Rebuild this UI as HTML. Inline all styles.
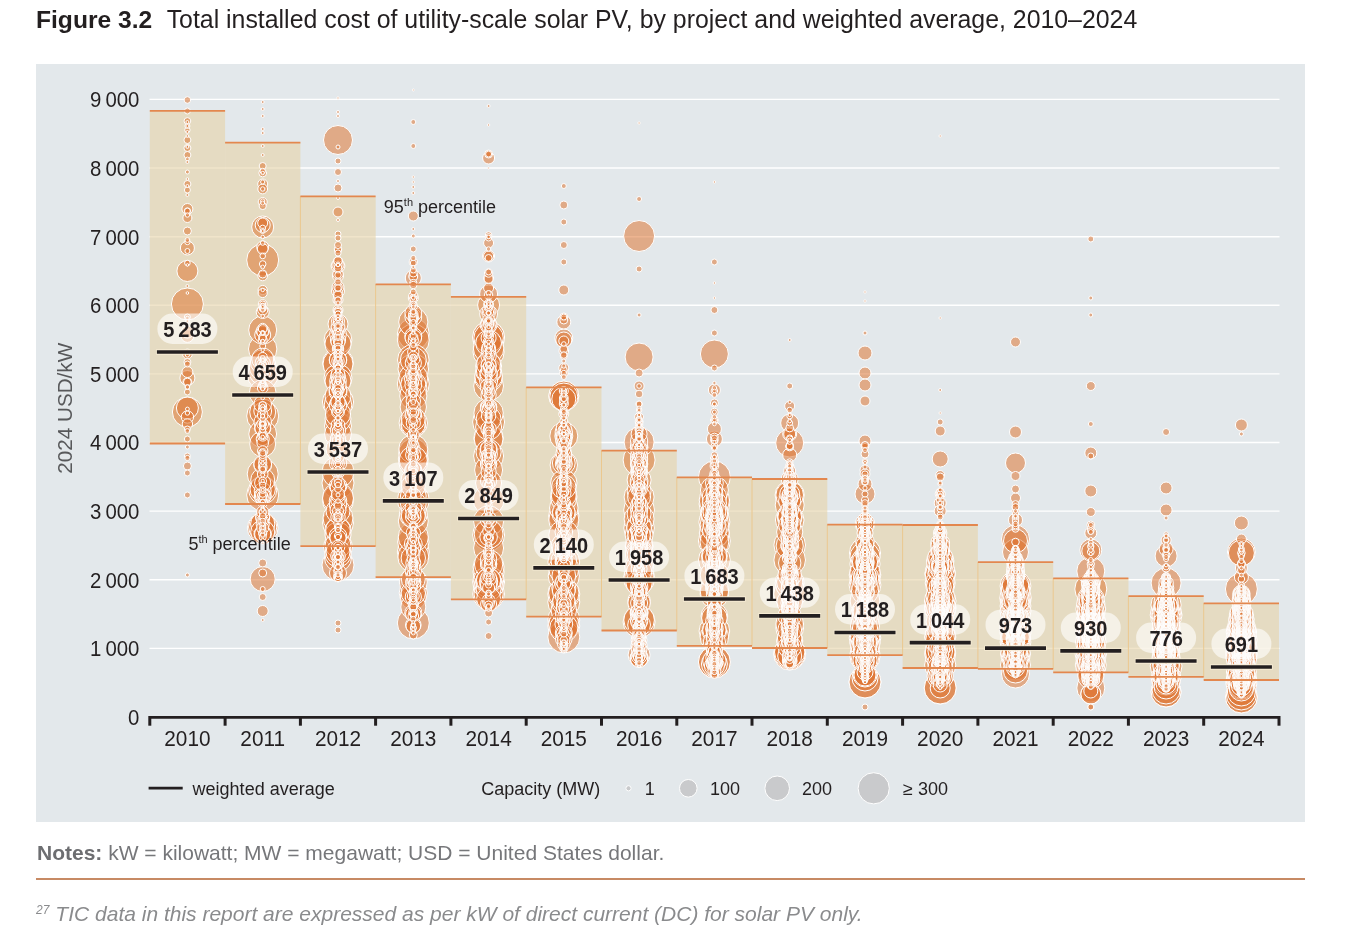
<!DOCTYPE html><html><head><meta charset="utf-8"><style>
html,body{margin:0;padding:0;background:#fff;width:1362px;height:938px;overflow:hidden}
body{position:relative;font-family:"Liberation Sans",Arial,sans-serif;color:#231f20}
.t{position:absolute;white-space:nowrap}
#title{left:36px;top:3px;font-size:24.87px;line-height:32px;color:#231f20}
#title b{font-size:24.6px;margin-right:14.5px}
#notes{left:37px;top:839.5px;font-size:21.0px;line-height:26px;color:#76777a}
#notes b{color:#6d6e71}
#sep{position:absolute;left:36px;top:878px;width:1269px;height:2px;background:#c78a64}
#foot{left:36px;top:901px;font-size:21.0px;line-height:26px;font-style:italic;color:#8a8b8d}
#foot sup{font-size:12px;vertical-align:0;position:relative;top:-7px;margin-right:6px}
svg{position:absolute;left:0;top:0}
</style></head><body>
<div class="t" id="title"><b>Figure 3.2</b>Total installed cost of utility-scale solar PV, by project and weighted average, 2010–2024</div>
<svg width="1362" height="938" viewBox="0 0 1362 938" font-family="Liberation Sans, Arial, sans-serif"><defs><filter id="blur" x="-20%" y="-30%" width="140%" height="160%"><feGaussianBlur stdDeviation="0.6"/></filter></defs><rect x="36" y="64" width="1269" height="758" fill="#e3e8eb"/><line x1="149.5" x2="1279.5" y1="648.4" y2="648.4" stroke="#fff" stroke-width="1.4"/><line x1="149.5" x2="1279.5" y1="579.8" y2="579.8" stroke="#fff" stroke-width="1.4"/><line x1="149.5" x2="1279.5" y1="511.1" y2="511.1" stroke="#fff" stroke-width="1.4"/><line x1="149.5" x2="1279.5" y1="442.5" y2="442.5" stroke="#fff" stroke-width="1.4"/><line x1="149.5" x2="1279.5" y1="373.9" y2="373.9" stroke="#fff" stroke-width="1.4"/><line x1="149.5" x2="1279.5" y1="305.3" y2="305.3" stroke="#fff" stroke-width="1.4"/><line x1="149.5" x2="1279.5" y1="236.7" y2="236.7" stroke="#fff" stroke-width="1.4"/><line x1="149.5" x2="1279.5" y1="168.0" y2="168.0" stroke="#fff" stroke-width="1.4"/><line x1="149.5" x2="1279.5" y1="99.4" y2="99.4" stroke="#fff" stroke-width="1.4"/><rect x="149.8" y="110.9" width="75.28" height="332.6" fill="#e6d3aa" fill-opacity="0.62"/><rect x="225.1" y="142.6" width="75.28" height="361.4" fill="#e6d3aa" fill-opacity="0.62"/><rect x="300.4" y="196.3" width="75.28" height="349.9" fill="#e6d3aa" fill-opacity="0.62"/><rect x="375.6" y="284.4" width="75.28" height="292.8" fill="#e6d3aa" fill-opacity="0.62"/><rect x="450.9" y="296.8" width="75.28" height="302.5" fill="#e6d3aa" fill-opacity="0.62"/><rect x="526.2" y="387.3" width="75.28" height="229.3" fill="#e6d3aa" fill-opacity="0.62"/><rect x="601.5" y="450.6" width="75.28" height="179.9" fill="#e6d3aa" fill-opacity="0.62"/><rect x="676.8" y="477.3" width="75.28" height="168.6" fill="#e6d3aa" fill-opacity="0.62"/><rect x="752.0" y="479" width="75.28" height="169.0" fill="#e6d3aa" fill-opacity="0.62"/><rect x="827.3" y="524.6" width="75.28" height="130.6" fill="#e6d3aa" fill-opacity="0.62"/><rect x="902.6" y="525" width="75.28" height="143.0" fill="#e6d3aa" fill-opacity="0.62"/><rect x="977.9" y="562.2" width="75.28" height="106.6" fill="#e6d3aa" fill-opacity="0.62"/><rect x="1053.2" y="578.3" width="75.28" height="94.1" fill="#e6d3aa" fill-opacity="0.62"/><rect x="1128.4" y="596.2" width="75.28" height="80.7" fill="#e6d3aa" fill-opacity="0.62"/><rect x="1203.7" y="603.3" width="75.28" height="76.7" fill="#e6d3aa" fill-opacity="0.62"/><line x1="300.4" x2="300.4" y1="196.3" y2="504" stroke="#ebc88f" stroke-width="1"/><line x1="375.6" x2="375.6" y1="284.4" y2="546.2" stroke="#ebc88f" stroke-width="1"/><line x1="526.2" x2="526.2" y1="387.3" y2="599.3" stroke="#ebc88f" stroke-width="1"/><line x1="601.5" x2="601.5" y1="450.6" y2="616.6" stroke="#ebc88f" stroke-width="1"/><line x1="676.8" x2="676.8" y1="477.3" y2="630.5" stroke="#ebc88f" stroke-width="1"/><line x1="752.0" x2="752.0" y1="479" y2="645.9" stroke="#ebc88f" stroke-width="1"/><line x1="827.3" x2="827.3" y1="524.6" y2="648" stroke="#ebc88f" stroke-width="1"/><line x1="902.6" x2="902.6" y1="525" y2="655.2" stroke="#ebc88f" stroke-width="1"/><line x1="977.9" x2="977.9" y1="562.2" y2="668" stroke="#ebc88f" stroke-width="1"/><line x1="1053.2" x2="1053.2" y1="578.3" y2="668.8" stroke="#ebc88f" stroke-width="1"/><line x1="1128.4" x2="1128.4" y1="596.2" y2="672.4" stroke="#ebc88f" stroke-width="1"/><line x1="1203.7" x2="1203.7" y1="603.3" y2="676.9" stroke="#ebc88f" stroke-width="1"/><g fill="#de7634" fill-opacity="0.55" stroke="#fff" stroke-width="1"><g transform="translate(187.4 0)"><circle cy="304" r="16.0"/><circle cy="412" r="15.0"/><circle cy="408" r="11.0"/><circle cy="271" r="10.5"/><circle cy="378" r="7.5"/><circle cy="248" r="7.0"/><circle cy="336" r="6.4"/><circle cy="417" r="6.2"/><circle cy="332" r="6.1"/><circle cy="209" r="5.5"/><circle cy="372" r="5.5"/><circle cy="424" r="5.2"/><circle cy="354" r="4.9"/><circle cy="218" r="4.5"/><circle cy="382" r="4.4"/><circle cy="231" r="4.0"/><circle cy="466" r="4.0"/><circle cy="382" r="3.9"/><circle cy="140" r="3.5"/><circle cy="155" r="3.5"/><circle cy="184" r="3.5"/><circle cy="362" r="3.5"/><circle cy="148" r="3.5"/><circle cy="121" r="3.4"/><circle cy="100" r="3.3"/><circle cy="211" r="3.2"/><circle cy="364" r="3.0"/><circle cy="111" r="3.0"/><circle cy="190" r="3.0"/><circle cy="392" r="3.0"/><circle cy="429" r="3.0"/><circle cy="439" r="3.0"/><circle cy="456" r="3.0"/><circle cy="473" r="3.0"/><circle cy="495" r="3.0"/><circle cy="317" r="3.0"/><circle cy="211" r="2.9"/><circle cy="263" r="2.8"/><circle cy="130" r="2.7"/><circle cy="242" r="2.7"/><circle cy="458" r="2.6"/><circle cy="251" r="2.5"/><circle cy="126" r="2.5"/><circle cy="240" r="2.4"/><circle cy="431" r="2.4"/><circle cy="387" r="2.3"/><circle cy="215" r="2.2"/><circle cy="413" r="2.2"/><circle cy="387" r="2.2"/><circle cy="355" r="2.1"/><circle cy="172" r="2.0"/><circle cy="447" r="2.0"/><circle cy="575" r="2.0"/><circle cy="159" r="1.9"/><circle cy="322" r="1.9"/><circle cy="409" r="1.9"/><circle cy="318" r="1.8"/><circle cy="321" r="1.6"/><circle cy="286" r="1.5"/><circle cy="146" r="1.5"/><circle cy="122" r="1.5"/><circle cy="126" r="1.5"/><circle cy="132" r="1.5"/><circle cy="147" r="1.5"/><circle cy="162" r="1.5"/><circle cy="195" r="1.5"/><circle cy="186" r="1.5"/><circle cy="136" r="1.4"/><circle cy="179" r="1.3"/><circle cy="293" r="1.3"/><circle cy="353" r="1.3"/><circle cy="265" r="1.3"/></g><g transform="translate(262.7 0)"><circle cy="260" r="16.0"/><circle cy="416" r="16.0"/><circle cy="495" r="16.0"/><circle cy="474" r="15.5"/><circle cy="528" r="15.4"/><circle cy="375" r="15.3"/><circle cy="349" r="14.2"/><circle cy="490" r="14.1"/><circle cy="371" r="14.1"/><circle cy="527" r="14.1"/><circle cy="330" r="14.0"/><circle cy="434" r="13.9"/><circle cy="367" r="13.5"/><circle cy="393" r="13.4"/><circle cy="412" r="13.0"/><circle cy="444" r="13.0"/><circle cy="489" r="12.7"/><circle cy="579" r="12.5"/><circle cy="362" r="12.3"/><circle cy="524" r="12.1"/><circle cy="480" r="12.0"/><circle cy="532" r="12.0"/><circle cy="227" r="11.0"/><circle cy="359" r="11.0"/><circle cy="465" r="8.9"/><circle cy="411" r="8.9"/><circle cy="464" r="8.9"/><circle cy="422" r="8.8"/><circle cy="404" r="8.8"/><circle cy="534" r="8.7"/><circle cy="491" r="8.5"/><circle cy="496" r="8.5"/><circle cy="496" r="8.3"/><circle cy="428" r="8.2"/><circle cy="372" r="8.1"/><circle cy="483" r="8.1"/><circle cy="534" r="8.1"/><circle cy="335" r="8.0"/><circle cy="428" r="7.8"/><circle cy="363" r="7.6"/><circle cy="225" r="7.5"/><circle cy="496" r="7.3"/><circle cy="517" r="7.1"/><circle cy="518" r="6.9"/><circle cy="524" r="6.6"/><circle cy="331" r="6.6"/><circle cy="439" r="6.5"/><circle cy="312" r="6.5"/><circle cy="365" r="6.2"/><circle cy="512" r="6.2"/><circle cy="521" r="6.1"/><circle cy="247" r="6.0"/><circle cy="528" r="6.0"/><circle cy="332" r="5.8"/><circle cy="424" r="5.8"/><circle cy="443" r="5.8"/><circle cy="497" r="5.7"/><circle cy="373" r="5.6"/><circle cy="611" r="5.5"/><circle cy="249" r="5.4"/><circle cy="415" r="5.3"/><circle cy="474" r="5.3"/><circle cy="388" r="5.3"/><circle cy="451" r="5.2"/><circle cy="436" r="5.1"/><circle cy="374" r="5.1"/><circle cy="310" r="5.1"/><circle cy="223" r="5.0"/><circle cy="184" r="5.0"/><circle cy="369" r="5.0"/><circle cy="495" r="4.9"/><circle cy="189" r="4.9"/><circle cy="276" r="4.8"/><circle cy="503" r="4.7"/><circle cy="521" r="4.7"/><circle cy="328" r="4.7"/><circle cy="290" r="4.6"/><circle cy="357" r="4.6"/><circle cy="293" r="4.6"/><circle cy="202" r="4.5"/><circle cy="501" r="4.5"/><circle cy="340" r="4.5"/><circle cy="467" r="4.4"/><circle cy="434" r="4.4"/><circle cy="304" r="4.4"/><circle cy="366" r="4.3"/><circle cy="329" r="4.3"/><circle cy="409" r="4.2"/><circle cy="453" r="4.2"/><circle cy="533" r="4.1"/><circle cy="385" r="4.1"/><circle cy="463" r="4.1"/><circle cy="337" r="4.0"/><circle cy="497" r="4.0"/><circle cy="274" r="4.0"/><circle cy="563" r="4.0"/><circle cy="573" r="4.0"/><circle cy="365" r="4.0"/><circle cy="406" r="4.0"/><circle cy="500" r="3.9"/><circle cy="481" r="3.9"/><circle cy="173" r="3.9"/><circle cy="534" r="3.9"/><circle cy="517" r="3.9"/><circle cy="424" r="3.8"/><circle cy="373" r="3.8"/><circle cy="460" r="3.8"/><circle cy="497" r="3.7"/><circle cy="435" r="3.7"/><circle cy="436" r="3.7"/><circle cy="457" r="3.7"/><circle cy="308" r="3.7"/><circle cy="513" r="3.6"/><circle cy="455" r="3.6"/><circle cy="512" r="3.6"/><circle cy="405" r="3.6"/><circle cy="537" r="3.6"/><circle cy="206" r="3.6"/><circle cy="468" r="3.5"/><circle cy="166" r="3.5"/><circle cy="597" r="3.5"/><circle cy="338" r="3.5"/><circle cy="308" r="3.4"/><circle cy="494" r="3.4"/><circle cy="466" r="3.4"/><circle cy="425" r="3.4"/><circle cy="424" r="3.3"/><circle cy="264" r="3.3"/><circle cy="429" r="3.3"/><circle cy="516" r="3.3"/><circle cy="470" r="3.2"/><circle cy="485" r="3.2"/><circle cy="528" r="3.2"/><circle cy="453" r="3.2"/><circle cy="490" r="3.2"/><circle cy="408" r="3.2"/><circle cy="524" r="3.2"/><circle cy="360" r="3.1"/><circle cy="384" r="3.0"/><circle cy="469" r="3.0"/><circle cy="503" r="3.0"/><circle cy="346" r="3.0"/><circle cy="502" r="3.0"/><circle cy="304" r="3.0"/><circle cy="528" r="2.9"/><circle cy="423" r="2.9"/><circle cy="228" r="2.9"/><circle cy="306" r="2.9"/><circle cy="384" r="2.9"/><circle cy="430" r="2.9"/><circle cy="256" r="2.8"/><circle cy="521" r="2.8"/><circle cy="308" r="2.8"/><circle cy="386" r="2.7"/><circle cy="419" r="2.7"/><circle cy="171" r="2.7"/><circle cy="424" r="2.7"/><circle cy="381" r="2.7"/><circle cy="307" r="2.5"/><circle cy="502" r="2.5"/><circle cy="589" r="2.5"/><circle cy="427" r="2.5"/><circle cy="231" r="2.5"/><circle cy="376" r="2.4"/><circle cy="388" r="2.4"/><circle cy="358" r="2.4"/><circle cy="413" r="2.4"/><circle cy="361" r="2.3"/><circle cy="243" r="2.3"/><circle cy="333" r="2.3"/><circle cy="333" r="2.3"/><circle cy="534" r="2.3"/><circle cy="342" r="2.3"/><circle cy="306" r="2.3"/><circle cy="369" r="2.2"/><circle cy="535" r="2.2"/><circle cy="189" r="2.2"/><circle cy="310" r="2.2"/><circle cy="531" r="2.2"/><circle cy="201" r="2.1"/><circle cy="424" r="2.1"/><circle cy="182" r="2.1"/><circle cy="379" r="2.1"/><circle cy="416" r="2.1"/><circle cy="416" r="2.0"/><circle cy="406" r="2.0"/><circle cy="409" r="2.0"/><circle cy="475" r="2.0"/><circle cy="203" r="2.0"/><circle cy="524" r="1.9"/><circle cy="428" r="1.9"/><circle cy="389" r="1.9"/><circle cy="409" r="1.9"/><circle cy="267" r="1.9"/><circle cy="341" r="1.8"/><circle cy="437" r="1.8"/><circle cy="504" r="1.8"/><circle cy="366" r="1.8"/><circle cy="237" r="1.8"/><circle cy="398" r="1.8"/><circle cy="316" r="1.8"/><circle cy="505" r="1.8"/><circle cy="509" r="1.8"/><circle cy="463" r="1.7"/><circle cy="173" r="1.7"/><circle cy="360" r="1.7"/><circle cy="528" r="1.7"/><circle cy="481" r="1.7"/><circle cy="290" r="1.7"/><circle cy="510" r="1.7"/><circle cy="540" r="1.7"/><circle cy="333" r="1.7"/><circle cy="350" r="1.7"/><circle cy="504" r="1.6"/><circle cy="307" r="1.6"/><circle cy="490" r="1.6"/><circle cy="382" r="1.6"/><circle cy="365" r="1.5"/><circle cy="231" r="1.5"/><circle cy="394" r="1.5"/><circle cy="102" r="1.5"/><circle cy="109" r="1.5"/><circle cy="116" r="1.5"/><circle cy="129" r="1.5"/><circle cy="133" r="1.5"/><circle cy="146" r="1.5"/><circle cy="155" r="1.5"/><circle cy="620" r="1.5"/></g><g transform="translate(338.0 0)"><circle cy="483" r="16.0"/><circle cy="565" r="16.0"/><circle cy="472" r="16.0"/><circle cy="500" r="15.7"/><circle cy="402" r="15.6"/><circle cy="498" r="15.5"/><circle cy="523" r="15.5"/><circle cy="363" r="15.4"/><circle cy="364" r="15.0"/><circle cy="518" r="15.0"/><circle cy="547" r="14.5"/><circle cy="140" r="14.5"/><circle cy="378" r="14.0"/><circle cy="340" r="13.9"/><circle cy="405" r="13.8"/><circle cy="558" r="13.5"/><circle cy="426" r="13.5"/><circle cy="434" r="13.4"/><circle cy="531" r="13.3"/><circle cy="554" r="13.1"/><circle cy="344" r="13.1"/><circle cy="381" r="13.0"/><circle cy="419" r="13.0"/><circle cy="535" r="13.0"/><circle cy="396" r="13.0"/><circle cy="545" r="12.9"/><circle cy="414" r="12.6"/><circle cy="530" r="12.4"/><circle cy="449" r="12.0"/><circle cy="511" r="12.0"/><circle cy="552" r="12.0"/><circle cy="324" r="10.0"/><circle cy="392" r="8.9"/><circle cy="390" r="8.9"/><circle cy="405" r="8.8"/><circle cy="360" r="8.8"/><circle cy="501" r="8.8"/><circle cy="486" r="8.8"/><circle cy="536" r="8.8"/><circle cy="505" r="8.7"/><circle cy="463" r="8.7"/><circle cy="360" r="8.6"/><circle cy="573" r="8.5"/><circle cy="444" r="8.5"/><circle cy="445" r="8.4"/><circle cy="334" r="8.4"/><circle cy="381" r="8.3"/><circle cy="538" r="8.1"/><circle cy="385" r="8.1"/><circle cy="510" r="8.0"/><circle cy="487" r="7.8"/><circle cy="430" r="7.7"/><circle cy="439" r="7.7"/><circle cy="340" r="7.6"/><circle cy="376" r="7.4"/><circle cy="556" r="7.3"/><circle cy="402" r="7.3"/><circle cy="517" r="7.2"/><circle cy="402" r="7.2"/><circle cy="500" r="7.2"/><circle cy="330" r="7.0"/><circle cy="342" r="7.0"/><circle cy="327" r="6.9"/><circle cy="266" r="6.9"/><circle cy="547" r="6.8"/><circle cy="425" r="6.8"/><circle cy="472" r="6.6"/><circle cy="496" r="6.6"/><circle cy="378" r="6.5"/><circle cy="483" r="6.5"/><circle cy="494" r="6.5"/><circle cy="381" r="6.5"/><circle cy="373" r="6.5"/><circle cy="291" r="6.5"/><circle cy="321" r="6.5"/><circle cy="412" r="6.4"/><circle cy="464" r="6.3"/><circle cy="361" r="6.2"/><circle cy="390" r="6.1"/><circle cy="457" r="6.1"/><circle cy="265" r="6.0"/><circle cy="287" r="6.0"/><circle cy="437" r="6.0"/><circle cy="558" r="6.0"/><circle cy="382" r="5.9"/><circle cy="411" r="5.9"/><circle cy="349" r="5.7"/><circle cy="431" r="5.7"/><circle cy="331" r="5.5"/><circle cy="441" r="5.5"/><circle cy="276" r="5.5"/><circle cy="511" r="5.5"/><circle cy="564" r="5.5"/><circle cy="338" r="5.4"/><circle cy="388" r="5.4"/><circle cy="274" r="5.3"/><circle cy="390" r="5.2"/><circle cy="387" r="5.2"/><circle cy="557" r="5.2"/><circle cy="334" r="5.1"/><circle cy="517" r="5.1"/><circle cy="553" r="5.0"/><circle cy="212" r="5.0"/><circle cy="300" r="5.0"/><circle cy="310" r="5.0"/><circle cy="348" r="5.0"/><circle cy="320" r="4.9"/><circle cy="366" r="4.8"/><circle cy="388" r="4.6"/><circle cy="296" r="4.6"/><circle cy="322" r="4.6"/><circle cy="261" r="4.6"/><circle cy="342" r="4.6"/><circle cy="364" r="4.5"/><circle cy="332" r="4.5"/><circle cy="292" r="4.4"/><circle cy="464" r="4.4"/><circle cy="361" r="4.4"/><circle cy="473" r="4.4"/><circle cy="565" r="4.4"/><circle cy="338" r="4.4"/><circle cy="342" r="4.4"/><circle cy="333" r="4.3"/><circle cy="311" r="4.3"/><circle cy="571" r="4.3"/><circle cy="395" r="4.3"/><circle cy="394" r="4.3"/><circle cy="406" r="4.3"/><circle cy="354" r="4.3"/><circle cy="410" r="4.3"/><circle cy="375" r="4.3"/><circle cy="478" r="4.2"/><circle cy="349" r="4.2"/><circle cy="474" r="4.2"/><circle cy="523" r="4.2"/><circle cy="546" r="4.2"/><circle cy="312" r="4.2"/><circle cy="379" r="4.2"/><circle cy="295" r="4.2"/><circle cy="504" r="4.2"/><circle cy="575" r="4.2"/><circle cy="269" r="4.1"/><circle cy="427" r="4.1"/><circle cy="577" r="4.1"/><circle cy="324" r="4.1"/><circle cy="265" r="4.1"/><circle cy="577" r="4.1"/><circle cy="261" r="4.1"/><circle cy="287" r="4.1"/><circle cy="385" r="4.0"/><circle cy="555" r="4.0"/><circle cy="336" r="4.0"/><circle cy="188" r="4.0"/><circle cy="578" r="4.0"/><circle cy="354" r="4.0"/><circle cy="348" r="4.0"/><circle cy="516" r="4.0"/><circle cy="422" r="4.0"/><circle cy="343" r="3.9"/><circle cy="483" r="3.9"/><circle cy="569" r="3.9"/><circle cy="506" r="3.9"/><circle cy="454" r="3.9"/><circle cy="559" r="3.9"/><circle cy="268" r="3.9"/><circle cy="365" r="3.9"/><circle cy="301" r="3.9"/><circle cy="326" r="3.8"/><circle cy="249" r="3.8"/><circle cy="315" r="3.8"/><circle cy="518" r="3.8"/><circle cy="314" r="3.8"/><circle cy="347" r="3.8"/><circle cy="250" r="3.7"/><circle cy="536" r="3.7"/><circle cy="550" r="3.7"/><circle cy="312" r="3.7"/><circle cy="358" r="3.7"/><circle cy="517" r="3.7"/><circle cy="578" r="3.7"/><circle cy="527" r="3.7"/><circle cy="360" r="3.7"/><circle cy="550" r="3.7"/><circle cy="426" r="3.6"/><circle cy="550" r="3.5"/><circle cy="354" r="3.5"/><circle cy="172" r="3.5"/><circle cy="564" r="3.5"/><circle cy="408" r="3.5"/><circle cy="337" r="3.5"/><circle cy="245" r="3.5"/><circle cy="359" r="3.5"/><circle cy="554" r="3.4"/><circle cy="328" r="3.4"/><circle cy="326" r="3.4"/><circle cy="388" r="3.4"/><circle cy="489" r="3.4"/><circle cy="394" r="3.3"/><circle cy="282" r="3.3"/><circle cy="455" r="3.3"/><circle cy="474" r="3.3"/><circle cy="288" r="3.3"/><circle cy="393" r="3.2"/><circle cy="275" r="3.2"/><circle cy="406" r="3.2"/><circle cy="300" r="3.2"/><circle cy="253" r="3.1"/><circle cy="558" r="3.1"/><circle cy="409" r="3.1"/><circle cy="318" r="3.0"/><circle cy="314" r="3.0"/><circle cy="367" r="3.0"/><circle cy="391" r="3.0"/><circle cy="407" r="3.0"/><circle cy="557" r="3.0"/><circle cy="161" r="3.0"/><circle cy="234" r="3.0"/><circle cy="238" r="3.0"/><circle cy="623" r="3.0"/><circle cy="630" r="3.0"/><circle cy="567" r="3.0"/><circle cy="368" r="3.0"/><circle cy="318" r="2.9"/><circle cy="529" r="2.9"/><circle cy="332" r="2.9"/><circle cy="348" r="2.9"/><circle cy="352" r="2.9"/><circle cy="424" r="2.8"/><circle cy="439" r="2.8"/><circle cy="485" r="2.8"/><circle cy="530" r="2.8"/><circle cy="464" r="2.8"/><circle cy="527" r="2.7"/><circle cy="381" r="2.7"/><circle cy="547" r="2.7"/><circle cy="537" r="2.7"/><circle cy="577" r="2.7"/><circle cy="455" r="2.7"/><circle cy="372" r="2.7"/><circle cy="394" r="2.6"/><circle cy="557" r="2.6"/><circle cy="442" r="2.6"/><circle cy="357" r="2.6"/><circle cy="418" r="2.6"/><circle cy="530" r="2.6"/><circle cy="378" r="2.5"/><circle cy="574" r="2.5"/><circle cy="403" r="2.5"/><circle cy="379" r="2.4"/><circle cy="459" r="2.4"/><circle cy="359" r="2.4"/><circle cy="567" r="2.4"/><circle cy="400" r="2.3"/><circle cy="326" r="2.3"/><circle cy="501" r="2.3"/><circle cy="518" r="2.3"/><circle cy="469" r="2.3"/><circle cy="370" r="2.2"/><circle cy="320" r="2.2"/><circle cy="418" r="2.2"/><circle cy="434" r="2.2"/><circle cy="418" r="2.2"/><circle cy="413" r="2.2"/><circle cy="405" r="2.2"/><circle cy="573" r="2.1"/><circle cy="375" r="2.1"/><circle cy="337" r="2.1"/><circle cy="511" r="2.1"/><circle cy="575" r="2.1"/><circle cy="403" r="2.1"/><circle cy="562" r="2.1"/><circle cy="264" r="2.0"/><circle cy="303" r="2.0"/><circle cy="520" r="2.0"/><circle cy="147" r="2.0"/><circle cy="495" r="2.0"/><circle cy="562" r="2.0"/><circle cy="548" r="2.0"/><circle cy="411" r="1.9"/><circle cy="381" r="1.9"/><circle cy="316" r="1.9"/><circle cy="359" r="1.9"/><circle cy="422" r="1.9"/><circle cy="371" r="1.9"/><circle cy="355" r="1.9"/><circle cy="450" r="1.8"/><circle cy="438" r="1.8"/><circle cy="441" r="1.8"/><circle cy="425" r="1.8"/><circle cy="475" r="1.8"/><circle cy="265" r="1.8"/><circle cy="265" r="1.7"/><circle cy="399" r="1.7"/><circle cy="330" r="1.7"/><circle cy="411" r="1.7"/><circle cy="434" r="1.6"/><circle cy="458" r="1.6"/><circle cy="383" r="1.6"/><circle cy="352" r="1.6"/><circle cy="319" r="1.6"/><circle cy="456" r="1.6"/><circle cy="474" r="1.6"/><circle cy="455" r="1.5"/><circle cy="393" r="1.5"/><circle cy="553" r="1.5"/><circle cy="512" r="1.5"/><circle cy="112" r="1.5"/><circle cy="116" r="1.5"/><circle cy="181" r="1.5"/><circle cy="198" r="1.5"/><circle cy="220" r="1.5"/><circle cy="98" r="1.2"/></g><g transform="translate(413.3 0)"><circle cy="334" r="16.0"/><circle cy="340" r="16.0"/><circle cy="384" r="16.0"/><circle cy="500" r="16.0"/><circle cy="552" r="16.0"/><circle cy="623" r="16.0"/><circle cy="360" r="15.8"/><circle cy="542" r="15.7"/><circle cy="557" r="15.5"/><circle cy="369" r="15.3"/><circle cy="537" r="15.1"/><circle cy="521" r="15.0"/><circle cy="459" r="15.0"/><circle cy="322" r="14.6"/><circle cy="453" r="14.6"/><circle cy="462" r="14.5"/><circle cy="449" r="14.5"/><circle cy="378" r="14.4"/><circle cy="423" r="14.2"/><circle cy="593" r="14.1"/><circle cy="514" r="14.0"/><circle cy="460" r="14.0"/><circle cy="582" r="14.0"/><circle cy="388" r="13.6"/><circle cy="396" r="13.6"/><circle cy="407" r="13.2"/><circle cy="597" r="13.0"/><circle cy="360" r="13.0"/><circle cy="496" r="12.9"/><circle cy="504" r="12.8"/><circle cy="607" r="12.5"/><circle cy="384" r="12.5"/><circle cy="425" r="12.4"/><circle cy="514" r="12.4"/><circle cy="558" r="12.2"/><circle cy="593" r="12.2"/><circle cy="480" r="12.2"/><circle cy="486" r="12.0"/><circle cy="516" r="12.0"/><circle cy="579" r="12.0"/><circle cy="424" r="12.0"/><circle cy="419" r="12.0"/><circle cy="544" r="8.9"/><circle cy="379" r="8.8"/><circle cy="471" r="8.8"/><circle cy="613" r="8.6"/><circle cy="470" r="8.5"/><circle cy="336" r="8.5"/><circle cy="317" r="8.4"/><circle cy="385" r="8.4"/><circle cy="415" r="8.4"/><circle cy="313" r="8.4"/><circle cy="338" r="8.3"/><circle cy="508" r="8.3"/><circle cy="571" r="8.2"/><circle cy="363" r="8.1"/><circle cy="597" r="8.1"/><circle cy="278" r="8.0"/><circle cy="478" r="7.9"/><circle cy="496" r="7.9"/><circle cy="625" r="7.8"/><circle cy="374" r="7.8"/><circle cy="517" r="7.8"/><circle cy="414" r="7.7"/><circle cy="614" r="7.7"/><circle cy="455" r="7.7"/><circle cy="394" r="7.6"/><circle cy="582" r="7.5"/><circle cy="469" r="7.5"/><circle cy="586" r="7.5"/><circle cy="563" r="7.5"/><circle cy="547" r="7.5"/><circle cy="582" r="7.5"/><circle cy="514" r="7.5"/><circle cy="626" r="7.3"/><circle cy="549" r="7.3"/><circle cy="576" r="7.2"/><circle cy="401" r="7.2"/><circle cy="533" r="7.2"/><circle cy="423" r="7.1"/><circle cy="407" r="6.9"/><circle cy="449" r="6.8"/><circle cy="377" r="6.7"/><circle cy="553" r="6.7"/><circle cy="359" r="6.6"/><circle cy="567" r="6.5"/><circle cy="581" r="6.3"/><circle cy="544" r="6.2"/><circle cy="559" r="6.2"/><circle cy="435" r="6.0"/><circle cy="596" r="5.9"/><circle cy="411" r="5.8"/><circle cy="574" r="5.8"/><circle cy="413" r="5.7"/><circle cy="579" r="5.7"/><circle cy="537" r="5.7"/><circle cy="352" r="5.7"/><circle cy="552" r="5.7"/><circle cy="368" r="5.6"/><circle cy="445" r="5.6"/><circle cy="376" r="5.4"/><circle cy="541" r="5.4"/><circle cy="517" r="5.3"/><circle cy="616" r="5.3"/><circle cy="383" r="5.3"/><circle cy="413" r="5.2"/><circle cy="604" r="5.2"/><circle cy="457" r="5.2"/><circle cy="318" r="5.2"/><circle cy="340" r="5.1"/><circle cy="510" r="5.1"/><circle cy="392" r="5.0"/><circle cy="216" r="5.0"/><circle cy="298" r="5.0"/><circle cy="404" r="5.0"/><circle cy="468" r="4.9"/><circle cy="450" r="4.8"/><circle cy="583" r="4.8"/><circle cy="356" r="4.8"/><circle cy="314" r="4.7"/><circle cy="457" r="4.6"/><circle cy="316" r="4.6"/><circle cy="296" r="4.6"/><circle cy="515" r="4.5"/><circle cy="373" r="4.5"/><circle cy="612" r="4.5"/><circle cy="337" r="4.5"/><circle cy="422" r="4.5"/><circle cy="566" r="4.5"/><circle cy="457" r="4.4"/><circle cy="578" r="4.4"/><circle cy="565" r="4.4"/><circle cy="606" r="4.4"/><circle cy="320" r="4.4"/><circle cy="276" r="4.4"/><circle cy="562" r="4.3"/><circle cy="592" r="4.3"/><circle cy="500" r="4.3"/><circle cy="472" r="4.3"/><circle cy="474" r="4.3"/><circle cy="374" r="4.3"/><circle cy="277" r="4.3"/><circle cy="586" r="4.3"/><circle cy="502" r="4.3"/><circle cy="447" r="4.3"/><circle cy="503" r="4.2"/><circle cy="441" r="4.2"/><circle cy="562" r="4.2"/><circle cy="565" r="4.2"/><circle cy="306" r="4.2"/><circle cy="481" r="4.2"/><circle cy="472" r="4.2"/><circle cy="441" r="4.2"/><circle cy="318" r="4.1"/><circle cy="389" r="4.1"/><circle cy="262" r="4.1"/><circle cy="526" r="4.1"/><circle cy="570" r="4.1"/><circle cy="385" r="4.1"/><circle cy="467" r="4.0"/><circle cy="371" r="4.0"/><circle cy="415" r="4.0"/><circle cy="273" r="4.0"/><circle cy="603" r="4.0"/><circle cy="635" r="4.0"/><circle cy="472" r="4.0"/><circle cy="432" r="4.0"/><circle cy="394" r="4.0"/><circle cy="563" r="4.0"/><circle cy="573" r="4.0"/><circle cy="321" r="4.0"/><circle cy="598" r="3.9"/><circle cy="591" r="3.9"/><circle cy="491" r="3.9"/><circle cy="511" r="3.9"/><circle cy="391" r="3.9"/><circle cy="451" r="3.9"/><circle cy="581" r="3.9"/><circle cy="347" r="3.9"/><circle cy="538" r="3.8"/><circle cy="427" r="3.8"/><circle cy="607" r="3.8"/><circle cy="533" r="3.8"/><circle cy="374" r="3.8"/><circle cy="328" r="3.8"/><circle cy="325" r="3.7"/><circle cy="283" r="3.7"/><circle cy="285" r="3.7"/><circle cy="358" r="3.7"/><circle cy="443" r="3.7"/><circle cy="323" r="3.7"/><circle cy="595" r="3.7"/><circle cy="377" r="3.7"/><circle cy="508" r="3.7"/><circle cy="298" r="3.7"/><circle cy="587" r="3.6"/><circle cy="577" r="3.6"/><circle cy="498" r="3.6"/><circle cy="465" r="3.6"/><circle cy="607" r="3.6"/><circle cy="304" r="3.6"/><circle cy="613" r="3.5"/><circle cy="366" r="3.5"/><circle cy="318" r="3.5"/><circle cy="613" r="3.5"/><circle cy="600" r="3.5"/><circle cy="451" r="3.5"/><circle cy="582" r="3.5"/><circle cy="418" r="3.5"/><circle cy="564" r="3.5"/><circle cy="379" r="3.5"/><circle cy="420" r="3.5"/><circle cy="565" r="3.5"/><circle cy="366" r="3.4"/><circle cy="614" r="3.4"/><circle cy="449" r="3.4"/><circle cy="512" r="3.4"/><circle cy="563" r="3.4"/><circle cy="299" r="3.4"/><circle cy="452" r="3.4"/><circle cy="437" r="3.4"/><circle cy="379" r="3.4"/><circle cy="537" r="3.4"/><circle cy="434" r="3.4"/><circle cy="509" r="3.4"/><circle cy="562" r="3.3"/><circle cy="526" r="3.3"/><circle cy="601" r="3.3"/><circle cy="399" r="3.3"/><circle cy="412" r="3.3"/><circle cy="615" r="3.3"/><circle cy="601" r="3.2"/><circle cy="551" r="3.2"/><circle cy="387" r="3.2"/><circle cy="394" r="3.2"/><circle cy="382" r="3.2"/><circle cy="384" r="3.2"/><circle cy="567" r="3.2"/><circle cy="336" r="3.1"/><circle cy="540" r="3.1"/><circle cy="590" r="3.1"/><circle cy="548" r="3.1"/><circle cy="558" r="3.1"/><circle cy="270" r="3.0"/><circle cy="513" r="3.0"/><circle cy="460" r="3.0"/><circle cy="628" r="3.0"/><circle cy="386" r="3.0"/><circle cy="249" r="3.0"/><circle cy="263" r="3.0"/><circle cy="292" r="3.0"/><circle cy="313" r="3.0"/><circle cy="464" r="3.0"/><circle cy="628" r="3.0"/><circle cy="314" r="3.0"/><circle cy="496" r="2.9"/><circle cy="486" r="2.9"/><circle cy="394" r="2.9"/><circle cy="487" r="2.9"/><circle cy="343" r="2.9"/><circle cy="364" r="2.9"/><circle cy="614" r="2.9"/><circle cy="526" r="2.8"/><circle cy="597" r="2.8"/><circle cy="599" r="2.8"/><circle cy="512" r="2.8"/><circle cy="357" r="2.8"/><circle cy="450" r="2.8"/><circle cy="495" r="2.8"/><circle cy="484" r="2.8"/><circle cy="371" r="2.8"/><circle cy="533" r="2.8"/><circle cy="311" r="2.8"/><circle cy="328" r="2.7"/><circle cy="619" r="2.7"/><circle cy="548" r="2.7"/><circle cy="471" r="2.7"/><circle cy="565" r="2.7"/><circle cy="556" r="2.7"/><circle cy="366" r="2.7"/><circle cy="304" r="2.7"/><circle cy="564" r="2.7"/><circle cy="529" r="2.6"/><circle cy="380" r="2.6"/><circle cy="437" r="2.6"/><circle cy="491" r="2.6"/><circle cy="456" r="2.6"/><circle cy="258" r="2.6"/><circle cy="515" r="2.6"/><circle cy="487" r="2.6"/><circle cy="312" r="2.6"/><circle cy="513" r="2.6"/><circle cy="384" r="2.6"/><circle cy="322" r="2.5"/><circle cy="345" r="2.5"/><circle cy="590" r="2.5"/><circle cy="122" r="2.5"/><circle cy="146" r="2.5"/><circle cy="502" r="2.5"/><circle cy="402" r="2.5"/><circle cy="631" r="2.5"/><circle cy="441" r="2.5"/><circle cy="509" r="2.4"/><circle cy="544" r="2.4"/><circle cy="438" r="2.4"/><circle cy="458" r="2.4"/><circle cy="495" r="2.4"/><circle cy="377" r="2.3"/><circle cy="430" r="2.3"/><circle cy="552" r="2.3"/><circle cy="625" r="2.3"/><circle cy="340" r="2.2"/><circle cy="560" r="2.2"/><circle cy="625" r="2.2"/><circle cy="548" r="2.2"/><circle cy="569" r="2.2"/><circle cy="443" r="2.1"/><circle cy="529" r="2.1"/><circle cy="552" r="2.1"/><circle cy="532" r="2.1"/><circle cy="513" r="2.1"/><circle cy="359" r="2.1"/><circle cy="518" r="2.0"/><circle cy="305" r="2.0"/><circle cy="535" r="2.0"/><circle cy="600" r="2.0"/><circle cy="236" r="2.0"/><circle cy="590" r="2.0"/><circle cy="563" r="2.0"/><circle cy="297" r="2.0"/><circle cy="307" r="1.9"/><circle cy="568" r="1.9"/><circle cy="501" r="1.9"/><circle cy="580" r="1.9"/><circle cy="561" r="1.9"/><circle cy="298" r="1.9"/><circle cy="633" r="1.9"/><circle cy="328" r="1.9"/><circle cy="626" r="1.9"/><circle cy="363" r="1.8"/><circle cy="511" r="1.8"/><circle cy="625" r="1.8"/><circle cy="425" r="1.8"/><circle cy="341" r="1.8"/><circle cy="491" r="1.8"/><circle cy="437" r="1.8"/><circle cy="593" r="1.8"/><circle cy="571" r="1.8"/><circle cy="629" r="1.7"/><circle cy="579" r="1.7"/><circle cy="488" r="1.7"/><circle cy="560" r="1.7"/><circle cy="396" r="1.6"/><circle cy="581" r="1.6"/><circle cy="542" r="1.6"/><circle cy="267" r="1.6"/><circle cy="333" r="1.6"/><circle cy="480" r="1.6"/><circle cy="503" r="1.6"/><circle cy="517" r="1.5"/><circle cy="426" r="1.5"/><circle cy="437" r="1.5"/><circle cy="622" r="1.5"/><circle cy="583" r="1.5"/><circle cy="357" r="1.5"/><circle cy="529" r="1.5"/><circle cy="542" r="1.5"/><circle cy="383" r="1.5"/><circle cy="187" r="1.5"/><circle cy="193" r="1.5"/><circle cy="229" r="1.5"/><circle cy="177" r="1.2"/><circle cy="182" r="1.2"/><circle cy="90" r="1.0"/></g><g transform="translate(488.6 0)"><circle cy="338" r="16.0"/><circle cy="337" r="16.0"/><circle cy="422" r="16.0"/><circle cy="535" r="16.0"/><circle cy="582" r="16.0"/><circle cy="594" r="15.9"/><circle cy="352" r="15.6"/><circle cy="572" r="15.6"/><circle cy="567" r="15.5"/><circle cy="500" r="15.4"/><circle cy="348" r="15.3"/><circle cy="521" r="15.1"/><circle cy="581" r="15.0"/><circle cy="456" r="15.0"/><circle cy="548" r="15.0"/><circle cy="386" r="14.9"/><circle cy="338" r="14.7"/><circle cy="413" r="14.7"/><circle cy="438" r="14.7"/><circle cy="594" r="14.6"/><circle cy="586" r="14.6"/><circle cy="439" r="14.4"/><circle cy="534" r="14.4"/><circle cy="564" r="14.2"/><circle cy="470" r="14.0"/><circle cy="378" r="13.9"/><circle cy="584" r="13.8"/><circle cy="376" r="13.8"/><circle cy="483" r="13.0"/><circle cy="366" r="13.0"/><circle cy="427" r="13.0"/><circle cy="371" r="13.0"/><circle cy="343" r="12.9"/><circle cy="582" r="12.9"/><circle cy="452" r="12.6"/><circle cy="589" r="12.5"/><circle cy="419" r="12.4"/><circle cy="581" r="12.4"/><circle cy="371" r="12.2"/><circle cy="580" r="12.1"/><circle cy="364" r="12.0"/><circle cy="599" r="12.0"/><circle cy="305" r="11.0"/><circle cy="294" r="9.0"/><circle cy="381" r="9.0"/><circle cy="581" r="9.0"/><circle cy="314" r="8.9"/><circle cy="537" r="8.8"/><circle cy="375" r="8.8"/><circle cy="584" r="8.8"/><circle cy="454" r="8.8"/><circle cy="495" r="8.7"/><circle cy="373" r="8.6"/><circle cy="449" r="8.6"/><circle cy="325" r="8.5"/><circle cy="387" r="8.4"/><circle cy="520" r="8.3"/><circle cy="564" r="8.2"/><circle cy="464" r="8.2"/><circle cy="407" r="8.2"/><circle cy="464" r="8.2"/><circle cy="585" r="8.1"/><circle cy="449" r="8.1"/><circle cy="564" r="8.1"/><circle cy="559" r="8.1"/><circle cy="481" r="8.1"/><circle cy="407" r="8.1"/><circle cy="409" r="8.0"/><circle cy="578" r="8.0"/><circle cy="604" r="8.0"/><circle cy="408" r="7.9"/><circle cy="356" r="7.7"/><circle cy="429" r="7.7"/><circle cy="395" r="7.6"/><circle cy="324" r="7.6"/><circle cy="472" r="7.6"/><circle cy="366" r="7.6"/><circle cy="338" r="7.5"/><circle cy="365" r="7.5"/><circle cy="370" r="7.3"/><circle cy="416" r="7.2"/><circle cy="350" r="7.1"/><circle cy="518" r="7.1"/><circle cy="455" r="7.0"/><circle cy="564" r="7.0"/><circle cy="463" r="6.9"/><circle cy="348" r="6.9"/><circle cy="313" r="6.7"/><circle cy="327" r="6.7"/><circle cy="465" r="6.6"/><circle cy="456" r="6.5"/><circle cy="311" r="6.5"/><circle cy="392" r="6.4"/><circle cy="408" r="6.3"/><circle cy="461" r="6.2"/><circle cy="600" r="6.2"/><circle cy="457" r="6.2"/><circle cy="347" r="6.0"/><circle cy="158" r="6.0"/><circle cy="256" r="6.0"/><circle cy="320" r="6.0"/><circle cy="588" r="6.0"/><circle cy="432" r="5.9"/><circle cy="531" r="5.9"/><circle cy="484" r="5.9"/><circle cy="355" r="5.8"/><circle cy="603" r="5.8"/><circle cy="520" r="5.6"/><circle cy="577" r="5.6"/><circle cy="342" r="5.4"/><circle cy="367" r="5.4"/><circle cy="429" r="5.3"/><circle cy="366" r="5.3"/><circle cy="552" r="5.3"/><circle cy="433" r="5.2"/><circle cy="406" r="5.2"/><circle cy="322" r="5.1"/><circle cy="325" r="5.0"/><circle cy="243" r="5.0"/><circle cy="278" r="5.0"/><circle cy="288" r="5.0"/><circle cy="312" r="5.0"/><circle cy="256" r="5.0"/><circle cy="556" r="4.9"/><circle cy="436" r="4.9"/><circle cy="336" r="4.9"/><circle cy="538" r="4.9"/><circle cy="453" r="4.8"/><circle cy="304" r="4.8"/><circle cy="387" r="4.8"/><circle cy="478" r="4.7"/><circle cy="568" r="4.7"/><circle cy="305" r="4.7"/><circle cy="521" r="4.6"/><circle cy="601" r="4.6"/><circle cy="279" r="4.5"/><circle cy="402" r="4.5"/><circle cy="392" r="4.5"/><circle cy="553" r="4.4"/><circle cy="385" r="4.4"/><circle cy="494" r="4.4"/><circle cy="331" r="4.4"/><circle cy="447" r="4.4"/><circle cy="526" r="4.4"/><circle cy="358" r="4.4"/><circle cy="455" r="4.4"/><circle cy="322" r="4.4"/><circle cy="384" r="4.4"/><circle cy="427" r="4.3"/><circle cy="569" r="4.3"/><circle cy="562" r="4.3"/><circle cy="511" r="4.3"/><circle cy="334" r="4.3"/><circle cy="576" r="4.3"/><circle cy="461" r="4.3"/><circle cy="537" r="4.3"/><circle cy="396" r="4.3"/><circle cy="334" r="4.2"/><circle cy="273" r="4.2"/><circle cy="537" r="4.2"/><circle cy="342" r="4.2"/><circle cy="478" r="4.2"/><circle cy="511" r="4.2"/><circle cy="426" r="4.2"/><circle cy="305" r="4.2"/><circle cy="333" r="4.2"/><circle cy="564" r="4.1"/><circle cy="333" r="4.1"/><circle cy="432" r="4.1"/><circle cy="295" r="4.1"/><circle cy="346" r="4.1"/><circle cy="486" r="4.1"/><circle cy="369" r="4.1"/><circle cy="485" r="4.1"/><circle cy="405" r="4.0"/><circle cy="557" r="4.0"/><circle cy="478" r="4.0"/><circle cy="462" r="4.0"/><circle cy="486" r="4.0"/><circle cy="473" r="4.0"/><circle cy="334" r="4.0"/><circle cy="538" r="4.0"/><circle cy="154" r="4.0"/><circle cy="613" r="4.0"/><circle cy="457" r="4.0"/><circle cy="605" r="4.0"/><circle cy="389" r="3.9"/><circle cy="572" r="3.9"/><circle cy="344" r="3.9"/><circle cy="561" r="3.9"/><circle cy="517" r="3.9"/><circle cy="568" r="3.9"/><circle cy="395" r="3.8"/><circle cy="478" r="3.8"/><circle cy="308" r="3.8"/><circle cy="443" r="3.8"/><circle cy="327" r="3.8"/><circle cy="321" r="3.7"/><circle cy="554" r="3.7"/><circle cy="528" r="3.7"/><circle cy="555" r="3.7"/><circle cy="518" r="3.7"/><circle cy="386" r="3.7"/><circle cy="363" r="3.7"/><circle cy="374" r="3.6"/><circle cy="405" r="3.6"/><circle cy="505" r="3.6"/><circle cy="376" r="3.6"/><circle cy="547" r="3.6"/><circle cy="372" r="3.6"/><circle cy="418" r="3.6"/><circle cy="416" r="3.6"/><circle cy="380" r="3.5"/><circle cy="459" r="3.5"/><circle cy="355" r="3.5"/><circle cy="636" r="3.5"/><circle cy="401" r="3.5"/><circle cy="404" r="3.5"/><circle cy="258" r="3.5"/><circle cy="377" r="3.4"/><circle cy="350" r="3.4"/><circle cy="307" r="3.4"/><circle cy="484" r="3.4"/><circle cy="351" r="3.4"/><circle cy="436" r="3.4"/><circle cy="372" r="3.4"/><circle cy="561" r="3.3"/><circle cy="548" r="3.3"/><circle cy="441" r="3.3"/><circle cy="360" r="3.3"/><circle cy="413" r="3.3"/><circle cy="235" r="3.3"/><circle cy="596" r="3.3"/><circle cy="596" r="3.2"/><circle cy="403" r="3.2"/><circle cy="321" r="3.2"/><circle cy="423" r="3.2"/><circle cy="571" r="3.2"/><circle cy="425" r="3.2"/><circle cy="498" r="3.2"/><circle cy="391" r="3.2"/><circle cy="450" r="3.2"/><circle cy="329" r="3.2"/><circle cy="448" r="3.2"/><circle cy="372" r="3.1"/><circle cy="585" r="3.1"/><circle cy="608" r="3.1"/><circle cy="340" r="3.1"/><circle cy="415" r="3.1"/><circle cy="608" r="3.1"/><circle cy="551" r="3.1"/><circle cy="553" r="3.1"/><circle cy="430" r="3.1"/><circle cy="456" r="3.1"/><circle cy="464" r="3.0"/><circle cy="328" r="3.0"/><circle cy="453" r="3.0"/><circle cy="365" r="3.0"/><circle cy="238" r="3.0"/><circle cy="272" r="3.0"/><circle cy="622" r="3.0"/><circle cy="154" r="3.0"/><circle cy="433" r="3.0"/><circle cy="597" r="3.0"/><circle cy="468" r="3.0"/><circle cy="593" r="3.0"/><circle cy="544" r="3.0"/><circle cy="466" r="2.9"/><circle cy="334" r="2.9"/><circle cy="438" r="2.9"/><circle cy="415" r="2.8"/><circle cy="557" r="2.8"/><circle cy="490" r="2.8"/><circle cy="525" r="2.8"/><circle cy="489" r="2.8"/><circle cy="509" r="2.8"/><circle cy="455" r="2.8"/><circle cy="581" r="2.8"/><circle cy="501" r="2.7"/><circle cy="356" r="2.7"/><circle cy="542" r="2.7"/><circle cy="313" r="2.7"/><circle cy="470" r="2.7"/><circle cy="469" r="2.7"/><circle cy="320" r="2.7"/><circle cy="501" r="2.7"/><circle cy="395" r="2.7"/><circle cy="478" r="2.6"/><circle cy="596" r="2.6"/><circle cy="371" r="2.6"/><circle cy="451" r="2.6"/><circle cy="352" r="2.6"/><circle cy="481" r="2.6"/><circle cy="607" r="2.6"/><circle cy="521" r="2.6"/><circle cy="507" r="2.6"/><circle cy="370" r="2.6"/><circle cy="593" r="2.6"/><circle cy="293" r="2.5"/><circle cy="503" r="2.5"/><circle cy="577" r="2.4"/><circle cy="364" r="2.4"/><circle cy="336" r="2.4"/><circle cy="369" r="2.4"/><circle cy="570" r="2.4"/><circle cy="511" r="2.4"/><circle cy="498" r="2.4"/><circle cy="413" r="2.4"/><circle cy="313" r="2.4"/><circle cy="236" r="2.4"/><circle cy="537" r="2.4"/><circle cy="421" r="2.4"/><circle cy="370" r="2.4"/><circle cy="306" r="2.4"/><circle cy="606" r="2.4"/><circle cy="420" r="2.3"/><circle cy="321" r="2.3"/><circle cy="537" r="2.3"/><circle cy="440" r="2.3"/><circle cy="498" r="2.3"/><circle cy="466" r="2.3"/><circle cy="306" r="2.2"/><circle cy="347" r="2.2"/><circle cy="416" r="2.2"/><circle cy="303" r="2.2"/><circle cy="249" r="2.2"/><circle cy="455" r="2.2"/><circle cy="583" r="2.1"/><circle cy="594" r="2.1"/><circle cy="518" r="2.1"/><circle cy="382" r="2.1"/><circle cy="350" r="2.1"/><circle cy="389" r="2.1"/><circle cy="563" r="2.0"/><circle cy="393" r="2.0"/><circle cy="377" r="2.0"/><circle cy="355" r="2.0"/><circle cy="313" r="2.0"/><circle cy="384" r="2.0"/><circle cy="516" r="2.0"/><circle cy="399" r="2.0"/><circle cy="475" r="1.9"/><circle cy="380" r="1.9"/><circle cy="520" r="1.9"/><circle cy="334" r="1.9"/><circle cy="555" r="1.9"/><circle cy="342" r="1.9"/><circle cy="481" r="1.9"/><circle cy="582" r="1.8"/><circle cy="544" r="1.8"/><circle cy="364" r="1.8"/><circle cy="471" r="1.8"/><circle cy="346" r="1.8"/><circle cy="580" r="1.8"/><circle cy="411" r="1.8"/><circle cy="237" r="1.8"/><circle cy="378" r="1.8"/><circle cy="466" r="1.8"/><circle cy="296" r="1.7"/><circle cy="415" r="1.7"/><circle cy="406" r="1.7"/><circle cy="575" r="1.7"/><circle cy="514" r="1.7"/><circle cy="370" r="1.6"/><circle cy="304" r="1.6"/><circle cy="391" r="1.6"/><circle cy="327" r="1.6"/><circle cy="508" r="1.6"/><circle cy="404" r="1.5"/><circle cy="307" r="1.5"/><circle cy="389" r="1.5"/><circle cy="106" r="1.5"/><circle cy="125" r="1.2"/><circle cy="168" r="1.0"/></g><g transform="translate(563.8 0)"><circle cy="602" r="16.0"/><circle cy="620" r="16.0"/><circle cy="626" r="16.0"/><circle cy="637" r="16.0"/><circle cy="594" r="16.0"/><circle cy="562" r="15.9"/><circle cy="576" r="15.6"/><circle cy="625" r="15.2"/><circle cy="516" r="15.2"/><circle cy="593" r="15.2"/><circle cy="520" r="15.1"/><circle cy="396" r="15.0"/><circle cy="535" r="15.0"/><circle cy="569" r="15.0"/><circle cy="396" r="15.0"/><circle cy="508" r="14.3"/><circle cy="628" r="14.1"/><circle cy="436" r="14.0"/><circle cy="397" r="14.0"/><circle cy="465" r="13.7"/><circle cy="483" r="13.2"/><circle cy="497" r="13.2"/><circle cy="610" r="12.8"/><circle cy="561" r="12.8"/><circle cy="493" r="12.8"/><circle cy="499" r="12.8"/><circle cy="495" r="12.6"/><circle cy="546" r="12.6"/><circle cy="487" r="12.2"/><circle cy="399" r="12.0"/><circle cy="588" r="12.0"/><circle cy="576" r="11.9"/><circle cy="603" r="11.8"/><circle cy="514" r="11.6"/><circle cy="549" r="11.5"/><circle cy="591" r="11.4"/><circle cy="463" r="11.4"/><circle cy="512" r="11.3"/><circle cy="601" r="11.1"/><circle cy="338" r="9.0"/><circle cy="436" r="9.0"/><circle cy="584" r="9.0"/><circle cy="624" r="8.9"/><circle cy="562" r="8.8"/><circle cy="550" r="8.8"/><circle cy="532" r="8.8"/><circle cy="432" r="8.7"/><circle cy="617" r="8.6"/><circle cy="633" r="8.5"/><circle cy="464" r="8.5"/><circle cy="547" r="8.4"/><circle cy="563" r="8.4"/><circle cy="545" r="8.4"/><circle cy="560" r="8.4"/><circle cy="596" r="8.4"/><circle cy="550" r="8.4"/><circle cy="639" r="8.3"/><circle cy="513" r="8.2"/><circle cy="613" r="8.2"/><circle cy="554" r="8.2"/><circle cy="581" r="8.1"/><circle cy="441" r="8.1"/><circle cy="436" r="8.0"/><circle cy="340" r="8.0"/><circle cy="520" r="7.9"/><circle cy="440" r="7.9"/><circle cy="458" r="7.9"/><circle cy="453" r="7.8"/><circle cy="634" r="7.7"/><circle cy="428" r="7.6"/><circle cy="437" r="7.6"/><circle cy="520" r="7.5"/><circle cy="604" r="7.4"/><circle cy="463" r="7.4"/><circle cy="608" r="7.4"/><circle cy="513" r="7.4"/><circle cy="525" r="7.4"/><circle cy="560" r="7.4"/><circle cy="483" r="7.4"/><circle cy="487" r="7.4"/><circle cy="608" r="7.3"/><circle cy="493" r="7.2"/><circle cy="566" r="7.2"/><circle cy="449" r="7.0"/><circle cy="322" r="7.0"/><circle cy="437" r="6.9"/><circle cy="445" r="6.9"/><circle cy="444" r="6.9"/><circle cy="565" r="6.8"/><circle cy="514" r="6.8"/><circle cy="503" r="6.8"/><circle cy="596" r="6.8"/><circle cy="584" r="6.8"/><circle cy="603" r="6.7"/><circle cy="482" r="6.7"/><circle cy="637" r="6.6"/><circle cy="519" r="6.6"/><circle cy="619" r="6.5"/><circle cy="536" r="6.5"/><circle cy="548" r="6.4"/><circle cy="461" r="6.4"/><circle cy="553" r="6.3"/><circle cy="644" r="6.3"/><circle cy="640" r="6.2"/><circle cy="617" r="6.2"/><circle cy="468" r="6.2"/><circle cy="543" r="6.1"/><circle cy="442" r="6.0"/><circle cy="464" r="6.0"/><circle cy="504" r="5.9"/><circle cy="458" r="5.9"/><circle cy="554" r="5.9"/><circle cy="622" r="5.7"/><circle cy="459" r="5.7"/><circle cy="595" r="5.7"/><circle cy="523" r="5.7"/><circle cy="430" r="5.7"/><circle cy="528" r="5.6"/><circle cy="552" r="5.5"/><circle cy="524" r="5.5"/><circle cy="578" r="5.5"/><circle cy="572" r="5.4"/><circle cy="537" r="5.4"/><circle cy="552" r="5.3"/><circle cy="446" r="5.3"/><circle cy="434" r="5.2"/><circle cy="508" r="5.2"/><circle cy="553" r="5.1"/><circle cy="624" r="5.1"/><circle cy="492" r="5.1"/><circle cy="290" r="5.0"/><circle cy="368" r="5.0"/><circle cy="414" r="5.0"/><circle cy="341" r="5.0"/><circle cy="444" r="5.0"/><circle cy="525" r="5.0"/><circle cy="549" r="4.9"/><circle cy="608" r="4.9"/><circle cy="505" r="4.8"/><circle cy="591" r="4.8"/><circle cy="492" r="4.8"/><circle cy="351" r="4.8"/><circle cy="508" r="4.6"/><circle cy="465" r="4.6"/><circle cy="429" r="4.6"/><circle cy="539" r="4.6"/><circle cy="632" r="4.6"/><circle cy="618" r="4.6"/><circle cy="604" r="4.6"/><circle cy="610" r="4.5"/><circle cy="391" r="4.5"/><circle cy="449" r="4.5"/><circle cy="404" r="4.5"/><circle cy="433" r="4.4"/><circle cy="519" r="4.4"/><circle cy="398" r="4.4"/><circle cy="572" r="4.4"/><circle cy="498" r="4.4"/><circle cy="552" r="4.3"/><circle cy="484" r="4.3"/><circle cy="566" r="4.3"/><circle cy="478" r="4.3"/><circle cy="526" r="4.3"/><circle cy="536" r="4.3"/><circle cy="444" r="4.3"/><circle cy="541" r="4.3"/><circle cy="480" r="4.3"/><circle cy="457" r="4.2"/><circle cy="402" r="4.2"/><circle cy="461" r="4.2"/><circle cy="373" r="4.2"/><circle cy="579" r="4.1"/><circle cy="467" r="4.1"/><circle cy="555" r="4.1"/><circle cy="576" r="4.1"/><circle cy="459" r="4.1"/><circle cy="400" r="4.1"/><circle cy="648" r="4.1"/><circle cy="436" r="4.1"/><circle cy="558" r="4.1"/><circle cy="522" r="4.1"/><circle cy="554" r="4.0"/><circle cy="593" r="4.0"/><circle cy="413" r="4.0"/><circle cy="205" r="4.0"/><circle cy="317" r="4.0"/><circle cy="349" r="4.0"/><circle cy="320" r="4.0"/><circle cy="621" r="4.0"/><circle cy="421" r="4.0"/><circle cy="499" r="3.9"/><circle cy="451" r="3.9"/><circle cy="481" r="3.9"/><circle cy="617" r="3.9"/><circle cy="525" r="3.9"/><circle cy="509" r="3.9"/><circle cy="616" r="3.9"/><circle cy="550" r="3.9"/><circle cy="452" r="3.8"/><circle cy="469" r="3.8"/><circle cy="483" r="3.8"/><circle cy="643" r="3.8"/><circle cy="412" r="3.8"/><circle cy="556" r="3.8"/><circle cy="428" r="3.8"/><circle cy="412" r="3.8"/><circle cy="603" r="3.8"/><circle cy="487" r="3.7"/><circle cy="456" r="3.7"/><circle cy="521" r="3.7"/><circle cy="629" r="3.7"/><circle cy="640" r="3.7"/><circle cy="532" r="3.7"/><circle cy="460" r="3.7"/><circle cy="619" r="3.6"/><circle cy="466" r="3.6"/><circle cy="491" r="3.6"/><circle cy="588" r="3.6"/><circle cy="446" r="3.6"/><circle cy="356" r="3.6"/><circle cy="506" r="3.6"/><circle cy="473" r="3.6"/><circle cy="645" r="3.6"/><circle cy="398" r="3.6"/><circle cy="559" r="3.6"/><circle cy="412" r="3.5"/><circle cy="484" r="3.5"/><circle cy="477" r="3.5"/><circle cy="473" r="3.5"/><circle cy="245" r="3.5"/><circle cy="494" r="3.4"/><circle cy="440" r="3.4"/><circle cy="532" r="3.4"/><circle cy="370" r="3.4"/><circle cy="613" r="3.4"/><circle cy="478" r="3.4"/><circle cy="480" r="3.4"/><circle cy="530" r="3.4"/><circle cy="578" r="3.3"/><circle cy="630" r="3.3"/><circle cy="614" r="3.3"/><circle cy="475" r="3.3"/><circle cy="355" r="3.3"/><circle cy="409" r="3.3"/><circle cy="455" r="3.3"/><circle cy="507" r="3.3"/><circle cy="648" r="3.3"/><circle cy="646" r="3.2"/><circle cy="619" r="3.2"/><circle cy="467" r="3.2"/><circle cy="436" r="3.2"/><circle cy="560" r="3.2"/><circle cy="494" r="3.2"/><circle cy="532" r="3.1"/><circle cy="542" r="3.1"/><circle cy="549" r="3.1"/><circle cy="526" r="3.1"/><circle cy="634" r="3.1"/><circle cy="513" r="3.1"/><circle cy="450" r="3.1"/><circle cy="449" r="3.0"/><circle cy="417" r="3.0"/><circle cy="222" r="3.0"/><circle cy="262" r="3.0"/><circle cy="317" r="3.0"/><circle cy="621" r="3.0"/><circle cy="484" r="2.9"/><circle cy="597" r="2.9"/><circle cy="560" r="2.9"/><circle cy="577" r="2.9"/><circle cy="391" r="2.9"/><circle cy="556" r="2.9"/><circle cy="461" r="2.9"/><circle cy="505" r="2.9"/><circle cy="411" r="2.9"/><circle cy="484" r="2.8"/><circle cy="415" r="2.8"/><circle cy="616" r="2.8"/><circle cy="643" r="2.8"/><circle cy="425" r="2.7"/><circle cy="629" r="2.7"/><circle cy="534" r="2.7"/><circle cy="558" r="2.7"/><circle cy="615" r="2.7"/><circle cy="440" r="2.7"/><circle cy="471" r="2.7"/><circle cy="650" r="2.7"/><circle cy="373" r="2.7"/><circle cy="489" r="2.7"/><circle cy="540" r="2.7"/><circle cy="606" r="2.6"/><circle cy="392" r="2.6"/><circle cy="451" r="2.6"/><circle cy="399" r="2.6"/><circle cy="477" r="2.6"/><circle cy="462" r="2.6"/><circle cy="390" r="2.6"/><circle cy="593" r="2.6"/><circle cy="591" r="2.6"/><circle cy="518" r="2.6"/><circle cy="377" r="2.5"/><circle cy="423" r="2.5"/><circle cy="423" r="2.5"/><circle cy="629" r="2.5"/><circle cy="518" r="2.5"/><circle cy="186" r="2.5"/><circle cy="412" r="2.5"/><circle cy="585" r="2.5"/><circle cy="451" r="2.5"/><circle cy="625" r="2.5"/><circle cy="647" r="2.5"/><circle cy="619" r="2.4"/><circle cy="643" r="2.4"/><circle cy="588" r="2.4"/><circle cy="469" r="2.4"/><circle cy="649" r="2.4"/><circle cy="394" r="2.4"/><circle cy="475" r="2.3"/><circle cy="344" r="2.3"/><circle cy="434" r="2.3"/><circle cy="627" r="2.3"/><circle cy="405" r="2.3"/><circle cy="502" r="2.3"/><circle cy="393" r="2.3"/><circle cy="548" r="2.3"/><circle cy="449" r="2.2"/><circle cy="596" r="2.2"/><circle cy="553" r="2.2"/><circle cy="441" r="2.2"/><circle cy="454" r="2.2"/><circle cy="549" r="2.2"/><circle cy="425" r="2.2"/><circle cy="537" r="2.1"/><circle cy="642" r="2.1"/><circle cy="620" r="2.1"/><circle cy="499" r="2.1"/><circle cy="538" r="2.1"/><circle cy="418" r="2.1"/><circle cy="366" r="2.1"/><circle cy="529" r="2.1"/><circle cy="568" r="2.0"/><circle cy="604" r="2.0"/><circle cy="405" r="2.0"/><circle cy="361" r="2.0"/><circle cy="458" r="2.0"/><circle cy="395" r="2.0"/><circle cy="567" r="2.0"/><circle cy="615" r="2.0"/><circle cy="425" r="2.0"/><circle cy="453" r="2.0"/><circle cy="581" r="2.0"/><circle cy="434" r="1.9"/><circle cy="582" r="1.9"/><circle cy="500" r="1.9"/><circle cy="389" r="1.9"/><circle cy="516" r="1.9"/><circle cy="644" r="1.8"/><circle cy="581" r="1.8"/><circle cy="481" r="1.8"/><circle cy="431" r="1.8"/><circle cy="434" r="1.7"/><circle cy="515" r="1.7"/><circle cy="557" r="1.7"/><circle cy="476" r="1.7"/><circle cy="519" r="1.7"/><circle cy="536" r="1.7"/><circle cy="434" r="1.7"/><circle cy="496" r="1.7"/><circle cy="552" r="1.6"/><circle cy="521" r="1.6"/><circle cy="422" r="1.6"/><circle cy="649" r="1.6"/><circle cy="628" r="1.5"/><circle cy="617" r="1.5"/><circle cy="584" r="1.5"/></g><g transform="translate(639.1 0)"><circle cy="460" r="16.0"/><circle cy="622" r="16.0"/><circle cy="578" r="15.6"/><circle cy="236" r="15.5"/><circle cy="510" r="15.4"/><circle cy="620" r="15.3"/><circle cy="578" r="15.3"/><circle cy="528" r="15.3"/><circle cy="519" r="15.0"/><circle cy="442" r="15.0"/><circle cy="497" r="15.0"/><circle cy="580" r="14.8"/><circle cy="566" r="14.6"/><circle cy="357" r="14.0"/><circle cy="535" r="14.0"/><circle cy="546" r="13.9"/><circle cy="547" r="13.7"/><circle cy="553" r="13.7"/><circle cy="555" r="13.6"/><circle cy="567" r="13.3"/><circle cy="583" r="13.1"/><circle cy="572" r="12.7"/><circle cy="527" r="12.6"/><circle cy="528" r="12.4"/><circle cy="491" r="12.0"/><circle cy="480" r="12.0"/><circle cy="514" r="12.0"/><circle cy="555" r="12.0"/><circle cy="497" r="11.5"/><circle cy="625" r="11.4"/><circle cy="601" r="11.3"/><circle cy="603" r="11.3"/><circle cy="536" r="11.3"/><circle cy="535" r="11.3"/><circle cy="655" r="11.0"/><circle cy="658" r="9.0"/><circle cy="658" r="9.0"/><circle cy="613" r="9.0"/><circle cy="481" r="8.9"/><circle cy="448" r="8.9"/><circle cy="612" r="8.8"/><circle cy="587" r="8.8"/><circle cy="556" r="8.8"/><circle cy="519" r="8.8"/><circle cy="550" r="8.8"/><circle cy="464" r="8.7"/><circle cy="621" r="8.7"/><circle cy="530" r="8.7"/><circle cy="555" r="8.7"/><circle cy="459" r="8.6"/><circle cy="446" r="8.6"/><circle cy="659" r="8.6"/><circle cy="562" r="8.6"/><circle cy="441" r="8.6"/><circle cy="484" r="8.6"/><circle cy="510" r="8.6"/><circle cy="603" r="8.5"/><circle cy="457" r="8.5"/><circle cy="464" r="8.4"/><circle cy="545" r="8.4"/><circle cy="505" r="8.4"/><circle cy="454" r="8.3"/><circle cy="612" r="8.2"/><circle cy="489" r="8.2"/><circle cy="472" r="8.2"/><circle cy="470" r="8.2"/><circle cy="614" r="8.2"/><circle cy="616" r="8.2"/><circle cy="474" r="8.2"/><circle cy="465" r="8.1"/><circle cy="646" r="8.1"/><circle cy="612" r="8.1"/><circle cy="514" r="8.1"/><circle cy="531" r="8.1"/><circle cy="541" r="8.1"/><circle cy="569" r="8.0"/><circle cy="549" r="8.0"/><circle cy="434" r="8.0"/><circle cy="656" r="8.0"/><circle cy="590" r="8.0"/><circle cy="649" r="7.9"/><circle cy="640" r="7.9"/><circle cy="579" r="7.8"/><circle cy="548" r="7.8"/><circle cy="468" r="7.7"/><circle cy="533" r="7.6"/><circle cy="451" r="7.6"/><circle cy="536" r="7.5"/><circle cy="472" r="7.4"/><circle cy="596" r="7.4"/><circle cy="463" r="7.4"/><circle cy="471" r="7.4"/><circle cy="588" r="7.4"/><circle cy="474" r="7.3"/><circle cy="618" r="7.3"/><circle cy="448" r="7.3"/><circle cy="624" r="7.3"/><circle cy="448" r="7.2"/><circle cy="502" r="7.1"/><circle cy="592" r="7.1"/><circle cy="637" r="7.1"/><circle cy="539" r="7.0"/><circle cy="654" r="7.0"/><circle cy="558" r="7.0"/><circle cy="477" r="7.0"/><circle cy="540" r="7.0"/><circle cy="613" r="7.0"/><circle cy="535" r="7.0"/><circle cy="508" r="6.9"/><circle cy="489" r="6.9"/><circle cy="591" r="6.9"/><circle cy="509" r="6.8"/><circle cy="471" r="6.8"/><circle cy="458" r="6.8"/><circle cy="614" r="6.8"/><circle cy="502" r="6.6"/><circle cy="519" r="6.5"/><circle cy="637" r="6.5"/><circle cy="557" r="6.5"/><circle cy="641" r="6.5"/><circle cy="615" r="6.4"/><circle cy="631" r="6.4"/><circle cy="548" r="6.4"/><circle cy="490" r="6.3"/><circle cy="647" r="6.3"/><circle cy="634" r="6.2"/><circle cy="585" r="6.1"/><circle cy="456" r="6.0"/><circle cy="456" r="6.0"/><circle cy="656" r="6.0"/><circle cy="549" r="6.0"/><circle cy="613" r="6.0"/><circle cy="443" r="6.0"/><circle cy="581" r="5.9"/><circle cy="627" r="5.8"/><circle cy="521" r="5.8"/><circle cy="472" r="5.7"/><circle cy="468" r="5.7"/><circle cy="650" r="5.7"/><circle cy="570" r="5.7"/><circle cy="484" r="5.7"/><circle cy="538" r="5.7"/><circle cy="627" r="5.7"/><circle cy="657" r="5.7"/><circle cy="451" r="5.5"/><circle cy="483" r="5.5"/><circle cy="488" r="5.5"/><circle cy="597" r="5.5"/><circle cy="514" r="5.5"/><circle cy="616" r="5.4"/><circle cy="638" r="5.4"/><circle cy="641" r="5.3"/><circle cy="626" r="5.3"/><circle cy="604" r="5.2"/><circle cy="572" r="5.2"/><circle cy="602" r="5.2"/><circle cy="634" r="5.2"/><circle cy="480" r="5.2"/><circle cy="606" r="5.1"/><circle cy="638" r="5.1"/><circle cy="559" r="5.1"/><circle cy="464" r="5.0"/><circle cy="386" r="5.0"/><circle cy="578" r="5.0"/><circle cy="485" r="5.0"/><circle cy="527" r="5.0"/><circle cy="497" r="4.9"/><circle cy="615" r="4.9"/><circle cy="650" r="4.8"/><circle cy="557" r="4.8"/><circle cy="495" r="4.8"/><circle cy="456" r="4.7"/><circle cy="567" r="4.7"/><circle cy="591" r="4.6"/><circle cy="542" r="4.6"/><circle cy="456" r="4.5"/><circle cy="617" r="4.5"/><circle cy="583" r="4.5"/><circle cy="498" r="4.5"/><circle cy="541" r="4.5"/><circle cy="599" r="4.5"/><circle cy="442" r="4.5"/><circle cy="581" r="4.4"/><circle cy="466" r="4.4"/><circle cy="529" r="4.4"/><circle cy="497" r="4.4"/><circle cy="417" r="4.4"/><circle cy="580" r="4.4"/><circle cy="555" r="4.4"/><circle cy="616" r="4.4"/><circle cy="594" r="4.4"/><circle cy="603" r="4.4"/><circle cy="655" r="4.4"/><circle cy="463" r="4.4"/><circle cy="488" r="4.4"/><circle cy="503" r="4.4"/><circle cy="638" r="4.4"/><circle cy="644" r="4.3"/><circle cy="472" r="4.3"/><circle cy="602" r="4.3"/><circle cy="607" r="4.3"/><circle cy="577" r="4.3"/><circle cy="534" r="4.3"/><circle cy="594" r="4.3"/><circle cy="487" r="4.3"/><circle cy="625" r="4.2"/><circle cy="615" r="4.2"/><circle cy="544" r="4.2"/><circle cy="516" r="4.2"/><circle cy="626" r="4.2"/><circle cy="623" r="4.2"/><circle cy="640" r="4.2"/><circle cy="429" r="4.2"/><circle cy="584" r="4.2"/><circle cy="599" r="4.2"/><circle cy="644" r="4.2"/><circle cy="552" r="4.2"/><circle cy="552" r="4.2"/><circle cy="645" r="4.2"/><circle cy="524" r="4.2"/><circle cy="463" r="4.1"/><circle cy="547" r="4.1"/><circle cy="460" r="4.1"/><circle cy="651" r="4.1"/><circle cy="448" r="4.0"/><circle cy="546" r="4.0"/><circle cy="502" r="4.0"/><circle cy="663" r="4.0"/><circle cy="373" r="4.0"/><circle cy="644" r="4.0"/><circle cy="613" r="4.0"/><circle cy="619" r="4.0"/><circle cy="560" r="4.0"/><circle cy="626" r="3.9"/><circle cy="421" r="3.9"/><circle cy="553" r="3.9"/><circle cy="508" r="3.9"/><circle cy="586" r="3.9"/><circle cy="533" r="3.9"/><circle cy="510" r="3.9"/><circle cy="552" r="3.9"/><circle cy="507" r="3.9"/><circle cy="422" r="3.9"/><circle cy="625" r="3.9"/><circle cy="622" r="3.9"/><circle cy="428" r="3.8"/><circle cy="638" r="3.8"/><circle cy="519" r="3.8"/><circle cy="434" r="3.8"/><circle cy="394" r="3.8"/><circle cy="425" r="3.8"/><circle cy="494" r="3.8"/><circle cy="459" r="3.8"/><circle cy="449" r="3.8"/><circle cy="537" r="3.8"/><circle cy="544" r="3.8"/><circle cy="587" r="3.8"/><circle cy="490" r="3.8"/><circle cy="490" r="3.8"/><circle cy="423" r="3.8"/><circle cy="432" r="3.7"/><circle cy="430" r="3.7"/><circle cy="621" r="3.7"/><circle cy="465" r="3.7"/><circle cy="615" r="3.7"/><circle cy="516" r="3.7"/><circle cy="628" r="3.7"/><circle cy="437" r="3.7"/><circle cy="597" r="3.7"/><circle cy="575" r="3.7"/><circle cy="431" r="3.7"/><circle cy="662" r="3.6"/><circle cy="651" r="3.6"/><circle cy="590" r="3.6"/><circle cy="533" r="3.6"/><circle cy="571" r="3.6"/><circle cy="441" r="3.6"/><circle cy="568" r="3.6"/><circle cy="537" r="3.6"/><circle cy="657" r="3.6"/><circle cy="558" r="3.6"/><circle cy="628" r="3.5"/><circle cy="658" r="3.5"/><circle cy="596" r="3.5"/><circle cy="641" r="3.5"/><circle cy="563" r="3.5"/><circle cy="473" r="3.5"/><circle cy="635" r="3.4"/><circle cy="644" r="3.4"/><circle cy="657" r="3.4"/><circle cy="491" r="3.4"/><circle cy="611" r="3.4"/><circle cy="594" r="3.4"/><circle cy="590" r="3.4"/><circle cy="602" r="3.4"/><circle cy="514" r="3.4"/><circle cy="486" r="3.4"/><circle cy="404" r="3.4"/><circle cy="598" r="3.4"/><circle cy="505" r="3.4"/><circle cy="637" r="3.4"/><circle cy="660" r="3.3"/><circle cy="622" r="3.3"/><circle cy="438" r="3.3"/><circle cy="431" r="3.3"/><circle cy="616" r="3.3"/><circle cy="520" r="3.3"/><circle cy="435" r="3.2"/><circle cy="623" r="3.2"/><circle cy="546" r="3.2"/><circle cy="593" r="3.2"/><circle cy="585" r="3.2"/><circle cy="622" r="3.2"/><circle cy="618" r="3.2"/><circle cy="433" r="3.2"/><circle cy="493" r="3.1"/><circle cy="525" r="3.1"/><circle cy="419" r="3.1"/><circle cy="650" r="3.1"/><circle cy="549" r="3.1"/><circle cy="580" r="3.1"/><circle cy="493" r="3.1"/><circle cy="423" r="3.1"/><circle cy="587" r="3.1"/><circle cy="533" r="3.1"/><circle cy="529" r="3.0"/><circle cy="420" r="3.0"/><circle cy="565" r="3.0"/><circle cy="573" r="3.0"/><circle cy="629" r="3.0"/><circle cy="269" r="3.0"/><circle cy="650" r="3.0"/><circle cy="654" r="3.0"/><circle cy="578" r="3.0"/><circle cy="455" r="2.9"/><circle cy="622" r="2.9"/><circle cy="663" r="2.9"/><circle cy="520" r="2.9"/><circle cy="404" r="2.9"/><circle cy="433" r="2.9"/><circle cy="452" r="2.9"/><circle cy="565" r="2.9"/><circle cy="619" r="2.9"/><circle cy="588" r="2.9"/><circle cy="626" r="2.9"/><circle cy="605" r="2.8"/><circle cy="655" r="2.8"/><circle cy="594" r="2.8"/><circle cy="439" r="2.8"/><circle cy="410" r="2.8"/><circle cy="636" r="2.8"/><circle cy="450" r="2.8"/><circle cy="438" r="2.8"/><circle cy="619" r="2.7"/><circle cy="644" r="2.7"/><circle cy="571" r="2.7"/><circle cy="562" r="2.7"/><circle cy="491" r="2.7"/><circle cy="425" r="2.7"/><circle cy="516" r="2.7"/><circle cy="604" r="2.7"/><circle cy="656" r="2.6"/><circle cy="425" r="2.6"/><circle cy="648" r="2.6"/><circle cy="496" r="2.6"/><circle cy="553" r="2.6"/><circle cy="660" r="2.6"/><circle cy="645" r="2.6"/><circle cy="583" r="2.6"/><circle cy="641" r="2.6"/><circle cy="651" r="2.6"/><circle cy="445" r="2.6"/><circle cy="501" r="2.5"/><circle cy="518" r="2.5"/><circle cy="469" r="2.5"/><circle cy="199" r="2.5"/><circle cy="561" r="2.5"/><circle cy="610" r="2.5"/><circle cy="456" r="2.5"/><circle cy="529" r="2.5"/><circle cy="459" r="2.4"/><circle cy="575" r="2.4"/><circle cy="435" r="2.4"/><circle cy="419" r="2.4"/><circle cy="516" r="2.4"/><circle cy="643" r="2.4"/><circle cy="462" r="2.3"/><circle cy="439" r="2.3"/><circle cy="386" r="2.3"/><circle cy="628" r="2.3"/><circle cy="474" r="2.3"/><circle cy="482" r="2.3"/><circle cy="509" r="2.3"/><circle cy="495" r="2.3"/><circle cy="508" r="2.3"/><circle cy="523" r="2.2"/><circle cy="649" r="2.2"/><circle cy="580" r="2.2"/><circle cy="663" r="2.2"/><circle cy="518" r="2.2"/><circle cy="634" r="2.2"/><circle cy="445" r="2.2"/><circle cy="586" r="2.2"/><circle cy="616" r="2.2"/><circle cy="565" r="2.1"/><circle cy="484" r="2.1"/><circle cy="627" r="2.1"/><circle cy="481" r="2.1"/><circle cy="644" r="2.1"/><circle cy="594" r="2.1"/><circle cy="487" r="2.1"/><circle cy="602" r="2.1"/><circle cy="498" r="2.1"/><circle cy="619" r="2.1"/><circle cy="635" r="2.1"/><circle cy="652" r="2.0"/><circle cy="653" r="2.0"/><circle cy="315" r="2.0"/><circle cy="408" r="2.0"/><circle cy="415" r="2.0"/><circle cy="420" r="2.0"/><circle cy="576" r="2.0"/><circle cy="547" r="2.0"/><circle cy="612" r="2.0"/><circle cy="426" r="2.0"/><circle cy="586" r="2.0"/><circle cy="565" r="1.9"/><circle cy="644" r="1.9"/><circle cy="548" r="1.9"/><circle cy="489" r="1.9"/><circle cy="410" r="1.9"/><circle cy="425" r="1.9"/><circle cy="505" r="1.9"/><circle cy="594" r="1.9"/><circle cy="448" r="1.9"/><circle cy="471" r="1.9"/><circle cy="497" r="1.8"/><circle cy="477" r="1.8"/><circle cy="485" r="1.8"/><circle cy="614" r="1.8"/><circle cy="624" r="1.8"/><circle cy="566" r="1.8"/><circle cy="448" r="1.8"/><circle cy="557" r="1.8"/><circle cy="530" r="1.8"/><circle cy="474" r="1.8"/><circle cy="435" r="1.7"/><circle cy="574" r="1.7"/><circle cy="450" r="1.7"/><circle cy="501" r="1.7"/><circle cy="556" r="1.7"/><circle cy="523" r="1.7"/><circle cy="472" r="1.7"/><circle cy="531" r="1.7"/><circle cy="626" r="1.7"/><circle cy="465" r="1.6"/><circle cy="624" r="1.6"/><circle cy="445" r="1.6"/><circle cy="434" r="1.6"/><circle cy="612" r="1.6"/><circle cy="545" r="1.6"/><circle cy="415" r="1.6"/><circle cy="644" r="1.6"/><circle cy="478" r="1.6"/><circle cy="485" r="1.5"/><circle cy="633" r="1.5"/><circle cy="576" r="1.5"/><circle cy="630" r="1.5"/><circle cy="123" r="1.2"/></g><g transform="translate(714.4 0)"><circle cy="477" r="16.0"/><circle cy="541" r="16.0"/><circle cy="662" r="16.0"/><circle cy="662" r="16.0"/><circle cy="560" r="15.9"/><circle cy="522" r="15.5"/><circle cy="504" r="15.3"/><circle cy="631" r="15.3"/><circle cy="500" r="15.2"/><circle cy="533" r="15.1"/><circle cy="533" r="14.8"/><circle cy="542" r="14.4"/><circle cy="637" r="14.3"/><circle cy="525" r="14.3"/><circle cy="594" r="14.3"/><circle cy="591" r="14.3"/><circle cy="575" r="14.2"/><circle cy="354" r="14.0"/><circle cy="490" r="14.0"/><circle cy="514" r="14.0"/><circle cy="513" r="13.6"/><circle cy="616" r="13.3"/><circle cy="513" r="13.2"/><circle cy="664" r="13.0"/><circle cy="556" r="12.9"/><circle cy="618" r="12.8"/><circle cy="559" r="12.4"/><circle cy="556" r="12.3"/><circle cy="631" r="12.2"/><circle cy="497" r="12.2"/><circle cy="503" r="12.1"/><circle cy="530" r="12.0"/><circle cy="509" r="11.7"/><circle cy="630" r="11.7"/><circle cy="661" r="11.7"/><circle cy="512" r="11.5"/><circle cy="642" r="11.1"/><circle cy="525" r="11.0"/><circle cy="666" r="10.0"/><circle cy="566" r="9.0"/><circle cy="483" r="8.9"/><circle cy="571" r="8.9"/><circle cy="507" r="8.8"/><circle cy="645" r="8.8"/><circle cy="516" r="8.8"/><circle cy="629" r="8.8"/><circle cy="518" r="8.8"/><circle cy="530" r="8.8"/><circle cy="621" r="8.7"/><circle cy="579" r="8.7"/><circle cy="589" r="8.7"/><circle cy="557" r="8.7"/><circle cy="585" r="8.7"/><circle cy="647" r="8.7"/><circle cy="586" r="8.6"/><circle cy="658" r="8.6"/><circle cy="567" r="8.6"/><circle cy="513" r="8.5"/><circle cy="494" r="8.5"/><circle cy="523" r="8.5"/><circle cy="489" r="8.4"/><circle cy="663" r="8.4"/><circle cy="519" r="8.3"/><circle cy="499" r="8.3"/><circle cy="549" r="8.3"/><circle cy="647" r="8.2"/><circle cy="634" r="8.2"/><circle cy="517" r="8.2"/><circle cy="594" r="8.1"/><circle cy="631" r="8.0"/><circle cy="651" r="8.0"/><circle cy="439" r="8.0"/><circle cy="633" r="8.0"/><circle cy="538" r="8.0"/><circle cy="498" r="7.9"/><circle cy="638" r="7.9"/><circle cy="639" r="7.8"/><circle cy="587" r="7.7"/><circle cy="582" r="7.7"/><circle cy="547" r="7.7"/><circle cy="492" r="7.7"/><circle cy="544" r="7.6"/><circle cy="530" r="7.6"/><circle cy="522" r="7.6"/><circle cy="580" r="7.6"/><circle cy="663" r="7.6"/><circle cy="627" r="7.6"/><circle cy="665" r="7.5"/><circle cy="552" r="7.5"/><circle cy="527" r="7.5"/><circle cy="615" r="7.4"/><circle cy="509" r="7.4"/><circle cy="633" r="7.4"/><circle cy="520" r="7.3"/><circle cy="587" r="7.3"/><circle cy="626" r="7.3"/><circle cy="528" r="7.3"/><circle cy="645" r="7.3"/><circle cy="591" r="7.3"/><circle cy="577" r="7.3"/><circle cy="577" r="7.3"/><circle cy="512" r="7.2"/><circle cy="601" r="7.2"/><circle cy="612" r="7.2"/><circle cy="524" r="7.2"/><circle cy="569" r="7.1"/><circle cy="613" r="7.1"/><circle cy="519" r="7.1"/><circle cy="653" r="7.1"/><circle cy="604" r="7.0"/><circle cy="429" r="7.0"/><circle cy="516" r="6.9"/><circle cy="565" r="6.9"/><circle cy="660" r="6.9"/><circle cy="498" r="6.9"/><circle cy="512" r="6.9"/><circle cy="616" r="6.8"/><circle cy="618" r="6.7"/><circle cy="609" r="6.6"/><circle cy="590" r="6.6"/><circle cy="548" r="6.6"/><circle cy="506" r="6.6"/><circle cy="662" r="6.6"/><circle cy="671" r="6.5"/><circle cy="513" r="6.5"/><circle cy="526" r="6.4"/><circle cy="480" r="6.4"/><circle cy="511" r="6.4"/><circle cy="527" r="6.4"/><circle cy="515" r="6.3"/><circle cy="539" r="6.3"/><circle cy="504" r="6.2"/><circle cy="511" r="6.2"/><circle cy="580" r="6.1"/><circle cy="665" r="6.0"/><circle cy="651" r="6.0"/><circle cy="559" r="6.0"/><circle cy="610" r="6.0"/><circle cy="390" r="6.0"/><circle cy="663" r="6.0"/><circle cy="564" r="5.9"/><circle cy="666" r="5.8"/><circle cy="499" r="5.8"/><circle cy="568" r="5.8"/><circle cy="615" r="5.8"/><circle cy="608" r="5.7"/><circle cy="579" r="5.7"/><circle cy="556" r="5.6"/><circle cy="558" r="5.6"/><circle cy="570" r="5.6"/><circle cy="618" r="5.6"/><circle cy="526" r="5.5"/><circle cy="533" r="5.4"/><circle cy="616" r="5.3"/><circle cy="632" r="5.3"/><circle cy="559" r="5.3"/><circle cy="565" r="5.3"/><circle cy="509" r="5.2"/><circle cy="548" r="5.2"/><circle cy="508" r="5.2"/><circle cy="574" r="5.2"/><circle cy="570" r="5.2"/><circle cy="561" r="5.2"/><circle cy="494" r="5.2"/><circle cy="563" r="5.2"/><circle cy="594" r="5.1"/><circle cy="666" r="5.1"/><circle cy="533" r="5.1"/><circle cy="482" r="5.1"/><circle cy="528" r="5.1"/><circle cy="607" r="5.0"/><circle cy="537" r="5.0"/><circle cy="627" r="5.0"/><circle cy="624" r="5.0"/><circle cy="616" r="5.0"/><circle cy="477" r="4.9"/><circle cy="614" r="4.9"/><circle cy="493" r="4.8"/><circle cy="640" r="4.8"/><circle cy="520" r="4.8"/><circle cy="502" r="4.7"/><circle cy="635" r="4.7"/><circle cy="513" r="4.7"/><circle cy="523" r="4.7"/><circle cy="519" r="4.6"/><circle cy="666" r="4.6"/><circle cy="576" r="4.6"/><circle cy="488" r="4.6"/><circle cy="523" r="4.6"/><circle cy="661" r="4.6"/><circle cy="478" r="4.5"/><circle cy="578" r="4.5"/><circle cy="606" r="4.5"/><circle cy="487" r="4.5"/><circle cy="592" r="4.5"/><circle cy="574" r="4.5"/><circle cy="484" r="4.4"/><circle cy="655" r="4.4"/><circle cy="673" r="4.4"/><circle cy="528" r="4.4"/><circle cy="480" r="4.4"/><circle cy="624" r="4.4"/><circle cy="591" r="4.4"/><circle cy="658" r="4.4"/><circle cy="654" r="4.4"/><circle cy="608" r="4.4"/><circle cy="623" r="4.4"/><circle cy="659" r="4.4"/><circle cy="519" r="4.4"/><circle cy="526" r="4.4"/><circle cy="552" r="4.4"/><circle cy="475" r="4.4"/><circle cy="552" r="4.3"/><circle cy="644" r="4.3"/><circle cy="674" r="4.3"/><circle cy="618" r="4.3"/><circle cy="474" r="4.3"/><circle cy="621" r="4.3"/><circle cy="559" r="4.3"/><circle cy="595" r="4.3"/><circle cy="596" r="4.3"/><circle cy="466" r="4.3"/><circle cy="491" r="4.3"/><circle cy="473" r="4.3"/><circle cy="543" r="4.3"/><circle cy="658" r="4.3"/><circle cy="505" r="4.3"/><circle cy="578" r="4.2"/><circle cy="503" r="4.2"/><circle cy="663" r="4.2"/><circle cy="576" r="4.2"/><circle cy="589" r="4.2"/><circle cy="629" r="4.2"/><circle cy="665" r="4.2"/><circle cy="616" r="4.2"/><circle cy="631" r="4.2"/><circle cy="558" r="4.2"/><circle cy="462" r="4.2"/><circle cy="501" r="4.2"/><circle cy="654" r="4.2"/><circle cy="621" r="4.2"/><circle cy="535" r="4.2"/><circle cy="620" r="4.2"/><circle cy="673" r="4.1"/><circle cy="587" r="4.1"/><circle cy="485" r="4.1"/><circle cy="569" r="4.1"/><circle cy="620" r="4.1"/><circle cy="549" r="4.1"/><circle cy="552" r="4.1"/><circle cy="581" r="4.1"/><circle cy="581" r="4.1"/><circle cy="552" r="4.1"/><circle cy="525" r="4.1"/><circle cy="665" r="4.1"/><circle cy="629" r="4.1"/><circle cy="615" r="4.0"/><circle cy="570" r="4.0"/><circle cy="635" r="4.0"/><circle cy="641" r="4.0"/><circle cy="520" r="4.0"/><circle cy="484" r="4.0"/><circle cy="596" r="4.0"/><circle cy="403" r="4.0"/><circle cy="420" r="4.0"/><circle cy="458" r="4.0"/><circle cy="491" r="4.0"/><circle cy="530" r="4.0"/><circle cy="480" r="3.9"/><circle cy="510" r="3.9"/><circle cy="622" r="3.9"/><circle cy="440" r="3.9"/><circle cy="605" r="3.9"/><circle cy="673" r="3.9"/><circle cy="437" r="3.9"/><circle cy="665" r="3.9"/><circle cy="502" r="3.9"/><circle cy="604" r="3.9"/><circle cy="504" r="3.9"/><circle cy="494" r="3.9"/><circle cy="533" r="3.9"/><circle cy="636" r="3.9"/><circle cy="568" r="3.9"/><circle cy="512" r="3.9"/><circle cy="509" r="3.9"/><circle cy="646" r="3.8"/><circle cy="477" r="3.8"/><circle cy="412" r="3.8"/><circle cy="551" r="3.8"/><circle cy="484" r="3.8"/><circle cy="646" r="3.8"/><circle cy="486" r="3.7"/><circle cy="644" r="3.7"/><circle cy="505" r="3.7"/><circle cy="498" r="3.7"/><circle cy="483" r="3.7"/><circle cy="664" r="3.7"/><circle cy="482" r="3.7"/><circle cy="613" r="3.7"/><circle cy="597" r="3.7"/><circle cy="621" r="3.7"/><circle cy="511" r="3.7"/><circle cy="501" r="3.7"/><circle cy="620" r="3.7"/><circle cy="615" r="3.7"/><circle cy="620" r="3.7"/><circle cy="611" r="3.6"/><circle cy="660" r="3.6"/><circle cy="593" r="3.6"/><circle cy="492" r="3.6"/><circle cy="668" r="3.6"/><circle cy="541" r="3.6"/><circle cy="461" r="3.5"/><circle cy="465" r="3.5"/><circle cy="598" r="3.5"/><circle cy="669" r="3.5"/><circle cy="310" r="3.5"/><circle cy="500" r="3.5"/><circle cy="538" r="3.5"/><circle cy="515" r="3.5"/><circle cy="675" r="3.4"/><circle cy="537" r="3.4"/><circle cy="632" r="3.4"/><circle cy="572" r="3.4"/><circle cy="446" r="3.4"/><circle cy="520" r="3.4"/><circle cy="477" r="3.4"/><circle cy="521" r="3.4"/><circle cy="524" r="3.3"/><circle cy="391" r="3.3"/><circle cy="653" r="3.3"/><circle cy="518" r="3.3"/><circle cy="654" r="3.3"/><circle cy="671" r="3.3"/><circle cy="485" r="3.3"/><circle cy="604" r="3.3"/><circle cy="489" r="3.3"/><circle cy="638" r="3.3"/><circle cy="548" r="3.3"/><circle cy="554" r="3.2"/><circle cy="420" r="3.2"/><circle cy="655" r="3.2"/><circle cy="477" r="3.2"/><circle cy="455" r="3.2"/><circle cy="441" r="3.2"/><circle cy="615" r="3.2"/><circle cy="485" r="3.2"/><circle cy="601" r="3.2"/><circle cy="543" r="3.2"/><circle cy="623" r="3.2"/><circle cy="658" r="3.2"/><circle cy="543" r="3.1"/><circle cy="555" r="3.1"/><circle cy="528" r="3.1"/><circle cy="515" r="3.1"/><circle cy="636" r="3.1"/><circle cy="561" r="3.1"/><circle cy="492" r="3.1"/><circle cy="661" r="3.0"/><circle cy="653" r="3.0"/><circle cy="602" r="3.0"/><circle cy="262" r="3.0"/><circle cy="333" r="3.0"/><circle cy="368" r="3.0"/><circle cy="448" r="3.0"/><circle cy="663" r="3.0"/><circle cy="441" r="3.0"/><circle cy="438" r="3.0"/><circle cy="514" r="3.0"/><circle cy="664" r="3.0"/><circle cy="564" r="2.9"/><circle cy="527" r="2.9"/><circle cy="479" r="2.9"/><circle cy="666" r="2.9"/><circle cy="497" r="2.9"/><circle cy="563" r="2.9"/><circle cy="474" r="2.9"/><circle cy="613" r="2.9"/><circle cy="558" r="2.9"/><circle cy="637" r="2.9"/><circle cy="543" r="2.9"/><circle cy="646" r="2.9"/><circle cy="595" r="2.9"/><circle cy="670" r="2.8"/><circle cy="629" r="2.8"/><circle cy="540" r="2.8"/><circle cy="496" r="2.8"/><circle cy="538" r="2.8"/><circle cy="519" r="2.8"/><circle cy="613" r="2.8"/><circle cy="473" r="2.8"/><circle cy="581" r="2.8"/><circle cy="528" r="2.8"/><circle cy="531" r="2.8"/><circle cy="587" r="2.8"/><circle cy="567" r="2.8"/><circle cy="636" r="2.8"/><circle cy="650" r="2.7"/><circle cy="602" r="2.7"/><circle cy="595" r="2.7"/><circle cy="667" r="2.7"/><circle cy="532" r="2.7"/><circle cy="665" r="2.7"/><circle cy="589" r="2.7"/><circle cy="473" r="2.7"/><circle cy="607" r="2.6"/><circle cy="477" r="2.6"/><circle cy="513" r="2.6"/><circle cy="532" r="2.6"/><circle cy="658" r="2.6"/><circle cy="539" r="2.6"/><circle cy="653" r="2.6"/><circle cy="657" r="2.6"/><circle cy="534" r="2.6"/><circle cy="659" r="2.6"/><circle cy="672" r="2.6"/><circle cy="594" r="2.6"/><circle cy="618" r="2.6"/><circle cy="572" r="2.5"/><circle cy="661" r="2.5"/><circle cy="495" r="2.5"/><circle cy="664" r="2.5"/><circle cy="628" r="2.5"/><circle cy="508" r="2.5"/><circle cy="541" r="2.5"/><circle cy="489" r="2.5"/><circle cy="624" r="2.5"/><circle cy="637" r="2.5"/><circle cy="617" r="2.5"/><circle cy="458" r="2.5"/><circle cy="622" r="2.5"/><circle cy="566" r="2.4"/><circle cy="648" r="2.4"/><circle cy="594" r="2.4"/><circle cy="395" r="2.4"/><circle cy="461" r="2.3"/><circle cy="478" r="2.3"/><circle cy="640" r="2.3"/><circle cy="535" r="2.3"/><circle cy="534" r="2.3"/><circle cy="589" r="2.3"/><circle cy="619" r="2.3"/><circle cy="514" r="2.3"/><circle cy="558" r="2.3"/><circle cy="504" r="2.3"/><circle cy="388" r="2.3"/><circle cy="417" r="2.3"/><circle cy="475" r="2.2"/><circle cy="635" r="2.2"/><circle cy="497" r="2.2"/><circle cy="659" r="2.2"/><circle cy="510" r="2.2"/><circle cy="448" r="2.2"/><circle cy="656" r="2.2"/><circle cy="620" r="2.2"/><circle cy="529" r="2.1"/><circle cy="457" r="2.1"/><circle cy="404" r="2.1"/><circle cy="584" r="2.1"/><circle cy="520" r="2.1"/><circle cy="668" r="2.1"/><circle cy="575" r="2.1"/><circle cy="565" r="2.1"/><circle cy="483" r="2.1"/><circle cy="560" r="2.1"/><circle cy="478" r="2.0"/><circle cy="589" r="2.0"/><circle cy="486" r="2.0"/><circle cy="404" r="2.0"/><circle cy="624" r="2.0"/><circle cy="620" r="2.0"/><circle cy="468" r="2.0"/><circle cy="483" r="2.0"/><circle cy="412" r="2.0"/><circle cy="572" r="2.0"/><circle cy="501" r="2.0"/><circle cy="544" r="2.0"/><circle cy="606" r="2.0"/><circle cy="607" r="2.0"/><circle cy="645" r="2.0"/><circle cy="647" r="2.0"/><circle cy="623" r="1.9"/><circle cy="391" r="1.9"/><circle cy="420" r="1.9"/><circle cy="503" r="1.9"/><circle cy="534" r="1.9"/><circle cy="667" r="1.9"/><circle cy="491" r="1.9"/><circle cy="555" r="1.9"/><circle cy="557" r="1.9"/><circle cy="658" r="1.9"/><circle cy="457" r="1.9"/><circle cy="507" r="1.9"/><circle cy="488" r="1.8"/><circle cy="635" r="1.8"/><circle cy="468" r="1.8"/><circle cy="658" r="1.8"/><circle cy="563" r="1.8"/><circle cy="424" r="1.8"/><circle cy="669" r="1.8"/><circle cy="660" r="1.8"/><circle cy="644" r="1.8"/><circle cy="467" r="1.8"/><circle cy="541" r="1.8"/><circle cy="495" r="1.8"/><circle cy="467" r="1.7"/><circle cy="621" r="1.7"/><circle cy="633" r="1.7"/><circle cy="571" r="1.7"/><circle cy="511" r="1.7"/><circle cy="383" r="1.7"/><circle cy="517" r="1.7"/><circle cy="648" r="1.6"/><circle cy="464" r="1.6"/><circle cy="585" r="1.6"/><circle cy="560" r="1.6"/><circle cy="525" r="1.6"/><circle cy="442" r="1.6"/><circle cy="495" r="1.6"/><circle cy="624" r="1.5"/><circle cy="528" r="1.5"/><circle cy="632" r="1.5"/><circle cy="633" r="1.5"/><circle cy="182" r="1.2"/><circle cy="283" r="1.2"/><circle cy="298" r="1.2"/></g><g transform="translate(789.7 0)"><circle cy="654" r="16.0"/><circle cy="654" r="16.0"/><circle cy="594" r="16.0"/><circle cy="545" r="15.8"/><circle cy="560" r="15.8"/><circle cy="653" r="15.8"/><circle cy="652" r="15.2"/><circle cy="583" r="14.6"/><circle cy="495" r="14.6"/><circle cy="505" r="14.5"/><circle cy="520" r="14.3"/><circle cy="443" r="14.0"/><circle cy="628" r="13.9"/><circle cy="624" r="13.9"/><circle cy="585" r="13.9"/><circle cy="495" r="13.8"/><circle cy="546" r="13.6"/><circle cy="532" r="13.1"/><circle cy="641" r="13.1"/><circle cy="582" r="13.1"/><circle cy="602" r="12.8"/><circle cy="641" r="12.8"/><circle cy="517" r="12.4"/><circle cy="638" r="12.3"/><circle cy="516" r="12.3"/><circle cy="656" r="12.0"/><circle cy="630" r="11.9"/><circle cy="575" r="11.8"/><circle cy="517" r="11.8"/><circle cy="616" r="11.6"/><circle cy="647" r="11.5"/><circle cy="563" r="11.2"/><circle cy="501" r="11.1"/><circle cy="525" r="11.1"/><circle cy="494" r="10.0"/><circle cy="423" r="9.0"/><circle cy="537" r="9.0"/><circle cy="646" r="9.0"/><circle cy="510" r="8.9"/><circle cy="596" r="8.8"/><circle cy="575" r="8.8"/><circle cy="603" r="8.8"/><circle cy="545" r="8.8"/><circle cy="546" r="8.8"/><circle cy="582" r="8.7"/><circle cy="627" r="8.7"/><circle cy="589" r="8.6"/><circle cy="608" r="8.5"/><circle cy="521" r="8.5"/><circle cy="622" r="8.5"/><circle cy="479" r="8.5"/><circle cy="586" r="8.3"/><circle cy="595" r="8.3"/><circle cy="539" r="8.3"/><circle cy="642" r="8.3"/><circle cy="637" r="8.2"/><circle cy="597" r="8.2"/><circle cy="522" r="8.1"/><circle cy="532" r="8.0"/><circle cy="520" r="8.0"/><circle cy="499" r="8.0"/><circle cy="497" r="8.0"/><circle cy="627" r="8.0"/><circle cy="614" r="8.0"/><circle cy="573" r="7.9"/><circle cy="633" r="7.9"/><circle cy="547" r="7.9"/><circle cy="608" r="7.9"/><circle cy="519" r="7.8"/><circle cy="522" r="7.8"/><circle cy="610" r="7.7"/><circle cy="516" r="7.7"/><circle cy="499" r="7.6"/><circle cy="643" r="7.6"/><circle cy="629" r="7.5"/><circle cy="573" r="7.5"/><circle cy="525" r="7.5"/><circle cy="661" r="7.4"/><circle cy="607" r="7.4"/><circle cy="569" r="7.4"/><circle cy="519" r="7.4"/><circle cy="656" r="7.4"/><circle cy="632" r="7.4"/><circle cy="569" r="7.3"/><circle cy="558" r="7.3"/><circle cy="512" r="7.3"/><circle cy="601" r="7.3"/><circle cy="494" r="7.3"/><circle cy="603" r="7.3"/><circle cy="606" r="7.2"/><circle cy="512" r="7.1"/><circle cy="582" r="7.1"/><circle cy="532" r="7.1"/><circle cy="572" r="7.0"/><circle cy="434" r="7.0"/><circle cy="455" r="7.0"/><circle cy="524" r="7.0"/><circle cy="518" r="6.9"/><circle cy="584" r="6.9"/><circle cy="612" r="6.9"/><circle cy="659" r="6.9"/><circle cy="549" r="6.7"/><circle cy="538" r="6.7"/><circle cy="528" r="6.7"/><circle cy="652" r="6.6"/><circle cy="547" r="6.6"/><circle cy="508" r="6.6"/><circle cy="569" r="6.6"/><circle cy="531" r="6.5"/><circle cy="555" r="6.5"/><circle cy="513" r="6.4"/><circle cy="546" r="6.4"/><circle cy="500" r="6.4"/><circle cy="540" r="6.4"/><circle cy="613" r="6.4"/><circle cy="661" r="6.4"/><circle cy="503" r="6.4"/><circle cy="513" r="6.4"/><circle cy="632" r="6.3"/><circle cy="571" r="6.3"/><circle cy="552" r="6.2"/><circle cy="662" r="6.2"/><circle cy="551" r="6.2"/><circle cy="555" r="6.2"/><circle cy="477" r="6.2"/><circle cy="505" r="6.2"/><circle cy="507" r="6.1"/><circle cy="512" r="6.1"/><circle cy="534" r="6.1"/><circle cy="506" r="6.0"/><circle cy="605" r="6.0"/><circle cy="471" r="6.0"/><circle cy="434" r="6.0"/><circle cy="539" r="5.9"/><circle cy="602" r="5.9"/><circle cy="478" r="5.9"/><circle cy="483" r="5.9"/><circle cy="614" r="5.9"/><circle cy="572" r="5.9"/><circle cy="638" r="5.9"/><circle cy="619" r="5.9"/><circle cy="557" r="5.8"/><circle cy="610" r="5.8"/><circle cy="646" r="5.8"/><circle cy="482" r="5.8"/><circle cy="618" r="5.8"/><circle cy="534" r="5.8"/><circle cy="539" r="5.8"/><circle cy="641" r="5.8"/><circle cy="607" r="5.7"/><circle cy="554" r="5.7"/><circle cy="496" r="5.7"/><circle cy="495" r="5.7"/><circle cy="526" r="5.7"/><circle cy="604" r="5.7"/><circle cy="635" r="5.6"/><circle cy="597" r="5.6"/><circle cy="486" r="5.6"/><circle cy="482" r="5.6"/><circle cy="660" r="5.6"/><circle cy="554" r="5.6"/><circle cy="537" r="5.5"/><circle cy="551" r="5.5"/><circle cy="491" r="5.4"/><circle cy="650" r="5.4"/><circle cy="571" r="5.4"/><circle cy="660" r="5.4"/><circle cy="487" r="5.4"/><circle cy="568" r="5.3"/><circle cy="622" r="5.3"/><circle cy="618" r="5.3"/><circle cy="651" r="5.2"/><circle cy="505" r="5.2"/><circle cy="587" r="5.2"/><circle cy="638" r="5.2"/><circle cy="624" r="5.2"/><circle cy="625" r="5.2"/><circle cy="594" r="5.1"/><circle cy="551" r="5.1"/><circle cy="561" r="5.1"/><circle cy="475" r="5.1"/><circle cy="642" r="5.0"/><circle cy="638" r="5.0"/><circle cy="406" r="5.0"/><circle cy="483" r="5.0"/><circle cy="492" r="5.0"/><circle cy="574" r="5.0"/><circle cy="505" r="4.9"/><circle cy="488" r="4.9"/><circle cy="598" r="4.9"/><circle cy="594" r="4.8"/><circle cy="641" r="4.8"/><circle cy="515" r="4.6"/><circle cy="647" r="4.6"/><circle cy="663" r="4.6"/><circle cy="600" r="4.6"/><circle cy="570" r="4.5"/><circle cy="595" r="4.5"/><circle cy="505" r="4.5"/><circle cy="507" r="4.5"/><circle cy="558" r="4.5"/><circle cy="654" r="4.5"/><circle cy="553" r="4.5"/><circle cy="643" r="4.5"/><circle cy="492" r="4.5"/><circle cy="566" r="4.5"/><circle cy="613" r="4.5"/><circle cy="563" r="4.5"/><circle cy="598" r="4.4"/><circle cy="644" r="4.4"/><circle cy="467" r="4.4"/><circle cy="500" r="4.4"/><circle cy="538" r="4.4"/><circle cy="539" r="4.4"/><circle cy="630" r="4.4"/><circle cy="529" r="4.4"/><circle cy="541" r="4.4"/><circle cy="621" r="4.4"/><circle cy="510" r="4.4"/><circle cy="543" r="4.4"/><circle cy="538" r="4.4"/><circle cy="502" r="4.4"/><circle cy="578" r="4.4"/><circle cy="665" r="4.3"/><circle cy="547" r="4.3"/><circle cy="632" r="4.3"/><circle cy="645" r="4.3"/><circle cy="621" r="4.3"/><circle cy="660" r="4.3"/><circle cy="571" r="4.3"/><circle cy="539" r="4.3"/><circle cy="628" r="4.3"/><circle cy="486" r="4.3"/><circle cy="547" r="4.3"/><circle cy="628" r="4.3"/><circle cy="559" r="4.3"/><circle cy="498" r="4.2"/><circle cy="611" r="4.2"/><circle cy="640" r="4.2"/><circle cy="533" r="4.2"/><circle cy="519" r="4.2"/><circle cy="546" r="4.2"/><circle cy="516" r="4.1"/><circle cy="518" r="4.1"/><circle cy="598" r="4.1"/><circle cy="505" r="4.1"/><circle cy="663" r="4.1"/><circle cy="474" r="4.1"/><circle cy="603" r="4.1"/><circle cy="549" r="4.1"/><circle cy="480" r="4.1"/><circle cy="623" r="4.1"/><circle cy="505" r="4.1"/><circle cy="493" r="4.1"/><circle cy="500" r="4.0"/><circle cy="599" r="4.0"/><circle cy="559" r="4.0"/><circle cy="473" r="4.0"/><circle cy="482" r="4.0"/><circle cy="513" r="4.0"/><circle cy="582" r="4.0"/><circle cy="664" r="4.0"/><circle cy="664" r="4.0"/><circle cy="514" r="4.0"/><circle cy="560" r="4.0"/><circle cy="569" r="4.0"/><circle cy="446" r="4.0"/><circle cy="548" r="4.0"/><circle cy="577" r="3.9"/><circle cy="605" r="3.9"/><circle cy="514" r="3.9"/><circle cy="428" r="3.9"/><circle cy="585" r="3.9"/><circle cy="465" r="3.9"/><circle cy="634" r="3.9"/><circle cy="521" r="3.9"/><circle cy="526" r="3.9"/><circle cy="447" r="3.9"/><circle cy="560" r="3.9"/><circle cy="556" r="3.9"/><circle cy="526" r="3.8"/><circle cy="582" r="3.8"/><circle cy="523" r="3.8"/><circle cy="579" r="3.8"/><circle cy="528" r="3.8"/><circle cy="473" r="3.8"/><circle cy="641" r="3.7"/><circle cy="609" r="3.7"/><circle cy="483" r="3.7"/><circle cy="510" r="3.7"/><circle cy="518" r="3.7"/><circle cy="510" r="3.7"/><circle cy="487" r="3.7"/><circle cy="520" r="3.7"/><circle cy="446" r="3.7"/><circle cy="611" r="3.6"/><circle cy="476" r="3.6"/><circle cy="652" r="3.6"/><circle cy="558" r="3.6"/><circle cy="660" r="3.6"/><circle cy="446" r="3.6"/><circle cy="622" r="3.6"/><circle cy="614" r="3.6"/><circle cy="544" r="3.6"/><circle cy="583" r="3.6"/><circle cy="495" r="3.6"/><circle cy="572" r="3.6"/><circle cy="645" r="3.6"/><circle cy="574" r="3.5"/><circle cy="629" r="3.5"/><circle cy="522" r="3.5"/><circle cy="577" r="3.5"/><circle cy="546" r="3.5"/><circle cy="597" r="3.5"/><circle cy="485" r="3.5"/><circle cy="545" r="3.5"/><circle cy="603" r="3.4"/><circle cy="633" r="3.4"/><circle cy="598" r="3.4"/><circle cy="566" r="3.4"/><circle cy="491" r="3.4"/><circle cy="561" r="3.4"/><circle cy="499" r="3.4"/><circle cy="585" r="3.4"/><circle cy="592" r="3.4"/><circle cy="489" r="3.4"/><circle cy="488" r="3.4"/><circle cy="477" r="3.4"/><circle cy="622" r="3.4"/><circle cy="503" r="3.3"/><circle cy="498" r="3.3"/><circle cy="505" r="3.3"/><circle cy="470" r="3.3"/><circle cy="639" r="3.3"/><circle cy="524" r="3.3"/><circle cy="566" r="3.2"/><circle cy="466" r="3.2"/><circle cy="622" r="3.2"/><circle cy="595" r="3.2"/><circle cy="508" r="3.2"/><circle cy="462" r="3.2"/><circle cy="568" r="3.2"/><circle cy="506" r="3.2"/><circle cy="530" r="3.2"/><circle cy="617" r="3.2"/><circle cy="588" r="3.2"/><circle cy="586" r="3.2"/><circle cy="612" r="3.2"/><circle cy="490" r="3.2"/><circle cy="629" r="3.1"/><circle cy="628" r="3.1"/><circle cy="540" r="3.1"/><circle cy="507" r="3.1"/><circle cy="553" r="3.1"/><circle cy="438" r="3.1"/><circle cy="494" r="3.1"/><circle cy="439" r="3.1"/><circle cy="524" r="3.1"/><circle cy="550" r="3.1"/><circle cy="491" r="3.1"/><circle cy="553" r="3.0"/><circle cy="565" r="3.0"/><circle cy="493" r="3.0"/><circle cy="527" r="3.0"/><circle cy="624" r="3.0"/><circle cy="610" r="3.0"/><circle cy="634" r="3.0"/><circle cy="386" r="3.0"/><circle cy="501" r="3.0"/><circle cy="510" r="3.0"/><circle cy="531" r="3.0"/><circle cy="545" r="3.0"/><circle cy="544" r="3.0"/><circle cy="514" r="3.0"/><circle cy="589" r="3.0"/><circle cy="609" r="2.9"/><circle cy="580" r="2.9"/><circle cy="416" r="2.9"/><circle cy="423" r="2.9"/><circle cy="625" r="2.8"/><circle cy="557" r="2.8"/><circle cy="650" r="2.8"/><circle cy="632" r="2.8"/><circle cy="619" r="2.8"/><circle cy="632" r="2.8"/><circle cy="520" r="2.8"/><circle cy="620" r="2.8"/><circle cy="600" r="2.8"/><circle cy="540" r="2.8"/><circle cy="509" r="2.8"/><circle cy="539" r="2.8"/><circle cy="410" r="2.8"/><circle cy="634" r="2.8"/><circle cy="470" r="2.7"/><circle cy="488" r="2.7"/><circle cy="637" r="2.7"/><circle cy="658" r="2.7"/><circle cy="653" r="2.7"/><circle cy="565" r="2.7"/><circle cy="465" r="2.7"/><circle cy="617" r="2.7"/><circle cy="527" r="2.7"/><circle cy="493" r="2.7"/><circle cy="516" r="2.7"/><circle cy="581" r="2.6"/><circle cy="463" r="2.6"/><circle cy="547" r="2.6"/><circle cy="561" r="2.6"/><circle cy="624" r="2.6"/><circle cy="643" r="2.6"/><circle cy="499" r="2.6"/><circle cy="554" r="2.6"/><circle cy="506" r="2.6"/><circle cy="629" r="2.6"/><circle cy="613" r="2.5"/><circle cy="489" r="2.5"/><circle cy="484" r="2.5"/><circle cy="465" r="2.5"/><circle cy="485" r="2.5"/><circle cy="637" r="2.5"/><circle cy="585" r="2.5"/><circle cy="587" r="2.5"/><circle cy="538" r="2.4"/><circle cy="583" r="2.4"/><circle cy="517" r="2.4"/><circle cy="464" r="2.4"/><circle cy="609" r="2.4"/><circle cy="442" r="2.4"/><circle cy="557" r="2.4"/><circle cy="615" r="2.3"/><circle cy="485" r="2.3"/><circle cy="651" r="2.3"/><circle cy="651" r="2.3"/><circle cy="494" r="2.3"/><circle cy="594" r="2.3"/><circle cy="544" r="2.3"/><circle cy="630" r="2.3"/><circle cy="633" r="2.3"/><circle cy="467" r="2.3"/><circle cy="480" r="2.3"/><circle cy="512" r="2.3"/><circle cy="466" r="2.3"/><circle cy="480" r="2.2"/><circle cy="521" r="2.2"/><circle cy="577" r="2.2"/><circle cy="578" r="2.2"/><circle cy="525" r="2.2"/><circle cy="507" r="2.2"/><circle cy="637" r="2.2"/><circle cy="464" r="2.2"/><circle cy="479" r="2.2"/><circle cy="640" r="2.2"/><circle cy="552" r="2.2"/><circle cy="594" r="2.1"/><circle cy="466" r="2.1"/><circle cy="470" r="2.1"/><circle cy="611" r="2.1"/><circle cy="659" r="2.1"/><circle cy="608" r="2.1"/><circle cy="560" r="2.1"/><circle cy="658" r="2.1"/><circle cy="581" r="2.0"/><circle cy="546" r="2.0"/><circle cy="515" r="2.0"/><circle cy="494" r="2.0"/><circle cy="522" r="2.0"/><circle cy="610" r="2.0"/><circle cy="573" r="2.0"/><circle cy="526" r="1.9"/><circle cy="524" r="1.9"/><circle cy="490" r="1.9"/><circle cy="560" r="1.9"/><circle cy="637" r="1.9"/><circle cy="440" r="1.9"/><circle cy="585" r="1.8"/><circle cy="613" r="1.8"/><circle cy="567" r="1.8"/><circle cy="590" r="1.8"/><circle cy="560" r="1.8"/><circle cy="421" r="1.8"/><circle cy="613" r="1.8"/><circle cy="531" r="1.8"/><circle cy="635" r="1.8"/><circle cy="547" r="1.8"/><circle cy="475" r="1.8"/><circle cy="608" r="1.8"/><circle cy="598" r="1.8"/><circle cy="519" r="1.8"/><circle cy="473" r="1.8"/><circle cy="653" r="1.8"/><circle cy="502" r="1.8"/><circle cy="627" r="1.8"/><circle cy="640" r="1.7"/><circle cy="555" r="1.7"/><circle cy="658" r="1.7"/><circle cy="655" r="1.7"/><circle cy="477" r="1.7"/><circle cy="595" r="1.7"/><circle cy="402" r="1.7"/><circle cy="501" r="1.6"/><circle cy="554" r="1.6"/><circle cy="618" r="1.6"/><circle cy="617" r="1.6"/><circle cy="531" r="1.6"/><circle cy="611" r="1.6"/><circle cy="415" r="1.6"/><circle cy="553" r="1.6"/><circle cy="609" r="1.6"/><circle cy="539" r="1.6"/><circle cy="561" r="1.6"/><circle cy="654" r="1.6"/><circle cy="493" r="1.5"/><circle cy="646" r="1.5"/><circle cy="640" r="1.5"/><circle cy="627" r="1.5"/><circle cy="340" r="1.5"/></g><g transform="translate(865.0 0)"><circle cy="682" r="16.0"/><circle cy="682" r="16.0"/><circle cy="585" r="15.9"/><circle cy="638" r="15.8"/><circle cy="575" r="15.8"/><circle cy="553" r="15.6"/><circle cy="574" r="15.4"/><circle cy="655" r="15.2"/><circle cy="557" r="15.1"/><circle cy="643" r="15.1"/><circle cy="564" r="15.1"/><circle cy="573" r="15.1"/><circle cy="657" r="14.9"/><circle cy="601" r="14.9"/><circle cy="638" r="14.8"/><circle cy="582" r="14.8"/><circle cy="615" r="14.5"/><circle cy="626" r="14.5"/><circle cy="647" r="14.4"/><circle cy="645" r="14.2"/><circle cy="578" r="13.8"/><circle cy="591" r="13.6"/><circle cy="561" r="13.5"/><circle cy="659" r="13.5"/><circle cy="678" r="13.0"/><circle cy="611" r="13.0"/><circle cy="643" r="12.7"/><circle cy="562" r="12.6"/><circle cy="616" r="12.6"/><circle cy="628" r="12.6"/><circle cy="610" r="12.3"/><circle cy="660" r="12.1"/><circle cy="675" r="12.0"/><circle cy="612" r="11.9"/><circle cy="648" r="11.8"/><circle cy="651" r="11.7"/><circle cy="580" r="11.7"/><circle cy="640" r="11.6"/><circle cy="643" r="11.6"/><circle cy="577" r="11.5"/><circle cy="576" r="11.1"/><circle cy="652" r="11.0"/><circle cy="675" r="11.0"/><circle cy="494" r="10.0"/><circle cy="525" r="9.4"/><circle cy="592" r="9.4"/><circle cy="523" r="9.4"/><circle cy="577" r="9.4"/><circle cy="582" r="9.4"/><circle cy="554" r="9.4"/><circle cy="620" r="9.4"/><circle cy="542" r="9.3"/><circle cy="662" r="9.2"/><circle cy="615" r="9.2"/><circle cy="563" r="9.2"/><circle cy="592" r="9.1"/><circle cy="660" r="9.1"/><circle cy="616" r="9.1"/><circle cy="655" r="9.0"/><circle cy="561" r="8.9"/><circle cy="577" r="8.9"/><circle cy="556" r="8.9"/><circle cy="545" r="8.8"/><circle cy="525" r="8.8"/><circle cy="582" r="8.8"/><circle cy="637" r="8.8"/><circle cy="616" r="8.8"/><circle cy="559" r="8.7"/><circle cy="642" r="8.7"/><circle cy="565" r="8.5"/><circle cy="588" r="8.5"/><circle cy="609" r="8.4"/><circle cy="586" r="8.3"/><circle cy="628" r="8.3"/><circle cy="553" r="8.2"/><circle cy="567" r="8.2"/><circle cy="615" r="8.2"/><circle cy="624" r="8.1"/><circle cy="658" r="8.1"/><circle cy="552" r="8.1"/><circle cy="533" r="8.0"/><circle cy="607" r="8.0"/><circle cy="550" r="8.0"/><circle cy="672" r="8.0"/><circle cy="565" r="8.0"/><circle cy="572" r="7.9"/><circle cy="638" r="7.9"/><circle cy="551" r="7.7"/><circle cy="623" r="7.7"/><circle cy="651" r="7.6"/><circle cy="566" r="7.6"/><circle cy="553" r="7.6"/><circle cy="579" r="7.6"/><circle cy="562" r="7.4"/><circle cy="601" r="7.3"/><circle cy="587" r="7.2"/><circle cy="587" r="7.2"/><circle cy="654" r="7.2"/><circle cy="643" r="7.2"/><circle cy="551" r="7.1"/><circle cy="548" r="7.1"/><circle cy="558" r="7.1"/><circle cy="634" r="7.0"/><circle cy="353" r="7.0"/><circle cy="484" r="7.0"/><circle cy="578" r="7.0"/><circle cy="600" r="7.0"/><circle cy="610" r="6.9"/><circle cy="616" r="6.9"/><circle cy="625" r="6.9"/><circle cy="563" r="6.8"/><circle cy="636" r="6.8"/><circle cy="524" r="6.7"/><circle cy="577" r="6.6"/><circle cy="519" r="6.6"/><circle cy="581" r="6.6"/><circle cy="605" r="6.5"/><circle cy="668" r="6.5"/><circle cy="590" r="6.5"/><circle cy="554" r="6.5"/><circle cy="631" r="6.4"/><circle cy="656" r="6.4"/><circle cy="557" r="6.3"/><circle cy="587" r="6.3"/><circle cy="647" r="6.1"/><circle cy="659" r="6.1"/><circle cy="582" r="6.1"/><circle cy="646" r="6.1"/><circle cy="536" r="6.0"/><circle cy="535" r="6.0"/><circle cy="373" r="6.0"/><circle cy="385" r="6.0"/><circle cy="441" r="6.0"/><circle cy="582" r="5.9"/><circle cy="635" r="5.9"/><circle cy="639" r="5.9"/><circle cy="561" r="5.8"/><circle cy="548" r="5.8"/><circle cy="594" r="5.7"/><circle cy="571" r="5.7"/><circle cy="520" r="5.7"/><circle cy="599" r="5.7"/><circle cy="630" r="5.6"/><circle cy="561" r="5.6"/><circle cy="655" r="5.5"/><circle cy="621" r="5.4"/><circle cy="533" r="5.4"/><circle cy="597" r="5.4"/><circle cy="640" r="5.3"/><circle cy="627" r="5.3"/><circle cy="648" r="5.3"/><circle cy="634" r="5.2"/><circle cy="535" r="5.2"/><circle cy="639" r="5.1"/><circle cy="642" r="5.1"/><circle cy="545" r="5.0"/><circle cy="401" r="5.0"/><circle cy="470" r="5.0"/><circle cy="474" r="5.0"/><circle cy="556" r="5.0"/><circle cy="631" r="5.0"/><circle cy="664" r="4.9"/><circle cy="584" r="4.9"/><circle cy="532" r="4.8"/><circle cy="577" r="4.7"/><circle cy="616" r="4.7"/><circle cy="634" r="4.6"/><circle cy="571" r="4.6"/><circle cy="569" r="4.6"/><circle cy="571" r="4.5"/><circle cy="621" r="4.5"/><circle cy="645" r="4.5"/><circle cy="635" r="4.5"/><circle cy="620" r="4.5"/><circle cy="546" r="4.5"/><circle cy="555" r="4.5"/><circle cy="565" r="4.5"/><circle cy="651" r="4.5"/><circle cy="631" r="4.5"/><circle cy="528" r="4.5"/><circle cy="553" r="4.4"/><circle cy="638" r="4.4"/><circle cy="530" r="4.4"/><circle cy="671" r="4.4"/><circle cy="525" r="4.4"/><circle cy="667" r="4.4"/><circle cy="635" r="4.4"/><circle cy="516" r="4.4"/><circle cy="598" r="4.4"/><circle cy="547" r="4.4"/><circle cy="527" r="4.4"/><circle cy="523" r="4.4"/><circle cy="633" r="4.4"/><circle cy="603" r="4.4"/><circle cy="565" r="4.4"/><circle cy="659" r="4.3"/><circle cy="554" r="4.3"/><circle cy="553" r="4.3"/><circle cy="527" r="4.3"/><circle cy="567" r="4.3"/><circle cy="541" r="4.3"/><circle cy="518" r="4.3"/><circle cy="660" r="4.3"/><circle cy="584" r="4.3"/><circle cy="555" r="4.3"/><circle cy="584" r="4.3"/><circle cy="620" r="4.3"/><circle cy="592" r="4.3"/><circle cy="521" r="4.3"/><circle cy="593" r="4.2"/><circle cy="527" r="4.2"/><circle cy="652" r="4.2"/><circle cy="637" r="4.2"/><circle cy="597" r="4.2"/><circle cy="623" r="4.2"/><circle cy="632" r="4.2"/><circle cy="589" r="4.2"/><circle cy="652" r="4.2"/><circle cy="668" r="4.2"/><circle cy="543" r="4.2"/><circle cy="570" r="4.2"/><circle cy="560" r="4.2"/><circle cy="569" r="4.1"/><circle cy="628" r="4.1"/><circle cy="648" r="4.1"/><circle cy="581" r="4.1"/><circle cy="528" r="4.1"/><circle cy="669" r="4.1"/><circle cy="666" r="4.1"/><circle cy="656" r="4.1"/><circle cy="660" r="4.1"/><circle cy="639" r="4.1"/><circle cy="659" r="4.1"/><circle cy="568" r="4.1"/><circle cy="586" r="4.1"/><circle cy="649" r="4.1"/><circle cy="534" r="4.0"/><circle cy="529" r="4.0"/><circle cy="579" r="4.0"/><circle cy="634" r="4.0"/><circle cy="569" r="4.0"/><circle cy="454" r="4.0"/><circle cy="676" r="4.0"/><circle cy="446" r="4.0"/><circle cy="522" r="4.0"/><circle cy="647" r="4.0"/><circle cy="573" r="4.0"/><circle cy="609" r="4.0"/><circle cy="599" r="3.9"/><circle cy="627" r="3.9"/><circle cy="676" r="3.9"/><circle cy="531" r="3.9"/><circle cy="561" r="3.9"/><circle cy="524" r="3.9"/><circle cy="540" r="3.9"/><circle cy="660" r="3.9"/><circle cy="525" r="3.9"/><circle cy="605" r="3.9"/><circle cy="644" r="3.9"/><circle cy="607" r="3.9"/><circle cy="633" r="3.9"/><circle cy="625" r="3.8"/><circle cy="531" r="3.8"/><circle cy="535" r="3.8"/><circle cy="664" r="3.8"/><circle cy="637" r="3.8"/><circle cy="479" r="3.8"/><circle cy="601" r="3.8"/><circle cy="589" r="3.8"/><circle cy="628" r="3.8"/><circle cy="479" r="3.8"/><circle cy="578" r="3.8"/><circle cy="611" r="3.8"/><circle cy="627" r="3.7"/><circle cy="678" r="3.7"/><circle cy="447" r="3.7"/><circle cy="530" r="3.7"/><circle cy="624" r="3.7"/><circle cy="639" r="3.7"/><circle cy="637" r="3.7"/><circle cy="590" r="3.6"/><circle cy="593" r="3.6"/><circle cy="531" r="3.6"/><circle cy="583" r="3.6"/><circle cy="645" r="3.6"/><circle cy="634" r="3.6"/><circle cy="564" r="3.6"/><circle cy="645" r="3.6"/><circle cy="661" r="3.6"/><circle cy="568" r="3.6"/><circle cy="527" r="3.6"/><circle cy="578" r="3.6"/><circle cy="527" r="3.6"/><circle cy="500" r="3.6"/><circle cy="645" r="3.6"/><circle cy="586" r="3.6"/><circle cy="582" r="3.5"/><circle cy="605" r="3.5"/><circle cy="619" r="3.5"/><circle cy="590" r="3.5"/><circle cy="563" r="3.5"/><circle cy="445" r="3.5"/><circle cy="610" r="3.5"/><circle cy="528" r="3.5"/><circle cy="570" r="3.5"/><circle cy="525" r="3.5"/><circle cy="643" r="3.4"/><circle cy="626" r="3.4"/><circle cy="567" r="3.4"/><circle cy="482" r="3.4"/><circle cy="622" r="3.4"/><circle cy="657" r="3.4"/><circle cy="526" r="3.3"/><circle cy="540" r="3.3"/><circle cy="525" r="3.3"/><circle cy="527" r="3.3"/><circle cy="511" r="3.3"/><circle cy="505" r="3.3"/><circle cy="526" r="3.3"/><circle cy="560" r="3.3"/><circle cy="642" r="3.3"/><circle cy="649" r="3.3"/><circle cy="572" r="3.3"/><circle cy="582" r="3.3"/><circle cy="651" r="3.3"/><circle cy="581" r="3.3"/><circle cy="677" r="3.3"/><circle cy="503" r="3.3"/><circle cy="531" r="3.2"/><circle cy="669" r="3.2"/><circle cy="533" r="3.2"/><circle cy="564" r="3.2"/><circle cy="530" r="3.2"/><circle cy="662" r="3.2"/><circle cy="647" r="3.2"/><circle cy="570" r="3.2"/><circle cy="538" r="3.2"/><circle cy="655" r="3.2"/><circle cy="585" r="3.2"/><circle cy="571" r="3.2"/><circle cy="601" r="3.2"/><circle cy="634" r="3.2"/><circle cy="578" r="3.2"/><circle cy="565" r="3.2"/><circle cy="671" r="3.1"/><circle cy="509" r="3.1"/><circle cy="494" r="3.1"/><circle cy="526" r="3.1"/><circle cy="673" r="3.1"/><circle cy="556" r="3.1"/><circle cy="641" r="3.1"/><circle cy="674" r="3.1"/><circle cy="477" r="3.1"/><circle cy="538" r="3.1"/><circle cy="560" r="3.1"/><circle cy="626" r="3.1"/><circle cy="474" r="3.1"/><circle cy="678" r="3.1"/><circle cy="605" r="3.0"/><circle cy="590" r="3.0"/><circle cy="637" r="3.0"/><circle cy="597" r="3.0"/><circle cy="539" r="3.0"/><circle cy="707" r="3.0"/><circle cy="623" r="3.0"/><circle cy="639" r="3.0"/><circle cy="593" r="3.0"/><circle cy="538" r="3.0"/><circle cy="646" r="3.0"/><circle cy="565" r="2.9"/><circle cy="577" r="2.9"/><circle cy="649" r="2.9"/><circle cy="575" r="2.9"/><circle cy="557" r="2.9"/><circle cy="599" r="2.9"/><circle cy="649" r="2.9"/><circle cy="620" r="2.9"/><circle cy="533" r="2.9"/><circle cy="646" r="2.9"/><circle cy="667" r="2.9"/><circle cy="521" r="2.8"/><circle cy="482" r="2.8"/><circle cy="649" r="2.8"/><circle cy="665" r="2.8"/><circle cy="669" r="2.8"/><circle cy="605" r="2.8"/><circle cy="549" r="2.8"/><circle cy="550" r="2.8"/><circle cy="572" r="2.8"/><circle cy="581" r="2.8"/><circle cy="668" r="2.8"/><circle cy="678" r="2.8"/><circle cy="514" r="2.8"/><circle cy="672" r="2.7"/><circle cy="638" r="2.7"/><circle cy="616" r="2.7"/><circle cy="604" r="2.7"/><circle cy="535" r="2.7"/><circle cy="530" r="2.7"/><circle cy="674" r="2.7"/><circle cy="591" r="2.7"/><circle cy="586" r="2.7"/><circle cy="603" r="2.7"/><circle cy="647" r="2.7"/><circle cy="478" r="2.6"/><circle cy="555" r="2.6"/><circle cy="681" r="2.6"/><circle cy="567" r="2.6"/><circle cy="609" r="2.6"/><circle cy="511" r="2.6"/><circle cy="661" r="2.6"/><circle cy="576" r="2.6"/><circle cy="629" r="2.6"/><circle cy="540" r="2.5"/><circle cy="611" r="2.5"/><circle cy="677" r="2.5"/><circle cy="676" r="2.5"/><circle cy="667" r="2.5"/><circle cy="516" r="2.5"/><circle cy="563" r="2.5"/><circle cy="666" r="2.5"/><circle cy="632" r="2.5"/><circle cy="626" r="2.5"/><circle cy="450" r="2.5"/><circle cy="461" r="2.5"/><circle cy="576" r="2.5"/><circle cy="672" r="2.5"/><circle cy="670" r="2.5"/><circle cy="561" r="2.5"/><circle cy="518" r="2.5"/><circle cy="578" r="2.5"/><circle cy="553" r="2.5"/><circle cy="627" r="2.5"/><circle cy="533" r="2.5"/><circle cy="590" r="2.4"/><circle cy="462" r="2.4"/><circle cy="529" r="2.4"/><circle cy="612" r="2.4"/><circle cy="615" r="2.4"/><circle cy="635" r="2.4"/><circle cy="634" r="2.4"/><circle cy="602" r="2.4"/><circle cy="656" r="2.4"/><circle cy="588" r="2.4"/><circle cy="555" r="2.3"/><circle cy="568" r="2.3"/><circle cy="675" r="2.3"/><circle cy="478" r="2.3"/><circle cy="644" r="2.3"/><circle cy="512" r="2.3"/><circle cy="662" r="2.3"/><circle cy="517" r="2.3"/><circle cy="636" r="2.3"/><circle cy="549" r="2.3"/><circle cy="599" r="2.3"/><circle cy="650" r="2.3"/><circle cy="648" r="2.3"/><circle cy="609" r="2.3"/><circle cy="512" r="2.3"/><circle cy="678" r="2.3"/><circle cy="669" r="2.2"/><circle cy="558" r="2.2"/><circle cy="536" r="2.2"/><circle cy="552" r="2.2"/><circle cy="510" r="2.2"/><circle cy="601" r="2.2"/><circle cy="631" r="2.2"/><circle cy="647" r="2.2"/><circle cy="567" r="2.2"/><circle cy="584" r="2.2"/><circle cy="511" r="2.2"/><circle cy="651" r="2.1"/><circle cy="526" r="2.1"/><circle cy="533" r="2.1"/><circle cy="520" r="2.1"/><circle cy="538" r="2.1"/><circle cy="480" r="2.1"/><circle cy="604" r="2.1"/><circle cy="657" r="2.1"/><circle cy="467" r="2.1"/><circle cy="617" r="2.1"/><circle cy="488" r="2.1"/><circle cy="631" r="2.1"/><circle cy="579" r="2.1"/><circle cy="633" r="2.0"/><circle cy="676" r="2.0"/><circle cy="508" r="2.0"/><circle cy="549" r="2.0"/><circle cy="567" r="2.0"/><circle cy="333" r="2.0"/><circle cy="541" r="2.0"/><circle cy="577" r="2.0"/><circle cy="599" r="2.0"/><circle cy="553" r="2.0"/><circle cy="653" r="2.0"/><circle cy="597" r="1.9"/><circle cy="521" r="1.9"/><circle cy="612" r="1.9"/><circle cy="662" r="1.9"/><circle cy="662" r="1.9"/><circle cy="536" r="1.9"/><circle cy="544" r="1.9"/><circle cy="545" r="1.9"/><circle cy="581" r="1.9"/><circle cy="567" r="1.9"/><circle cy="533" r="1.9"/><circle cy="552" r="1.9"/><circle cy="656" r="1.9"/><circle cy="611" r="1.8"/><circle cy="655" r="1.8"/><circle cy="638" r="1.8"/><circle cy="674" r="1.8"/><circle cy="531" r="1.8"/><circle cy="617" r="1.8"/><circle cy="542" r="1.8"/><circle cy="660" r="1.8"/><circle cy="668" r="1.8"/><circle cy="680" r="1.8"/><circle cy="541" r="1.8"/><circle cy="658" r="1.7"/><circle cy="607" r="1.7"/><circle cy="552" r="1.7"/><circle cy="649" r="1.7"/><circle cy="602" r="1.7"/><circle cy="635" r="1.7"/><circle cy="682" r="1.7"/><circle cy="528" r="1.6"/><circle cy="536" r="1.6"/><circle cy="614" r="1.6"/><circle cy="671" r="1.6"/><circle cy="629" r="1.6"/><circle cy="653" r="1.6"/><circle cy="555" r="1.6"/><circle cy="531" r="1.6"/><circle cy="589" r="1.6"/><circle cy="528" r="1.6"/><circle cy="630" r="1.6"/><circle cy="593" r="1.6"/><circle cy="601" r="1.6"/><circle cy="562" r="1.6"/><circle cy="580" r="1.6"/><circle cy="633" r="1.6"/><circle cy="564" r="1.5"/><circle cy="463" r="1.5"/><circle cy="548" r="1.5"/><circle cy="664" r="1.5"/><circle cy="569" r="1.5"/><circle cy="580" r="1.5"/><circle cy="523" r="1.5"/><circle cy="292" r="1.2"/><circle cy="301" r="1.2"/></g><g transform="translate(940.2 0)"><circle cy="688" r="16.0"/><circle cy="688" r="16.0"/><circle cy="608" r="15.9"/><circle cy="601" r="15.8"/><circle cy="637" r="15.6"/><circle cy="665" r="15.6"/><circle cy="653" r="15.5"/><circle cy="574" r="15.3"/><circle cy="608" r="15.3"/><circle cy="655" r="15.2"/><circle cy="637" r="15.2"/><circle cy="651" r="15.0"/><circle cy="573" r="15.0"/><circle cy="583" r="15.0"/><circle cy="574" r="15.0"/><circle cy="605" r="14.9"/><circle cy="652" r="14.9"/><circle cy="641" r="14.7"/><circle cy="583" r="14.2"/><circle cy="596" r="14.2"/><circle cy="622" r="14.1"/><circle cy="568" r="14.0"/><circle cy="561" r="13.7"/><circle cy="608" r="13.6"/><circle cy="586" r="13.6"/><circle cy="563" r="13.5"/><circle cy="676" r="13.2"/><circle cy="599" r="12.7"/><circle cy="558" r="12.6"/><circle cy="663" r="12.6"/><circle cy="631" r="12.5"/><circle cy="668" r="12.3"/><circle cy="651" r="12.3"/><circle cy="570" r="12.0"/><circle cy="561" r="11.7"/><circle cy="645" r="11.6"/><circle cy="676" r="11.3"/><circle cy="609" r="11.2"/><circle cy="621" r="11.1"/><circle cy="567" r="11.1"/><circle cy="607" r="11.0"/><circle cy="587" r="11.0"/><circle cy="565" r="11.0"/><circle cy="688" r="10.0"/><circle cy="606" r="9.5"/><circle cy="678" r="9.4"/><circle cy="543" r="9.4"/><circle cy="551" r="9.4"/><circle cy="649" r="9.4"/><circle cy="598" r="9.3"/><circle cy="546" r="9.3"/><circle cy="674" r="9.3"/><circle cy="620" r="9.2"/><circle cy="591" r="9.2"/><circle cy="599" r="9.2"/><circle cy="600" r="9.0"/><circle cy="566" r="8.9"/><circle cy="552" r="8.9"/><circle cy="603" r="8.9"/><circle cy="586" r="8.9"/><circle cy="629" r="8.9"/><circle cy="665" r="8.8"/><circle cy="678" r="8.6"/><circle cy="582" r="8.6"/><circle cy="624" r="8.5"/><circle cy="655" r="8.5"/><circle cy="602" r="8.5"/><circle cy="572" r="8.4"/><circle cy="560" r="8.4"/><circle cy="551" r="8.4"/><circle cy="638" r="8.3"/><circle cy="669" r="8.3"/><circle cy="612" r="8.2"/><circle cy="583" r="8.2"/><circle cy="565" r="8.2"/><circle cy="564" r="8.1"/><circle cy="566" r="8.1"/><circle cy="605" r="8.1"/><circle cy="617" r="8.1"/><circle cy="624" r="8.0"/><circle cy="459" r="8.0"/><circle cy="608" r="8.0"/><circle cy="627" r="7.9"/><circle cy="640" r="7.9"/><circle cy="664" r="7.9"/><circle cy="609" r="7.9"/><circle cy="567" r="7.7"/><circle cy="606" r="7.7"/><circle cy="621" r="7.5"/><circle cy="627" r="7.5"/><circle cy="671" r="7.5"/><circle cy="624" r="7.5"/><circle cy="632" r="7.4"/><circle cy="660" r="7.4"/><circle cy="611" r="7.3"/><circle cy="649" r="7.2"/><circle cy="679" r="7.2"/><circle cy="627" r="7.2"/><circle cy="675" r="7.2"/><circle cy="660" r="7.2"/><circle cy="598" r="7.1"/><circle cy="622" r="7.1"/><circle cy="676" r="7.1"/><circle cy="685" r="7.0"/><circle cy="557" r="6.9"/><circle cy="619" r="6.9"/><circle cy="590" r="6.9"/><circle cy="583" r="6.9"/><circle cy="659" r="6.9"/><circle cy="541" r="6.8"/><circle cy="616" r="6.8"/><circle cy="539" r="6.7"/><circle cy="533" r="6.7"/><circle cy="651" r="6.7"/><circle cy="596" r="6.7"/><circle cy="542" r="6.7"/><circle cy="668" r="6.6"/><circle cy="611" r="6.6"/><circle cy="548" r="6.6"/><circle cy="551" r="6.4"/><circle cy="613" r="6.3"/><circle cy="643" r="6.3"/><circle cy="617" r="6.2"/><circle cy="589" r="6.2"/><circle cy="572" r="6.2"/><circle cy="546" r="6.1"/><circle cy="672" r="6.1"/><circle cy="541" r="6.1"/><circle cy="628" r="6.1"/><circle cy="573" r="6.0"/><circle cy="531" r="6.0"/><circle cy="503" r="6.0"/><circle cy="511" r="6.0"/><circle cy="580" r="6.0"/><circle cy="535" r="6.0"/><circle cy="607" r="5.9"/><circle cy="583" r="5.8"/><circle cy="594" r="5.8"/><circle cy="643" r="5.8"/><circle cy="549" r="5.7"/><circle cy="659" r="5.7"/><circle cy="547" r="5.7"/><circle cy="613" r="5.7"/><circle cy="670" r="5.6"/><circle cy="584" r="5.5"/><circle cy="605" r="5.5"/><circle cy="671" r="5.4"/><circle cy="618" r="5.4"/><circle cy="568" r="5.4"/><circle cy="589" r="5.4"/><circle cy="553" r="5.4"/><circle cy="553" r="5.3"/><circle cy="620" r="5.3"/><circle cy="649" r="5.3"/><circle cy="616" r="5.3"/><circle cy="631" r="5.2"/><circle cy="638" r="5.2"/><circle cy="652" r="5.2"/><circle cy="586" r="5.1"/><circle cy="640" r="5.1"/><circle cy="655" r="5.1"/><circle cy="531" r="5.1"/><circle cy="662" r="5.1"/><circle cy="431" r="5.0"/><circle cy="494" r="5.0"/><circle cy="570" r="4.9"/><circle cy="583" r="4.9"/><circle cy="598" r="4.9"/><circle cy="664" r="4.9"/><circle cy="603" r="4.8"/><circle cy="662" r="4.8"/><circle cy="572" r="4.7"/><circle cy="533" r="4.7"/><circle cy="533" r="4.7"/><circle cy="547" r="4.7"/><circle cy="579" r="4.6"/><circle cy="475" r="4.5"/><circle cy="621" r="4.5"/><circle cy="563" r="4.5"/><circle cy="534" r="4.5"/><circle cy="631" r="4.5"/><circle cy="536" r="4.5"/><circle cy="526" r="4.5"/><circle cy="611" r="4.5"/><circle cy="649" r="4.4"/><circle cy="583" r="4.4"/><circle cy="544" r="4.4"/><circle cy="556" r="4.4"/><circle cy="567" r="4.4"/><circle cy="648" r="4.4"/><circle cy="582" r="4.4"/><circle cy="593" r="4.4"/><circle cy="569" r="4.4"/><circle cy="678" r="4.4"/><circle cy="664" r="4.4"/><circle cy="658" r="4.4"/><circle cy="558" r="4.4"/><circle cy="603" r="4.4"/><circle cy="680" r="4.4"/><circle cy="644" r="4.4"/><circle cy="624" r="4.4"/><circle cy="629" r="4.4"/><circle cy="572" r="4.4"/><circle cy="585" r="4.3"/><circle cy="587" r="4.3"/><circle cy="673" r="4.3"/><circle cy="564" r="4.3"/><circle cy="670" r="4.3"/><circle cy="603" r="4.3"/><circle cy="573" r="4.3"/><circle cy="647" r="4.3"/><circle cy="560" r="4.3"/><circle cy="664" r="4.3"/><circle cy="640" r="4.3"/><circle cy="622" r="4.2"/><circle cy="562" r="4.2"/><circle cy="630" r="4.2"/><circle cy="547" r="4.2"/><circle cy="648" r="4.2"/><circle cy="612" r="4.2"/><circle cy="596" r="4.2"/><circle cy="604" r="4.2"/><circle cy="677" r="4.2"/><circle cy="615" r="4.2"/><circle cy="658" r="4.2"/><circle cy="597" r="4.2"/><circle cy="618" r="4.1"/><circle cy="544" r="4.1"/><circle cy="664" r="4.1"/><circle cy="535" r="4.1"/><circle cy="561" r="4.1"/><circle cy="541" r="4.1"/><circle cy="635" r="4.1"/><circle cy="677" r="4.1"/><circle cy="624" r="4.1"/><circle cy="529" r="4.1"/><circle cy="615" r="4.1"/><circle cy="659" r="4.1"/><circle cy="669" r="4.1"/><circle cy="659" r="4.1"/><circle cy="554" r="4.1"/><circle cy="531" r="4.1"/><circle cy="535" r="4.1"/><circle cy="610" r="4.1"/><circle cy="684" r="4.0"/><circle cy="550" r="4.0"/><circle cy="585" r="4.0"/><circle cy="565" r="4.0"/><circle cy="528" r="4.0"/><circle cy="670" r="4.0"/><circle cy="622" r="4.0"/><circle cy="601" r="4.0"/><circle cy="612" r="4.0"/><circle cy="492" r="4.0"/><circle cy="636" r="4.0"/><circle cy="500" r="4.0"/><circle cy="655" r="4.0"/><circle cy="600" r="4.0"/><circle cy="477" r="4.0"/><circle cy="633" r="3.9"/><circle cy="579" r="3.9"/><circle cy="602" r="3.9"/><circle cy="598" r="3.9"/><circle cy="594" r="3.9"/><circle cy="613" r="3.9"/><circle cy="678" r="3.9"/><circle cy="634" r="3.9"/><circle cy="495" r="3.8"/><circle cy="571" r="3.8"/><circle cy="629" r="3.8"/><circle cy="532" r="3.8"/><circle cy="664" r="3.8"/><circle cy="608" r="3.8"/><circle cy="605" r="3.8"/><circle cy="621" r="3.8"/><circle cy="583" r="3.8"/><circle cy="601" r="3.8"/><circle cy="550" r="3.8"/><circle cy="612" r="3.8"/><circle cy="660" r="3.8"/><circle cy="634" r="3.8"/><circle cy="525" r="3.8"/><circle cy="593" r="3.8"/><circle cy="624" r="3.7"/><circle cy="648" r="3.7"/><circle cy="567" r="3.7"/><circle cy="550" r="3.7"/><circle cy="597" r="3.7"/><circle cy="530" r="3.7"/><circle cy="630" r="3.7"/><circle cy="611" r="3.7"/><circle cy="529" r="3.7"/><circle cy="613" r="3.7"/><circle cy="561" r="3.6"/><circle cy="604" r="3.6"/><circle cy="599" r="3.6"/><circle cy="604" r="3.6"/><circle cy="571" r="3.6"/><circle cy="582" r="3.6"/><circle cy="525" r="3.6"/><circle cy="552" r="3.6"/><circle cy="656" r="3.6"/><circle cy="625" r="3.6"/><circle cy="621" r="3.6"/><circle cy="545" r="3.6"/><circle cy="675" r="3.6"/><circle cy="542" r="3.6"/><circle cy="607" r="3.6"/><circle cy="588" r="3.5"/><circle cy="578" r="3.5"/><circle cy="660" r="3.5"/><circle cy="583" r="3.5"/><circle cy="579" r="3.5"/><circle cy="591" r="3.5"/><circle cy="604" r="3.5"/><circle cy="579" r="3.5"/><circle cy="534" r="3.5"/><circle cy="595" r="3.5"/><circle cy="629" r="3.5"/><circle cy="536" r="3.5"/><circle cy="611" r="3.5"/><circle cy="623" r="3.5"/><circle cy="536" r="3.5"/><circle cy="605" r="3.5"/><circle cy="622" r="3.5"/><circle cy="538" r="3.4"/><circle cy="655" r="3.4"/><circle cy="538" r="3.4"/><circle cy="553" r="3.4"/><circle cy="681" r="3.4"/><circle cy="533" r="3.4"/><circle cy="496" r="3.4"/><circle cy="595" r="3.4"/><circle cy="571" r="3.4"/><circle cy="633" r="3.4"/><circle cy="663" r="3.4"/><circle cy="504" r="3.4"/><circle cy="595" r="3.4"/><circle cy="640" r="3.4"/><circle cy="539" r="3.3"/><circle cy="609" r="3.3"/><circle cy="524" r="3.3"/><circle cy="624" r="3.3"/><circle cy="614" r="3.3"/><circle cy="540" r="3.3"/><circle cy="598" r="3.2"/><circle cy="576" r="3.2"/><circle cy="562" r="3.2"/><circle cy="564" r="3.2"/><circle cy="685" r="3.2"/><circle cy="553" r="3.2"/><circle cy="667" r="3.2"/><circle cy="674" r="3.2"/><circle cy="607" r="3.2"/><circle cy="663" r="3.2"/><circle cy="526" r="3.2"/><circle cy="644" r="3.2"/><circle cy="491" r="3.2"/><circle cy="592" r="3.2"/><circle cy="576" r="3.2"/><circle cy="673" r="3.2"/><circle cy="678" r="3.2"/><circle cy="581" r="3.1"/><circle cy="574" r="3.1"/><circle cy="568" r="3.1"/><circle cy="515" r="3.1"/><circle cy="676" r="3.1"/><circle cy="605" r="3.1"/><circle cy="569" r="3.1"/><circle cy="560" r="3.1"/><circle cy="632" r="3.1"/><circle cy="509" r="3.1"/><circle cy="657" r="3.1"/><circle cy="525" r="3.1"/><circle cy="553" r="3.1"/><circle cy="652" r="3.1"/><circle cy="530" r="3.1"/><circle cy="611" r="3.0"/><circle cy="540" r="3.0"/><circle cy="564" r="3.0"/><circle cy="601" r="3.0"/><circle cy="494" r="3.0"/><circle cy="611" r="3.0"/><circle cy="682" r="3.0"/><circle cy="530" r="3.0"/><circle cy="680" r="3.0"/><circle cy="422" r="3.0"/><circle cy="681" r="3.0"/><circle cy="536" r="3.0"/><circle cy="612" r="3.0"/><circle cy="666" r="3.0"/><circle cy="632" r="2.9"/><circle cy="546" r="2.9"/><circle cy="640" r="2.9"/><circle cy="546" r="2.9"/><circle cy="608" r="2.9"/><circle cy="530" r="2.9"/><circle cy="591" r="2.9"/><circle cy="680" r="2.9"/><circle cy="517" r="2.9"/><circle cy="614" r="2.9"/><circle cy="577" r="2.8"/><circle cy="635" r="2.8"/><circle cy="592" r="2.8"/><circle cy="575" r="2.8"/><circle cy="537" r="2.8"/><circle cy="623" r="2.8"/><circle cy="547" r="2.8"/><circle cy="647" r="2.8"/><circle cy="621" r="2.7"/><circle cy="608" r="2.7"/><circle cy="654" r="2.7"/><circle cy="507" r="2.7"/><circle cy="592" r="2.7"/><circle cy="593" r="2.7"/><circle cy="597" r="2.7"/><circle cy="614" r="2.7"/><circle cy="601" r="2.6"/><circle cy="584" r="2.6"/><circle cy="594" r="2.6"/><circle cy="679" r="2.6"/><circle cy="601" r="2.6"/><circle cy="535" r="2.6"/><circle cy="535" r="2.6"/><circle cy="587" r="2.6"/><circle cy="636" r="2.6"/><circle cy="681" r="2.6"/><circle cy="564" r="2.6"/><circle cy="539" r="2.6"/><circle cy="569" r="2.5"/><circle cy="644" r="2.5"/><circle cy="658" r="2.5"/><circle cy="607" r="2.5"/><circle cy="547" r="2.5"/><circle cy="524" r="2.5"/><circle cy="632" r="2.5"/><circle cy="664" r="2.5"/><circle cy="621" r="2.4"/><circle cy="663" r="2.4"/><circle cy="660" r="2.4"/><circle cy="537" r="2.4"/><circle cy="655" r="2.4"/><circle cy="666" r="2.4"/><circle cy="618" r="2.4"/><circle cy="613" r="2.4"/><circle cy="655" r="2.3"/><circle cy="600" r="2.3"/><circle cy="599" r="2.3"/><circle cy="680" r="2.3"/><circle cy="625" r="2.3"/><circle cy="609" r="2.3"/><circle cy="660" r="2.3"/><circle cy="676" r="2.3"/><circle cy="592" r="2.3"/><circle cy="484" r="2.3"/><circle cy="607" r="2.3"/><circle cy="683" r="2.3"/><circle cy="650" r="2.3"/><circle cy="666" r="2.3"/><circle cy="672" r="2.3"/><circle cy="559" r="2.3"/><circle cy="645" r="2.3"/><circle cy="607" r="2.3"/><circle cy="496" r="2.3"/><circle cy="590" r="2.3"/><circle cy="553" r="2.2"/><circle cy="621" r="2.2"/><circle cy="627" r="2.2"/><circle cy="544" r="2.2"/><circle cy="602" r="2.2"/><circle cy="638" r="2.2"/><circle cy="565" r="2.2"/><circle cy="589" r="2.2"/><circle cy="543" r="2.1"/><circle cy="629" r="2.1"/><circle cy="507" r="2.1"/><circle cy="553" r="2.1"/><circle cy="528" r="2.1"/><circle cy="528" r="2.1"/><circle cy="625" r="2.1"/><circle cy="544" r="2.1"/><circle cy="677" r="2.1"/><circle cy="568" r="2.1"/><circle cy="552" r="2.1"/><circle cy="646" r="2.1"/><circle cy="553" r="2.0"/><circle cy="578" r="2.0"/><circle cy="573" r="2.0"/><circle cy="637" r="2.0"/><circle cy="490" r="2.0"/><circle cy="661" r="2.0"/><circle cy="483" r="2.0"/><circle cy="562" r="2.0"/><circle cy="639" r="2.0"/><circle cy="574" r="2.0"/><circle cy="583" r="2.0"/><circle cy="664" r="2.0"/><circle cy="602" r="2.0"/><circle cy="648" r="2.0"/><circle cy="496" r="2.0"/><circle cy="663" r="2.0"/><circle cy="606" r="1.9"/><circle cy="565" r="1.9"/><circle cy="635" r="1.9"/><circle cy="666" r="1.9"/><circle cy="669" r="1.9"/><circle cy="607" r="1.9"/><circle cy="623" r="1.9"/><circle cy="684" r="1.9"/><circle cy="654" r="1.9"/><circle cy="581" r="1.9"/><circle cy="667" r="1.9"/><circle cy="540" r="1.9"/><circle cy="558" r="1.9"/><circle cy="559" r="1.8"/><circle cy="608" r="1.8"/><circle cy="601" r="1.8"/><circle cy="546" r="1.8"/><circle cy="654" r="1.8"/><circle cy="503" r="1.8"/><circle cy="564" r="1.8"/><circle cy="598" r="1.8"/><circle cy="618" r="1.8"/><circle cy="662" r="1.8"/><circle cy="612" r="1.8"/><circle cy="582" r="1.8"/><circle cy="669" r="1.8"/><circle cy="599" r="1.8"/><circle cy="527" r="1.8"/><circle cy="600" r="1.8"/><circle cy="603" r="1.7"/><circle cy="680" r="1.7"/><circle cy="586" r="1.7"/><circle cy="671" r="1.7"/><circle cy="666" r="1.7"/><circle cy="618" r="1.7"/><circle cy="627" r="1.7"/><circle cy="556" r="1.7"/><circle cy="615" r="1.7"/><circle cy="591" r="1.7"/><circle cy="576" r="1.7"/><circle cy="677" r="1.7"/><circle cy="663" r="1.7"/><circle cy="566" r="1.7"/><circle cy="667" r="1.7"/><circle cy="536" r="1.6"/><circle cy="630" r="1.6"/><circle cy="542" r="1.6"/><circle cy="688" r="1.6"/><circle cy="681" r="1.6"/><circle cy="597" r="1.6"/><circle cy="535" r="1.6"/><circle cy="628" r="1.6"/><circle cy="664" r="1.6"/><circle cy="580" r="1.6"/><circle cy="549" r="1.6"/><circle cy="606" r="1.6"/><circle cy="599" r="1.5"/><circle cy="682" r="1.5"/><circle cy="523" r="1.5"/><circle cy="581" r="1.5"/><circle cy="390" r="1.5"/><circle cy="136" r="1.2"/><circle cy="318" r="1.2"/><circle cy="413" r="1.2"/></g><g transform="translate(1015.5 0)"><circle cy="598" r="15.8"/><circle cy="629" r="15.8"/><circle cy="626" r="15.8"/><circle cy="633" r="15.5"/><circle cy="611" r="15.5"/><circle cy="606" r="15.4"/><circle cy="586" r="15.4"/><circle cy="642" r="15.4"/><circle cy="639" r="15.2"/><circle cy="601" r="15.2"/><circle cy="665" r="15.0"/><circle cy="638" r="15.0"/><circle cy="654" r="15.0"/><circle cy="637" r="14.7"/><circle cy="653" r="14.6"/><circle cy="623" r="14.4"/><circle cy="589" r="14.4"/><circle cy="604" r="14.4"/><circle cy="589" r="14.2"/><circle cy="539" r="14.0"/><circle cy="674" r="14.0"/><circle cy="602" r="13.9"/><circle cy="637" r="13.9"/><circle cy="622" r="13.6"/><circle cy="601" r="13.6"/><circle cy="598" r="13.5"/><circle cy="585" r="13.3"/><circle cy="658" r="13.3"/><circle cy="622" r="13.0"/><circle cy="552" r="13.0"/><circle cy="618" r="12.9"/><circle cy="627" r="12.3"/><circle cy="654" r="12.3"/><circle cy="662" r="12.3"/><circle cy="652" r="12.3"/><circle cy="598" r="12.0"/><circle cy="671" r="12.0"/><circle cy="541" r="12.0"/><circle cy="652" r="11.4"/><circle cy="650" r="11.2"/><circle cy="663" r="11.0"/><circle cy="617" r="11.0"/><circle cy="601" r="11.0"/><circle cy="463" r="10.0"/><circle cy="638" r="9.5"/><circle cy="592" r="9.5"/><circle cy="626" r="9.5"/><circle cy="575" r="9.4"/><circle cy="640" r="9.3"/><circle cy="576" r="9.3"/><circle cy="629" r="9.3"/><circle cy="629" r="9.1"/><circle cy="576" r="9.1"/><circle cy="573" r="9.1"/><circle cy="668" r="9.0"/><circle cy="598" r="8.9"/><circle cy="658" r="8.9"/><circle cy="589" r="8.9"/><circle cy="573" r="8.9"/><circle cy="633" r="8.9"/><circle cy="615" r="8.8"/><circle cy="563" r="8.8"/><circle cy="627" r="8.8"/><circle cy="665" r="8.8"/><circle cy="635" r="8.7"/><circle cy="570" r="8.7"/><circle cy="644" r="8.6"/><circle cy="567" r="8.5"/><circle cy="640" r="8.5"/><circle cy="569" r="8.4"/><circle cy="650" r="8.4"/><circle cy="593" r="8.4"/><circle cy="595" r="8.4"/><circle cy="590" r="8.3"/><circle cy="618" r="8.3"/><circle cy="633" r="8.3"/><circle cy="615" r="8.3"/><circle cy="632" r="8.3"/><circle cy="577" r="8.2"/><circle cy="580" r="8.2"/><circle cy="617" r="8.2"/><circle cy="563" r="8.1"/><circle cy="654" r="8.1"/><circle cy="645" r="8.1"/><circle cy="565" r="8.0"/><circle cy="614" r="8.0"/><circle cy="614" r="8.0"/><circle cy="581" r="8.0"/><circle cy="633" r="8.0"/><circle cy="593" r="7.9"/><circle cy="574" r="7.8"/><circle cy="626" r="7.8"/><circle cy="594" r="7.8"/><circle cy="575" r="7.7"/><circle cy="579" r="7.7"/><circle cy="583" r="7.7"/><circle cy="591" r="7.6"/><circle cy="635" r="7.5"/><circle cy="664" r="7.5"/><circle cy="645" r="7.3"/><circle cy="566" r="7.3"/><circle cy="612" r="7.2"/><circle cy="634" r="7.2"/><circle cy="609" r="7.2"/><circle cy="572" r="7.1"/><circle cy="563" r="7.0"/><circle cy="603" r="7.0"/><circle cy="520" r="7.0"/><circle cy="623" r="7.0"/><circle cy="565" r="6.9"/><circle cy="655" r="6.9"/><circle cy="630" r="6.9"/><circle cy="643" r="6.8"/><circle cy="634" r="6.8"/><circle cy="622" r="6.8"/><circle cy="558" r="6.8"/><circle cy="590" r="6.7"/><circle cy="560" r="6.7"/><circle cy="581" r="6.6"/><circle cy="639" r="6.6"/><circle cy="572" r="6.5"/><circle cy="596" r="6.3"/><circle cy="584" r="6.3"/><circle cy="608" r="6.2"/><circle cy="667" r="6.1"/><circle cy="656" r="6.1"/><circle cy="636" r="6.0"/><circle cy="557" r="6.0"/><circle cy="432" r="6.0"/><circle cy="659" r="6.0"/><circle cy="570" r="5.9"/><circle cy="640" r="5.8"/><circle cy="630" r="5.7"/><circle cy="618" r="5.7"/><circle cy="596" r="5.7"/><circle cy="604" r="5.7"/><circle cy="586" r="5.6"/><circle cy="604" r="5.6"/><circle cy="580" r="5.5"/><circle cy="615" r="5.5"/><circle cy="577" r="5.5"/><circle cy="625" r="5.5"/><circle cy="665" r="5.4"/><circle cy="643" r="5.4"/><circle cy="610" r="5.4"/><circle cy="666" r="5.4"/><circle cy="610" r="5.3"/><circle cy="661" r="5.2"/><circle cy="556" r="5.2"/><circle cy="595" r="5.1"/><circle cy="560" r="5.1"/><circle cy="670" r="5.0"/><circle cy="342" r="5.0"/><circle cy="498" r="5.0"/><circle cy="668" r="5.0"/><circle cy="583" r="5.0"/><circle cy="610" r="5.0"/><circle cy="662" r="5.0"/><circle cy="639" r="4.9"/><circle cy="632" r="4.8"/><circle cy="649" r="4.8"/><circle cy="599" r="4.8"/><circle cy="631" r="4.7"/><circle cy="593" r="4.7"/><circle cy="585" r="4.7"/><circle cy="654" r="4.6"/><circle cy="651" r="4.6"/><circle cy="648" r="4.6"/><circle cy="630" r="4.5"/><circle cy="476" r="4.5"/><circle cy="569" r="4.5"/><circle cy="555" r="4.5"/><circle cy="639" r="4.5"/><circle cy="567" r="4.5"/><circle cy="594" r="4.5"/><circle cy="588" r="4.5"/><circle cy="598" r="4.5"/><circle cy="599" r="4.5"/><circle cy="565" r="4.4"/><circle cy="608" r="4.4"/><circle cy="577" r="4.4"/><circle cy="597" r="4.4"/><circle cy="637" r="4.4"/><circle cy="643" r="4.4"/><circle cy="581" r="4.4"/><circle cy="595" r="4.4"/><circle cy="671" r="4.4"/><circle cy="671" r="4.4"/><circle cy="625" r="4.4"/><circle cy="621" r="4.4"/><circle cy="668" r="4.4"/><circle cy="665" r="4.4"/><circle cy="584" r="4.4"/><circle cy="667" r="4.4"/><circle cy="556" r="4.3"/><circle cy="625" r="4.3"/><circle cy="610" r="4.3"/><circle cy="658" r="4.3"/><circle cy="605" r="4.3"/><circle cy="646" r="4.3"/><circle cy="571" r="4.3"/><circle cy="592" r="4.3"/><circle cy="593" r="4.3"/><circle cy="632" r="4.3"/><circle cy="551" r="4.3"/><circle cy="584" r="4.3"/><circle cy="557" r="4.3"/><circle cy="627" r="4.3"/><circle cy="668" r="4.3"/><circle cy="666" r="4.3"/><circle cy="566" r="4.2"/><circle cy="571" r="4.2"/><circle cy="661" r="4.2"/><circle cy="619" r="4.2"/><circle cy="609" r="4.2"/><circle cy="636" r="4.2"/><circle cy="594" r="4.2"/><circle cy="661" r="4.2"/><circle cy="615" r="4.2"/><circle cy="621" r="4.2"/><circle cy="597" r="4.2"/><circle cy="671" r="4.2"/><circle cy="558" r="4.2"/><circle cy="660" r="4.2"/><circle cy="653" r="4.1"/><circle cy="554" r="4.1"/><circle cy="561" r="4.1"/><circle cy="626" r="4.1"/><circle cy="619" r="4.1"/><circle cy="559" r="4.1"/><circle cy="559" r="4.1"/><circle cy="553" r="4.1"/><circle cy="599" r="4.1"/><circle cy="659" r="4.1"/><circle cy="629" r="4.1"/><circle cy="653" r="4.1"/><circle cy="578" r="4.1"/><circle cy="564" r="4.0"/><circle cy="618" r="4.0"/><circle cy="633" r="4.0"/><circle cy="489" r="4.0"/><circle cy="644" r="4.0"/><circle cy="605" r="4.0"/><circle cy="669" r="4.0"/><circle cy="641" r="3.9"/><circle cy="648" r="3.9"/><circle cy="563" r="3.9"/><circle cy="555" r="3.9"/><circle cy="611" r="3.9"/><circle cy="591" r="3.9"/><circle cy="670" r="3.9"/><circle cy="619" r="3.9"/><circle cy="611" r="3.8"/><circle cy="630" r="3.8"/><circle cy="660" r="3.8"/><circle cy="563" r="3.8"/><circle cy="568" r="3.8"/><circle cy="615" r="3.8"/><circle cy="597" r="3.8"/><circle cy="658" r="3.8"/><circle cy="542" r="3.8"/><circle cy="557" r="3.8"/><circle cy="655" r="3.8"/><circle cy="598" r="3.8"/><circle cy="608" r="3.8"/><circle cy="627" r="3.8"/><circle cy="651" r="3.7"/><circle cy="603" r="3.7"/><circle cy="660" r="3.7"/><circle cy="624" r="3.7"/><circle cy="647" r="3.7"/><circle cy="605" r="3.7"/><circle cy="643" r="3.7"/><circle cy="594" r="3.7"/><circle cy="586" r="3.7"/><circle cy="551" r="3.7"/><circle cy="649" r="3.7"/><circle cy="641" r="3.7"/><circle cy="597" r="3.7"/><circle cy="621" r="3.7"/><circle cy="674" r="3.7"/><circle cy="653" r="3.7"/><circle cy="565" r="3.7"/><circle cy="576" r="3.7"/><circle cy="589" r="3.7"/><circle cy="643" r="3.7"/><circle cy="636" r="3.7"/><circle cy="605" r="3.6"/><circle cy="666" r="3.6"/><circle cy="525" r="3.6"/><circle cy="640" r="3.6"/><circle cy="653" r="3.6"/><circle cy="511" r="3.6"/><circle cy="618" r="3.6"/><circle cy="627" r="3.6"/><circle cy="507" r="3.6"/><circle cy="614" r="3.6"/><circle cy="646" r="3.6"/><circle cy="664" r="3.5"/><circle cy="662" r="3.5"/><circle cy="595" r="3.5"/><circle cy="660" r="3.5"/><circle cy="633" r="3.5"/><circle cy="604" r="3.5"/><circle cy="567" r="3.5"/><circle cy="581" r="3.5"/><circle cy="644" r="3.5"/><circle cy="613" r="3.5"/><circle cy="592" r="3.5"/><circle cy="549" r="3.5"/><circle cy="653" r="3.4"/><circle cy="674" r="3.4"/><circle cy="586" r="3.4"/><circle cy="667" r="3.4"/><circle cy="663" r="3.4"/><circle cy="593" r="3.4"/><circle cy="528" r="3.4"/><circle cy="665" r="3.4"/><circle cy="672" r="3.4"/><circle cy="504" r="3.4"/><circle cy="507" r="3.4"/><circle cy="600" r="3.4"/><circle cy="595" r="3.4"/><circle cy="551" r="3.4"/><circle cy="600" r="3.3"/><circle cy="655" r="3.3"/><circle cy="635" r="3.3"/><circle cy="581" r="3.3"/><circle cy="529" r="3.3"/><circle cy="619" r="3.3"/><circle cy="550" r="3.3"/><circle cy="671" r="3.3"/><circle cy="518" r="3.3"/><circle cy="614" r="3.3"/><circle cy="606" r="3.3"/><circle cy="610" r="3.2"/><circle cy="624" r="3.2"/><circle cy="635" r="3.2"/><circle cy="521" r="3.2"/><circle cy="653" r="3.2"/><circle cy="644" r="3.2"/><circle cy="639" r="3.2"/><circle cy="669" r="3.2"/><circle cy="670" r="3.2"/><circle cy="663" r="3.1"/><circle cy="673" r="3.1"/><circle cy="593" r="3.1"/><circle cy="655" r="3.1"/><circle cy="557" r="3.1"/><circle cy="597" r="3.1"/><circle cy="585" r="3.1"/><circle cy="514" r="3.1"/><circle cy="527" r="3.1"/><circle cy="620" r="3.1"/><circle cy="549" r="3.1"/><circle cy="552" r="3.1"/><circle cy="647" r="3.1"/><circle cy="577" r="3.1"/><circle cy="569" r="3.1"/><circle cy="517" r="3.0"/><circle cy="649" r="3.0"/><circle cy="644" r="3.0"/><circle cy="641" r="3.0"/><circle cy="613" r="3.0"/><circle cy="611" r="3.0"/><circle cy="606" r="3.0"/><circle cy="560" r="3.0"/><circle cy="646" r="3.0"/><circle cy="566" r="3.0"/><circle cy="645" r="3.0"/><circle cy="655" r="3.0"/><circle cy="644" r="3.0"/><circle cy="576" r="2.9"/><circle cy="595" r="2.9"/><circle cy="619" r="2.9"/><circle cy="610" r="2.9"/><circle cy="526" r="2.9"/><circle cy="673" r="2.9"/><circle cy="655" r="2.9"/><circle cy="611" r="2.9"/><circle cy="629" r="2.8"/><circle cy="584" r="2.8"/><circle cy="605" r="2.8"/><circle cy="615" r="2.8"/><circle cy="583" r="2.8"/><circle cy="625" r="2.8"/><circle cy="593" r="2.8"/><circle cy="604" r="2.8"/><circle cy="632" r="2.8"/><circle cy="650" r="2.8"/><circle cy="549" r="2.8"/><circle cy="563" r="2.8"/><circle cy="630" r="2.8"/><circle cy="633" r="2.8"/><circle cy="607" r="2.8"/><circle cy="551" r="2.7"/><circle cy="656" r="2.7"/><circle cy="611" r="2.7"/><circle cy="559" r="2.7"/><circle cy="661" r="2.7"/><circle cy="524" r="2.7"/><circle cy="657" r="2.7"/><circle cy="631" r="2.7"/><circle cy="569" r="2.7"/><circle cy="621" r="2.7"/><circle cy="611" r="2.6"/><circle cy="639" r="2.6"/><circle cy="593" r="2.6"/><circle cy="620" r="2.6"/><circle cy="615" r="2.6"/><circle cy="662" r="2.6"/><circle cy="634" r="2.6"/><circle cy="552" r="2.6"/><circle cy="669" r="2.6"/><circle cy="577" r="2.6"/><circle cy="615" r="2.6"/><circle cy="591" r="2.6"/><circle cy="610" r="2.6"/><circle cy="641" r="2.6"/><circle cy="601" r="2.6"/><circle cy="648" r="2.6"/><circle cy="621" r="2.6"/><circle cy="548" r="2.6"/><circle cy="614" r="2.6"/><circle cy="625" r="2.5"/><circle cy="656" r="2.5"/><circle cy="601" r="2.5"/><circle cy="631" r="2.5"/><circle cy="666" r="2.5"/><circle cy="675" r="2.5"/><circle cy="598" r="2.5"/><circle cy="647" r="2.5"/><circle cy="675" r="2.5"/><circle cy="651" r="2.5"/><circle cy="581" r="2.5"/><circle cy="548" r="2.5"/><circle cy="665" r="2.5"/><circle cy="633" r="2.4"/><circle cy="654" r="2.4"/><circle cy="640" r="2.4"/><circle cy="580" r="2.4"/><circle cy="656" r="2.4"/><circle cy="615" r="2.4"/><circle cy="639" r="2.4"/><circle cy="622" r="2.4"/><circle cy="595" r="2.4"/><circle cy="548" r="2.3"/><circle cy="570" r="2.3"/><circle cy="620" r="2.3"/><circle cy="584" r="2.3"/><circle cy="615" r="2.3"/><circle cy="649" r="2.3"/><circle cy="581" r="2.3"/><circle cy="620" r="2.2"/><circle cy="575" r="2.2"/><circle cy="569" r="2.2"/><circle cy="549" r="2.2"/><circle cy="557" r="2.2"/><circle cy="587" r="2.2"/><circle cy="675" r="2.2"/><circle cy="601" r="2.2"/><circle cy="579" r="2.2"/><circle cy="548" r="2.1"/><circle cy="566" r="2.1"/><circle cy="580" r="2.1"/><circle cy="627" r="2.1"/><circle cy="649" r="2.1"/><circle cy="609" r="2.1"/><circle cy="628" r="2.1"/><circle cy="559" r="2.1"/><circle cy="548" r="2.1"/><circle cy="617" r="2.1"/><circle cy="511" r="2.1"/><circle cy="557" r="2.0"/><circle cy="620" r="2.0"/><circle cy="592" r="2.0"/><circle cy="610" r="2.0"/><circle cy="673" r="2.0"/><circle cy="517" r="1.9"/><circle cy="665" r="1.9"/><circle cy="568" r="1.9"/><circle cy="603" r="1.9"/><circle cy="676" r="1.9"/><circle cy="603" r="1.9"/><circle cy="626" r="1.9"/><circle cy="656" r="1.9"/><circle cy="606" r="1.9"/><circle cy="584" r="1.9"/><circle cy="614" r="1.9"/><circle cy="557" r="1.9"/><circle cy="619" r="1.9"/><circle cy="578" r="1.9"/><circle cy="662" r="1.9"/><circle cy="516" r="1.9"/><circle cy="653" r="1.8"/><circle cy="621" r="1.8"/><circle cy="587" r="1.8"/><circle cy="634" r="1.8"/><circle cy="644" r="1.8"/><circle cy="666" r="1.8"/><circle cy="634" r="1.8"/><circle cy="674" r="1.8"/><circle cy="601" r="1.8"/><circle cy="647" r="1.8"/><circle cy="632" r="1.8"/><circle cy="614" r="1.7"/><circle cy="550" r="1.7"/><circle cy="667" r="1.7"/><circle cy="666" r="1.7"/><circle cy="570" r="1.7"/><circle cy="675" r="1.7"/><circle cy="628" r="1.7"/><circle cy="625" r="1.7"/><circle cy="617" r="1.7"/><circle cy="582" r="1.7"/><circle cy="622" r="1.6"/><circle cy="629" r="1.6"/><circle cy="560" r="1.6"/><circle cy="672" r="1.6"/><circle cy="617" r="1.6"/><circle cy="579" r="1.6"/><circle cy="564" r="1.6"/><circle cy="577" r="1.6"/><circle cy="619" r="1.6"/><circle cy="563" r="1.6"/><circle cy="572" r="1.5"/><circle cy="639" r="1.5"/><circle cy="628" r="1.5"/><circle cy="672" r="1.5"/><circle cy="615" r="1.5"/><circle cy="601" r="1.5"/></g><g transform="translate(1090.8 0)"><circle cy="589" r="16.0"/><circle cy="654" r="15.7"/><circle cy="665" r="15.5"/><circle cy="624" r="15.4"/><circle cy="642" r="15.3"/><circle cy="630" r="15.0"/><circle cy="609" r="14.9"/><circle cy="656" r="14.7"/><circle cy="656" r="14.6"/><circle cy="662" r="14.5"/><circle cy="651" r="14.2"/><circle cy="669" r="14.1"/><circle cy="571" r="14.0"/><circle cy="688" r="14.0"/><circle cy="603" r="14.0"/><circle cy="644" r="13.7"/><circle cy="634" r="13.7"/><circle cy="644" r="13.7"/><circle cy="618" r="13.6"/><circle cy="661" r="13.6"/><circle cy="627" r="13.5"/><circle cy="613" r="13.4"/><circle cy="660" r="13.3"/><circle cy="599" r="13.3"/><circle cy="673" r="13.3"/><circle cy="614" r="13.3"/><circle cy="662" r="13.3"/><circle cy="611" r="13.2"/><circle cy="676" r="13.1"/><circle cy="624" r="12.5"/><circle cy="636" r="12.5"/><circle cy="617" r="12.3"/><circle cy="638" r="12.3"/><circle cy="616" r="12.1"/><circle cy="599" r="12.1"/><circle cy="665" r="12.0"/><circle cy="635" r="11.8"/><circle cy="649" r="11.8"/><circle cy="657" r="11.8"/><circle cy="629" r="11.8"/><circle cy="611" r="11.7"/><circle cy="653" r="11.5"/><circle cy="601" r="11.5"/><circle cy="629" r="11.5"/><circle cy="642" r="11.4"/><circle cy="624" r="11.3"/><circle cy="653" r="11.3"/><circle cy="663" r="11.1"/><circle cy="550" r="11.0"/><circle cy="694" r="10.0"/><circle cy="694" r="10.0"/><circle cy="620" r="9.5"/><circle cy="582" r="9.5"/><circle cy="671" r="9.4"/><circle cy="667" r="9.4"/><circle cy="675" r="9.3"/><circle cy="637" r="9.3"/><circle cy="667" r="9.2"/><circle cy="598" r="9.2"/><circle cy="590" r="9.1"/><circle cy="617" r="9.1"/><circle cy="610" r="9.1"/><circle cy="596" r="9.0"/><circle cy="551" r="9.0"/><circle cy="679" r="9.0"/><circle cy="610" r="9.0"/><circle cy="584" r="9.0"/><circle cy="586" r="8.9"/><circle cy="601" r="8.9"/><circle cy="664" r="8.9"/><circle cy="611" r="8.9"/><circle cy="646" r="8.9"/><circle cy="594" r="8.9"/><circle cy="584" r="8.8"/><circle cy="611" r="8.8"/><circle cy="662" r="8.8"/><circle cy="617" r="8.7"/><circle cy="679" r="8.7"/><circle cy="589" r="8.6"/><circle cy="654" r="8.6"/><circle cy="641" r="8.6"/><circle cy="673" r="8.5"/><circle cy="619" r="8.5"/><circle cy="605" r="8.4"/><circle cy="621" r="8.4"/><circle cy="661" r="8.4"/><circle cy="626" r="8.4"/><circle cy="634" r="8.4"/><circle cy="639" r="8.3"/><circle cy="649" r="8.3"/><circle cy="616" r="8.3"/><circle cy="606" r="8.2"/><circle cy="598" r="8.2"/><circle cy="627" r="8.2"/><circle cy="630" r="8.1"/><circle cy="604" r="8.1"/><circle cy="634" r="8.1"/><circle cy="675" r="8.1"/><circle cy="622" r="8.0"/><circle cy="600" r="8.0"/><circle cy="636" r="8.0"/><circle cy="671" r="8.0"/><circle cy="623" r="7.9"/><circle cy="620" r="7.9"/><circle cy="667" r="7.9"/><circle cy="636" r="7.9"/><circle cy="586" r="7.8"/><circle cy="652" r="7.8"/><circle cy="625" r="7.8"/><circle cy="622" r="7.8"/><circle cy="656" r="7.8"/><circle cy="644" r="7.8"/><circle cy="595" r="7.8"/><circle cy="587" r="7.8"/><circle cy="587" r="7.7"/><circle cy="679" r="7.6"/><circle cy="580" r="7.6"/><circle cy="590" r="7.6"/><circle cy="613" r="7.5"/><circle cy="644" r="7.5"/><circle cy="662" r="7.4"/><circle cy="618" r="7.4"/><circle cy="585" r="7.3"/><circle cy="666" r="7.3"/><circle cy="619" r="7.3"/><circle cy="582" r="7.1"/><circle cy="675" r="7.1"/><circle cy="639" r="7.1"/><circle cy="641" r="7.0"/><circle cy="691" r="7.0"/><circle cy="664" r="6.9"/><circle cy="592" r="6.9"/><circle cy="675" r="6.8"/><circle cy="630" r="6.6"/><circle cy="587" r="6.6"/><circle cy="638" r="6.5"/><circle cy="591" r="6.5"/><circle cy="607" r="6.5"/><circle cy="582" r="6.5"/><circle cy="633" r="6.5"/><circle cy="630" r="6.4"/><circle cy="577" r="6.4"/><circle cy="680" r="6.4"/><circle cy="640" r="6.4"/><circle cy="679" r="6.3"/><circle cy="681" r="6.3"/><circle cy="620" r="6.2"/><circle cy="681" r="6.2"/><circle cy="663" r="6.1"/><circle cy="619" r="6.1"/><circle cy="647" r="6.1"/><circle cy="651" r="6.0"/><circle cy="654" r="6.0"/><circle cy="594" r="6.0"/><circle cy="453" r="6.0"/><circle cy="491" r="6.0"/><circle cy="533" r="6.0"/><circle cy="679" r="5.9"/><circle cy="641" r="5.9"/><circle cy="578" r="5.8"/><circle cy="632" r="5.8"/><circle cy="631" r="5.7"/><circle cy="584" r="5.7"/><circle cy="656" r="5.7"/><circle cy="676" r="5.7"/><circle cy="671" r="5.7"/><circle cy="677" r="5.6"/><circle cy="670" r="5.6"/><circle cy="665" r="5.6"/><circle cy="627" r="5.5"/><circle cy="581" r="5.5"/><circle cy="579" r="5.4"/><circle cy="649" r="5.3"/><circle cy="611" r="5.3"/><circle cy="577" r="5.2"/><circle cy="590" r="5.1"/><circle cy="643" r="5.1"/><circle cy="656" r="5.1"/><circle cy="585" r="5.1"/><circle cy="626" r="5.0"/><circle cy="621" r="5.0"/><circle cy="625" r="5.0"/><circle cy="606" r="4.9"/><circle cy="644" r="4.9"/><circle cy="667" r="4.9"/><circle cy="658" r="4.8"/><circle cy="639" r="4.7"/><circle cy="648" r="4.7"/><circle cy="672" r="4.7"/><circle cy="677" r="4.7"/><circle cy="611" r="4.7"/><circle cy="646" r="4.6"/><circle cy="666" r="4.6"/><circle cy="667" r="4.6"/><circle cy="614" r="4.6"/><circle cy="640" r="4.5"/><circle cy="386" r="4.5"/><circle cy="512" r="4.5"/><circle cy="610" r="4.5"/><circle cy="611" r="4.5"/><circle cy="577" r="4.5"/><circle cy="610" r="4.5"/><circle cy="645" r="4.5"/><circle cy="622" r="4.5"/><circle cy="583" r="4.5"/><circle cy="573" r="4.4"/><circle cy="665" r="4.4"/><circle cy="607" r="4.4"/><circle cy="657" r="4.4"/><circle cy="584" r="4.4"/><circle cy="665" r="4.4"/><circle cy="636" r="4.4"/><circle cy="634" r="4.4"/><circle cy="596" r="4.4"/><circle cy="675" r="4.4"/><circle cy="680" r="4.4"/><circle cy="684" r="4.4"/><circle cy="681" r="4.4"/><circle cy="634" r="4.4"/><circle cy="583" r="4.4"/><circle cy="637" r="4.4"/><circle cy="684" r="4.3"/><circle cy="576" r="4.3"/><circle cy="580" r="4.3"/><circle cy="665" r="4.3"/><circle cy="682" r="4.3"/><circle cy="651" r="4.3"/><circle cy="639" r="4.3"/><circle cy="600" r="4.3"/><circle cy="590" r="4.3"/><circle cy="651" r="4.3"/><circle cy="648" r="4.3"/><circle cy="588" r="4.3"/><circle cy="637" r="4.3"/><circle cy="615" r="4.3"/><circle cy="621" r="4.3"/><circle cy="614" r="4.2"/><circle cy="598" r="4.2"/><circle cy="665" r="4.2"/><circle cy="583" r="4.2"/><circle cy="648" r="4.2"/><circle cy="579" r="4.2"/><circle cy="603" r="4.2"/><circle cy="584" r="4.2"/><circle cy="667" r="4.2"/><circle cy="619" r="4.2"/><circle cy="610" r="4.2"/><circle cy="578" r="4.2"/><circle cy="589" r="4.2"/><circle cy="608" r="4.2"/><circle cy="605" r="4.1"/><circle cy="640" r="4.1"/><circle cy="583" r="4.1"/><circle cy="647" r="4.1"/><circle cy="666" r="4.1"/><circle cy="580" r="4.1"/><circle cy="590" r="4.1"/><circle cy="593" r="4.1"/><circle cy="620" r="4.1"/><circle cy="605" r="4.1"/><circle cy="582" r="4.1"/><circle cy="614" r="4.1"/><circle cy="614" r="4.1"/><circle cy="619" r="4.1"/><circle cy="644" r="4.1"/><circle cy="651" r="4.0"/><circle cy="609" r="4.0"/><circle cy="625" r="4.0"/><circle cy="525" r="4.0"/><circle cy="607" r="4.0"/><circle cy="645" r="4.0"/><circle cy="640" r="4.0"/><circle cy="635" r="4.0"/><circle cy="637" r="4.0"/><circle cy="679" r="4.0"/><circle cy="633" r="4.0"/><circle cy="676" r="4.0"/><circle cy="622" r="4.0"/><circle cy="663" r="3.9"/><circle cy="620" r="3.9"/><circle cy="601" r="3.9"/><circle cy="633" r="3.9"/><circle cy="637" r="3.9"/><circle cy="674" r="3.9"/><circle cy="600" r="3.9"/><circle cy="627" r="3.8"/><circle cy="601" r="3.8"/><circle cy="599" r="3.8"/><circle cy="649" r="3.8"/><circle cy="677" r="3.8"/><circle cy="637" r="3.8"/><circle cy="625" r="3.8"/><circle cy="632" r="3.8"/><circle cy="655" r="3.8"/><circle cy="674" r="3.8"/><circle cy="622" r="3.8"/><circle cy="616" r="3.8"/><circle cy="631" r="3.7"/><circle cy="630" r="3.7"/><circle cy="628" r="3.7"/><circle cy="592" r="3.7"/><circle cy="634" r="3.7"/><circle cy="650" r="3.7"/><circle cy="564" r="3.7"/><circle cy="650" r="3.7"/><circle cy="677" r="3.7"/><circle cy="585" r="3.7"/><circle cy="676" r="3.7"/><circle cy="615" r="3.7"/><circle cy="685" r="3.7"/><circle cy="628" r="3.7"/><circle cy="634" r="3.6"/><circle cy="589" r="3.6"/><circle cy="604" r="3.6"/><circle cy="676" r="3.6"/><circle cy="597" r="3.6"/><circle cy="636" r="3.6"/><circle cy="604" r="3.6"/><circle cy="579" r="3.6"/><circle cy="591" r="3.6"/><circle cy="667" r="3.6"/><circle cy="652" r="3.6"/><circle cy="614" r="3.6"/><circle cy="659" r="3.6"/><circle cy="637" r="3.6"/><circle cy="676" r="3.6"/><circle cy="585" r="3.6"/><circle cy="633" r="3.5"/><circle cy="602" r="3.5"/><circle cy="592" r="3.5"/><circle cy="597" r="3.5"/><circle cy="604" r="3.5"/><circle cy="667" r="3.5"/><circle cy="587" r="3.5"/><circle cy="644" r="3.5"/><circle cy="572" r="3.5"/><circle cy="667" r="3.5"/><circle cy="573" r="3.5"/><circle cy="606" r="3.4"/><circle cy="599" r="3.4"/><circle cy="645" r="3.4"/><circle cy="584" r="3.4"/><circle cy="529" r="3.4"/><circle cy="618" r="3.4"/><circle cy="552" r="3.4"/><circle cy="581" r="3.4"/><circle cy="673" r="3.4"/><circle cy="634" r="3.4"/><circle cy="587" r="3.4"/><circle cy="615" r="3.3"/><circle cy="660" r="3.3"/><circle cy="619" r="3.3"/><circle cy="681" r="3.3"/><circle cy="634" r="3.3"/><circle cy="620" r="3.3"/><circle cy="678" r="3.3"/><circle cy="683" r="3.3"/><circle cy="632" r="3.3"/><circle cy="661" r="3.3"/><circle cy="649" r="3.3"/><circle cy="581" r="3.2"/><circle cy="620" r="3.2"/><circle cy="606" r="3.2"/><circle cy="531" r="3.2"/><circle cy="643" r="3.2"/><circle cy="597" r="3.2"/><circle cy="652" r="3.2"/><circle cy="608" r="3.2"/><circle cy="598" r="3.2"/><circle cy="636" r="3.2"/><circle cy="677" r="3.2"/><circle cy="567" r="3.2"/><circle cy="587" r="3.2"/><circle cy="661" r="3.2"/><circle cy="655" r="3.2"/><circle cy="634" r="3.2"/><circle cy="596" r="3.2"/><circle cy="546" r="3.1"/><circle cy="640" r="3.1"/><circle cy="614" r="3.1"/><circle cy="602" r="3.1"/><circle cy="646" r="3.1"/><circle cy="675" r="3.1"/><circle cy="612" r="3.1"/><circle cy="627" r="3.1"/><circle cy="599" r="3.1"/><circle cy="661" r="3.1"/><circle cy="641" r="3.1"/><circle cy="681" r="3.1"/><circle cy="624" r="3.0"/><circle cy="683" r="3.0"/><circle cy="605" r="3.0"/><circle cy="239" r="3.0"/><circle cy="456" r="3.0"/><circle cy="707" r="3.0"/><circle cy="707" r="3.0"/><circle cy="616" r="3.0"/><circle cy="588" r="3.0"/><circle cy="547" r="3.0"/><circle cy="654" r="2.9"/><circle cy="593" r="2.9"/><circle cy="600" r="2.9"/><circle cy="662" r="2.9"/><circle cy="613" r="2.9"/><circle cy="664" r="2.9"/><circle cy="605" r="2.9"/><circle cy="673" r="2.9"/><circle cy="595" r="2.9"/><circle cy="634" r="2.9"/><circle cy="590" r="2.8"/><circle cy="674" r="2.8"/><circle cy="574" r="2.8"/><circle cy="673" r="2.8"/><circle cy="574" r="2.8"/><circle cy="614" r="2.8"/><circle cy="625" r="2.8"/><circle cy="629" r="2.8"/><circle cy="589" r="2.8"/><circle cy="679" r="2.8"/><circle cy="589" r="2.8"/><circle cy="597" r="2.8"/><circle cy="634" r="2.8"/><circle cy="668" r="2.8"/><circle cy="622" r="2.8"/><circle cy="668" r="2.8"/><circle cy="670" r="2.8"/><circle cy="588" r="2.7"/><circle cy="578" r="2.7"/><circle cy="662" r="2.7"/><circle cy="644" r="2.7"/><circle cy="681" r="2.7"/><circle cy="653" r="2.7"/><circle cy="660" r="2.7"/><circle cy="578" r="2.7"/><circle cy="633" r="2.7"/><circle cy="617" r="2.7"/><circle cy="658" r="2.7"/><circle cy="611" r="2.7"/><circle cy="645" r="2.7"/><circle cy="588" r="2.7"/><circle cy="636" r="2.7"/><circle cy="682" r="2.7"/><circle cy="573" r="2.6"/><circle cy="636" r="2.6"/><circle cy="634" r="2.6"/><circle cy="571" r="2.6"/><circle cy="602" r="2.6"/><circle cy="639" r="2.6"/><circle cy="634" r="2.6"/><circle cy="628" r="2.6"/><circle cy="592" r="2.6"/><circle cy="609" r="2.6"/><circle cy="629" r="2.6"/><circle cy="642" r="2.6"/><circle cy="629" r="2.6"/><circle cy="639" r="2.6"/><circle cy="682" r="2.6"/><circle cy="635" r="2.5"/><circle cy="621" r="2.5"/><circle cy="525" r="2.5"/><circle cy="635" r="2.5"/><circle cy="647" r="2.5"/><circle cy="635" r="2.5"/><circle cy="532" r="2.5"/><circle cy="644" r="2.5"/><circle cy="424" r="2.5"/><circle cy="562" r="2.5"/><circle cy="572" r="2.5"/><circle cy="652" r="2.5"/><circle cy="651" r="2.5"/><circle cy="626" r="2.5"/><circle cy="687" r="2.5"/><circle cy="592" r="2.4"/><circle cy="599" r="2.4"/><circle cy="635" r="2.4"/><circle cy="571" r="2.4"/><circle cy="592" r="2.4"/><circle cy="623" r="2.4"/><circle cy="582" r="2.4"/><circle cy="560" r="2.4"/><circle cy="583" r="2.4"/><circle cy="680" r="2.4"/><circle cy="595" r="2.4"/><circle cy="543" r="2.4"/><circle cy="677" r="2.4"/><circle cy="668" r="2.4"/><circle cy="680" r="2.3"/><circle cy="658" r="2.3"/><circle cy="673" r="2.3"/><circle cy="618" r="2.3"/><circle cy="599" r="2.3"/><circle cy="615" r="2.3"/><circle cy="655" r="2.3"/><circle cy="593" r="2.3"/><circle cy="633" r="2.3"/><circle cy="676" r="2.3"/><circle cy="645" r="2.3"/><circle cy="626" r="2.3"/><circle cy="612" r="2.3"/><circle cy="606" r="2.3"/><circle cy="542" r="2.3"/><circle cy="642" r="2.3"/><circle cy="622" r="2.2"/><circle cy="656" r="2.2"/><circle cy="621" r="2.2"/><circle cy="550" r="2.2"/><circle cy="655" r="2.2"/><circle cy="576" r="2.2"/><circle cy="589" r="2.2"/><circle cy="658" r="2.2"/><circle cy="683" r="2.2"/><circle cy="603" r="2.2"/><circle cy="620" r="2.2"/><circle cy="625" r="2.2"/><circle cy="669" r="2.1"/><circle cy="673" r="2.1"/><circle cy="656" r="2.1"/><circle cy="616" r="2.1"/><circle cy="572" r="2.1"/><circle cy="576" r="2.1"/><circle cy="655" r="2.1"/><circle cy="653" r="2.1"/><circle cy="670" r="2.1"/><circle cy="599" r="2.1"/><circle cy="664" r="2.1"/><circle cy="663" r="2.0"/><circle cy="649" r="2.0"/><circle cy="597" r="2.0"/><circle cy="298" r="2.0"/><circle cy="315" r="2.0"/><circle cy="660" r="2.0"/><circle cy="610" r="2.0"/><circle cy="545" r="2.0"/><circle cy="628" r="2.0"/><circle cy="638" r="1.9"/><circle cy="642" r="1.9"/><circle cy="619" r="1.9"/><circle cy="682" r="1.9"/><circle cy="662" r="1.9"/><circle cy="652" r="1.9"/><circle cy="575" r="1.9"/><circle cy="630" r="1.9"/><circle cy="637" r="1.9"/><circle cy="647" r="1.9"/><circle cy="655" r="1.9"/><circle cy="640" r="1.9"/><circle cy="668" r="1.9"/><circle cy="640" r="1.9"/><circle cy="673" r="1.8"/><circle cy="571" r="1.8"/><circle cy="646" r="1.8"/><circle cy="591" r="1.8"/><circle cy="637" r="1.8"/><circle cy="570" r="1.8"/><circle cy="601" r="1.8"/><circle cy="539" r="1.7"/><circle cy="597" r="1.7"/><circle cy="612" r="1.7"/><circle cy="653" r="1.7"/><circle cy="593" r="1.7"/><circle cy="587" r="1.7"/><circle cy="611" r="1.7"/><circle cy="567" r="1.7"/><circle cy="673" r="1.7"/><circle cy="675" r="1.6"/><circle cy="667" r="1.6"/><circle cy="584" r="1.6"/><circle cy="673" r="1.6"/><circle cy="647" r="1.6"/><circle cy="554" r="1.6"/><circle cy="669" r="1.6"/><circle cy="679" r="1.6"/><circle cy="666" r="1.6"/><circle cy="636" r="1.6"/><circle cy="622" r="1.6"/><circle cy="625" r="1.6"/><circle cy="655" r="1.6"/><circle cy="639" r="1.6"/><circle cy="617" r="1.6"/><circle cy="633" r="1.6"/><circle cy="642" r="1.6"/><circle cy="661" r="1.5"/><circle cy="635" r="1.5"/><circle cy="616" r="1.5"/></g><g transform="translate(1166.1 0)"><circle cy="615" r="15.9"/><circle cy="666" r="15.9"/><circle cy="613" r="15.5"/><circle cy="605" r="15.1"/><circle cy="583" r="15.0"/><circle cy="692" r="15.0"/><circle cy="692" r="15.0"/><circle cy="678" r="14.9"/><circle cy="633" r="14.7"/><circle cy="638" r="14.5"/><circle cy="614" r="14.4"/><circle cy="637" r="14.4"/><circle cy="636" r="14.4"/><circle cy="641" r="14.3"/><circle cy="659" r="14.3"/><circle cy="661" r="14.0"/><circle cy="690" r="14.0"/><circle cy="681" r="14.0"/><circle cy="651" r="13.9"/><circle cy="635" r="13.9"/><circle cy="612" r="13.9"/><circle cy="627" r="13.8"/><circle cy="624" r="13.7"/><circle cy="649" r="13.6"/><circle cy="676" r="13.5"/><circle cy="655" r="13.5"/><circle cy="676" r="13.3"/><circle cy="657" r="13.2"/><circle cy="666" r="13.2"/><circle cy="637" r="13.1"/><circle cy="653" r="12.7"/><circle cy="609" r="12.6"/><circle cy="642" r="12.5"/><circle cy="636" r="12.4"/><circle cy="652" r="12.3"/><circle cy="674" r="12.3"/><circle cy="613" r="12.3"/><circle cy="641" r="12.3"/><circle cy="677" r="12.3"/><circle cy="605" r="12.1"/><circle cy="652" r="12.1"/><circle cy="602" r="12.1"/><circle cy="687" r="12.0"/><circle cy="622" r="12.0"/><circle cy="636" r="11.9"/><circle cy="606" r="11.4"/><circle cy="643" r="11.3"/><circle cy="635" r="11.3"/><circle cy="606" r="11.2"/><circle cy="640" r="11.2"/><circle cy="556" r="11.0"/><circle cy="684" r="10.0"/><circle cy="663" r="9.5"/><circle cy="672" r="9.5"/><circle cy="672" r="9.4"/><circle cy="672" r="9.4"/><circle cy="654" r="9.3"/><circle cy="650" r="9.3"/><circle cy="678" r="9.2"/><circle cy="674" r="9.2"/><circle cy="661" r="9.2"/><circle cy="656" r="9.2"/><circle cy="654" r="9.1"/><circle cy="659" r="9.1"/><circle cy="661" r="9.1"/><circle cy="626" r="9.0"/><circle cy="645" r="9.0"/><circle cy="609" r="9.0"/><circle cy="611" r="8.9"/><circle cy="652" r="8.9"/><circle cy="622" r="8.9"/><circle cy="629" r="8.9"/><circle cy="660" r="8.8"/><circle cy="621" r="8.8"/><circle cy="634" r="8.8"/><circle cy="669" r="8.7"/><circle cy="616" r="8.6"/><circle cy="679" r="8.6"/><circle cy="662" r="8.6"/><circle cy="646" r="8.6"/><circle cy="651" r="8.6"/><circle cy="646" r="8.5"/><circle cy="678" r="8.4"/><circle cy="597" r="8.4"/><circle cy="642" r="8.4"/><circle cy="604" r="8.4"/><circle cy="676" r="8.4"/><circle cy="664" r="8.4"/><circle cy="668" r="8.4"/><circle cy="606" r="8.3"/><circle cy="623" r="8.3"/><circle cy="623" r="8.2"/><circle cy="658" r="8.1"/><circle cy="659" r="8.1"/><circle cy="593" r="8.1"/><circle cy="636" r="8.0"/><circle cy="617" r="8.0"/><circle cy="682" r="8.0"/><circle cy="621" r="7.9"/><circle cy="647" r="7.9"/><circle cy="635" r="7.9"/><circle cy="637" r="7.8"/><circle cy="629" r="7.8"/><circle cy="599" r="7.8"/><circle cy="614" r="7.8"/><circle cy="627" r="7.8"/><circle cy="598" r="7.7"/><circle cy="615" r="7.7"/><circle cy="612" r="7.7"/><circle cy="627" r="7.7"/><circle cy="588" r="7.7"/><circle cy="642" r="7.6"/><circle cy="659" r="7.6"/><circle cy="681" r="7.4"/><circle cy="659" r="7.3"/><circle cy="639" r="7.2"/><circle cy="583" r="7.2"/><circle cy="591" r="7.2"/><circle cy="679" r="7.2"/><circle cy="635" r="7.1"/><circle cy="652" r="7.1"/><circle cy="594" r="7.1"/><circle cy="664" r="7.1"/><circle cy="549" r="7.0"/><circle cy="609" r="6.9"/><circle cy="595" r="6.9"/><circle cy="618" r="6.8"/><circle cy="622" r="6.8"/><circle cy="657" r="6.8"/><circle cy="650" r="6.7"/><circle cy="649" r="6.7"/><circle cy="626" r="6.7"/><circle cy="647" r="6.6"/><circle cy="606" r="6.6"/><circle cy="612" r="6.6"/><circle cy="670" r="6.6"/><circle cy="613" r="6.6"/><circle cy="595" r="6.5"/><circle cy="622" r="6.5"/><circle cy="682" r="6.5"/><circle cy="661" r="6.5"/><circle cy="681" r="6.5"/><circle cy="660" r="6.4"/><circle cy="622" r="6.4"/><circle cy="682" r="6.3"/><circle cy="604" r="6.3"/><circle cy="631" r="6.2"/><circle cy="621" r="6.2"/><circle cy="590" r="6.2"/><circle cy="623" r="6.1"/><circle cy="610" r="6.1"/><circle cy="633" r="6.1"/><circle cy="589" r="6.1"/><circle cy="622" r="6.1"/><circle cy="609" r="6.1"/><circle cy="655" r="6.0"/><circle cy="637" r="6.0"/><circle cy="488" r="6.0"/><circle cy="510" r="6.0"/><circle cy="649" r="6.0"/><circle cy="590" r="5.9"/><circle cy="650" r="5.9"/><circle cy="606" r="5.9"/><circle cy="648" r="5.9"/><circle cy="617" r="5.8"/><circle cy="641" r="5.7"/><circle cy="658" r="5.6"/><circle cy="612" r="5.6"/><circle cy="618" r="5.6"/><circle cy="639" r="5.5"/><circle cy="654" r="5.5"/><circle cy="600" r="5.5"/><circle cy="601" r="5.4"/><circle cy="651" r="5.4"/><circle cy="658" r="5.3"/><circle cy="616" r="5.3"/><circle cy="605" r="5.3"/><circle cy="675" r="5.3"/><circle cy="631" r="5.3"/><circle cy="612" r="5.2"/><circle cy="596" r="5.2"/><circle cy="581" r="5.2"/><circle cy="645" r="5.2"/><circle cy="602" r="5.2"/><circle cy="631" r="5.1"/><circle cy="664" r="5.0"/><circle cy="540" r="5.0"/><circle cy="654" r="5.0"/><circle cy="643" r="5.0"/><circle cy="635" r="4.9"/><circle cy="600" r="4.8"/><circle cy="646" r="4.8"/><circle cy="665" r="4.6"/><circle cy="652" r="4.6"/><circle cy="676" r="4.6"/><circle cy="630" r="4.6"/><circle cy="620" r="4.6"/><circle cy="610" r="4.5"/><circle cy="577" r="4.5"/><circle cy="610" r="4.5"/><circle cy="654" r="4.4"/><circle cy="636" r="4.4"/><circle cy="682" r="4.4"/><circle cy="638" r="4.4"/><circle cy="627" r="4.4"/><circle cy="583" r="4.4"/><circle cy="596" r="4.4"/><circle cy="590" r="4.4"/><circle cy="612" r="4.4"/><circle cy="598" r="4.4"/><circle cy="615" r="4.4"/><circle cy="617" r="4.4"/><circle cy="640" r="4.4"/><circle cy="671" r="4.4"/><circle cy="613" r="4.4"/><circle cy="659" r="4.4"/><circle cy="659" r="4.4"/><circle cy="645" r="4.4"/><circle cy="599" r="4.3"/><circle cy="607" r="4.3"/><circle cy="647" r="4.3"/><circle cy="589" r="4.3"/><circle cy="632" r="4.3"/><circle cy="607" r="4.3"/><circle cy="663" r="4.3"/><circle cy="657" r="4.3"/><circle cy="662" r="4.2"/><circle cy="638" r="4.2"/><circle cy="668" r="4.2"/><circle cy="659" r="4.2"/><circle cy="672" r="4.2"/><circle cy="636" r="4.2"/><circle cy="604" r="4.2"/><circle cy="585" r="4.2"/><circle cy="645" r="4.2"/><circle cy="680" r="4.2"/><circle cy="580" r="4.2"/><circle cy="591" r="4.2"/><circle cy="660" r="4.2"/><circle cy="653" r="4.2"/><circle cy="592" r="4.2"/><circle cy="669" r="4.2"/><circle cy="655" r="4.2"/><circle cy="640" r="4.2"/><circle cy="616" r="4.2"/><circle cy="623" r="4.2"/><circle cy="619" r="4.2"/><circle cy="650" r="4.2"/><circle cy="622" r="4.2"/><circle cy="675" r="4.2"/><circle cy="667" r="4.2"/><circle cy="614" r="4.1"/><circle cy="678" r="4.1"/><circle cy="601" r="4.1"/><circle cy="678" r="4.1"/><circle cy="688" r="4.1"/><circle cy="584" r="4.1"/><circle cy="593" r="4.1"/><circle cy="631" r="4.1"/><circle cy="623" r="4.1"/><circle cy="657" r="4.1"/><circle cy="625" r="4.1"/><circle cy="597" r="4.1"/><circle cy="649" r="4.0"/><circle cy="645" r="4.0"/><circle cy="643" r="4.0"/><circle cy="676" r="4.0"/><circle cy="568" r="4.0"/><circle cy="688" r="4.0"/><circle cy="679" r="4.0"/><circle cy="606" r="4.0"/><circle cy="624" r="4.0"/><circle cy="555" r="3.9"/><circle cy="591" r="3.9"/><circle cy="662" r="3.9"/><circle cy="602" r="3.9"/><circle cy="673" r="3.9"/><circle cy="592" r="3.9"/><circle cy="584" r="3.9"/><circle cy="627" r="3.9"/><circle cy="684" r="3.9"/><circle cy="620" r="3.9"/><circle cy="577" r="3.9"/><circle cy="658" r="3.9"/><circle cy="627" r="3.9"/><circle cy="642" r="3.9"/><circle cy="678" r="3.8"/><circle cy="610" r="3.8"/><circle cy="671" r="3.8"/><circle cy="655" r="3.8"/><circle cy="613" r="3.8"/><circle cy="615" r="3.8"/><circle cy="635" r="3.8"/><circle cy="599" r="3.8"/><circle cy="622" r="3.8"/><circle cy="638" r="3.8"/><circle cy="636" r="3.8"/><circle cy="583" r="3.8"/><circle cy="590" r="3.8"/><circle cy="612" r="3.7"/><circle cy="647" r="3.7"/><circle cy="604" r="3.7"/><circle cy="643" r="3.7"/><circle cy="648" r="3.7"/><circle cy="592" r="3.7"/><circle cy="612" r="3.7"/><circle cy="644" r="3.7"/><circle cy="647" r="3.7"/><circle cy="669" r="3.7"/><circle cy="601" r="3.7"/><circle cy="632" r="3.7"/><circle cy="603" r="3.7"/><circle cy="671" r="3.7"/><circle cy="643" r="3.6"/><circle cy="677" r="3.6"/><circle cy="591" r="3.6"/><circle cy="635" r="3.6"/><circle cy="670" r="3.6"/><circle cy="673" r="3.6"/><circle cy="622" r="3.6"/><circle cy="648" r="3.6"/><circle cy="584" r="3.6"/><circle cy="601" r="3.6"/><circle cy="590" r="3.5"/><circle cy="673" r="3.5"/><circle cy="605" r="3.5"/><circle cy="667" r="3.5"/><circle cy="594" r="3.5"/><circle cy="657" r="3.5"/><circle cy="579" r="3.5"/><circle cy="432" r="3.5"/><circle cy="663" r="3.5"/><circle cy="621" r="3.5"/><circle cy="679" r="3.5"/><circle cy="647" r="3.5"/><circle cy="682" r="3.5"/><circle cy="668" r="3.5"/><circle cy="582" r="3.4"/><circle cy="676" r="3.4"/><circle cy="622" r="3.4"/><circle cy="591" r="3.4"/><circle cy="579" r="3.4"/><circle cy="683" r="3.4"/><circle cy="657" r="3.4"/><circle cy="665" r="3.4"/><circle cy="638" r="3.4"/><circle cy="585" r="3.4"/><circle cy="595" r="3.4"/><circle cy="610" r="3.4"/><circle cy="662" r="3.4"/><circle cy="582" r="3.4"/><circle cy="595" r="3.3"/><circle cy="591" r="3.3"/><circle cy="585" r="3.3"/><circle cy="605" r="3.3"/><circle cy="647" r="3.3"/><circle cy="548" r="3.3"/><circle cy="590" r="3.3"/><circle cy="591" r="3.2"/><circle cy="606" r="3.2"/><circle cy="673" r="3.2"/><circle cy="603" r="3.2"/><circle cy="650" r="3.2"/><circle cy="685" r="3.2"/><circle cy="671" r="3.2"/><circle cy="656" r="3.2"/><circle cy="615" r="3.2"/><circle cy="633" r="3.2"/><circle cy="674" r="3.2"/><circle cy="549" r="3.2"/><circle cy="640" r="3.2"/><circle cy="634" r="3.2"/><circle cy="615" r="3.1"/><circle cy="667" r="3.1"/><circle cy="607" r="3.1"/><circle cy="593" r="3.1"/><circle cy="596" r="3.1"/><circle cy="595" r="3.1"/><circle cy="683" r="3.1"/><circle cy="656" r="3.1"/><circle cy="601" r="3.1"/><circle cy="621" r="3.0"/><circle cy="597" r="3.0"/><circle cy="634" r="3.0"/><circle cy="581" r="3.0"/><circle cy="660" r="3.0"/><circle cy="585" r="3.0"/><circle cy="605" r="3.0"/><circle cy="671" r="3.0"/><circle cy="670" r="3.0"/><circle cy="688" r="3.0"/><circle cy="576" r="3.0"/><circle cy="582" r="3.0"/><circle cy="577" r="3.0"/><circle cy="650" r="3.0"/><circle cy="626" r="3.0"/><circle cy="687" r="2.9"/><circle cy="678" r="2.9"/><circle cy="623" r="2.9"/><circle cy="596" r="2.9"/><circle cy="592" r="2.9"/><circle cy="589" r="2.9"/><circle cy="668" r="2.9"/><circle cy="540" r="2.9"/><circle cy="605" r="2.9"/><circle cy="550" r="2.9"/><circle cy="567" r="2.9"/><circle cy="641" r="2.8"/><circle cy="617" r="2.8"/><circle cy="672" r="2.8"/><circle cy="671" r="2.8"/><circle cy="583" r="2.8"/><circle cy="583" r="2.8"/><circle cy="555" r="2.8"/><circle cy="622" r="2.8"/><circle cy="642" r="2.8"/><circle cy="595" r="2.8"/><circle cy="618" r="2.8"/><circle cy="653" r="2.8"/><circle cy="689" r="2.8"/><circle cy="633" r="2.7"/><circle cy="667" r="2.7"/><circle cy="660" r="2.7"/><circle cy="655" r="2.7"/><circle cy="651" r="2.7"/><circle cy="680" r="2.7"/><circle cy="599" r="2.7"/><circle cy="651" r="2.7"/><circle cy="627" r="2.6"/><circle cy="598" r="2.6"/><circle cy="579" r="2.6"/><circle cy="687" r="2.6"/><circle cy="559" r="2.6"/><circle cy="614" r="2.6"/><circle cy="647" r="2.6"/><circle cy="604" r="2.6"/><circle cy="666" r="2.6"/><circle cy="644" r="2.6"/><circle cy="632" r="2.5"/><circle cy="583" r="2.5"/><circle cy="557" r="2.5"/><circle cy="667" r="2.5"/><circle cy="679" r="2.5"/><circle cy="647" r="2.5"/><circle cy="669" r="2.5"/><circle cy="641" r="2.5"/><circle cy="682" r="2.5"/><circle cy="590" r="2.5"/><circle cy="586" r="2.5"/><circle cy="592" r="2.5"/><circle cy="622" r="2.5"/><circle cy="626" r="2.4"/><circle cy="550" r="2.4"/><circle cy="604" r="2.4"/><circle cy="620" r="2.4"/><circle cy="623" r="2.4"/><circle cy="651" r="2.4"/><circle cy="676" r="2.4"/><circle cy="540" r="2.4"/><circle cy="639" r="2.4"/><circle cy="667" r="2.4"/><circle cy="626" r="2.4"/><circle cy="633" r="2.4"/><circle cy="619" r="2.4"/><circle cy="634" r="2.4"/><circle cy="623" r="2.4"/><circle cy="635" r="2.3"/><circle cy="667" r="2.3"/><circle cy="588" r="2.3"/><circle cy="621" r="2.3"/><circle cy="646" r="2.3"/><circle cy="687" r="2.3"/><circle cy="601" r="2.3"/><circle cy="590" r="2.3"/><circle cy="688" r="2.3"/><circle cy="593" r="2.3"/><circle cy="631" r="2.3"/><circle cy="656" r="2.3"/><circle cy="648" r="2.3"/><circle cy="666" r="2.3"/><circle cy="678" r="2.3"/><circle cy="658" r="2.3"/><circle cy="617" r="2.3"/><circle cy="588" r="2.2"/><circle cy="585" r="2.2"/><circle cy="672" r="2.2"/><circle cy="672" r="2.2"/><circle cy="580" r="2.2"/><circle cy="619" r="2.2"/><circle cy="534" r="2.2"/><circle cy="584" r="2.2"/><circle cy="545" r="2.2"/><circle cy="605" r="2.2"/><circle cy="589" r="2.2"/><circle cy="603" r="2.2"/><circle cy="635" r="2.2"/><circle cy="689" r="2.2"/><circle cy="598" r="2.2"/><circle cy="643" r="2.2"/><circle cy="625" r="2.1"/><circle cy="663" r="2.1"/><circle cy="685" r="2.1"/><circle cy="638" r="2.1"/><circle cy="590" r="2.1"/><circle cy="686" r="2.1"/><circle cy="629" r="2.1"/><circle cy="598" r="2.1"/><circle cy="582" r="2.1"/><circle cy="613" r="2.1"/><circle cy="536" r="2.1"/><circle cy="582" r="2.1"/><circle cy="622" r="2.1"/><circle cy="634" r="2.1"/><circle cy="642" r="2.1"/><circle cy="626" r="2.1"/><circle cy="677" r="2.1"/><circle cy="631" r="2.0"/><circle cy="663" r="2.0"/><circle cy="536" r="2.0"/><circle cy="661" r="2.0"/><circle cy="650" r="2.0"/><circle cy="518" r="2.0"/><circle cy="594" r="2.0"/><circle cy="588" r="2.0"/><circle cy="594" r="1.9"/><circle cy="575" r="1.9"/><circle cy="673" r="1.9"/><circle cy="579" r="1.9"/><circle cy="594" r="1.9"/><circle cy="676" r="1.9"/><circle cy="672" r="1.9"/><circle cy="678" r="1.9"/><circle cy="594" r="1.9"/><circle cy="644" r="1.9"/><circle cy="623" r="1.9"/><circle cy="657" r="1.8"/><circle cy="665" r="1.8"/><circle cy="619" r="1.8"/><circle cy="631" r="1.8"/><circle cy="646" r="1.8"/><circle cy="615" r="1.8"/><circle cy="639" r="1.8"/><circle cy="635" r="1.8"/><circle cy="565" r="1.8"/><circle cy="603" r="1.8"/><circle cy="632" r="1.8"/><circle cy="604" r="1.8"/><circle cy="607" r="1.7"/><circle cy="671" r="1.7"/><circle cy="679" r="1.7"/><circle cy="675" r="1.7"/><circle cy="618" r="1.7"/><circle cy="660" r="1.7"/><circle cy="672" r="1.7"/><circle cy="584" r="1.7"/><circle cy="626" r="1.7"/><circle cy="586" r="1.6"/><circle cy="609" r="1.6"/><circle cy="663" r="1.6"/><circle cy="576" r="1.6"/><circle cy="682" r="1.6"/><circle cy="614" r="1.6"/><circle cy="666" r="1.6"/><circle cy="679" r="1.6"/><circle cy="599" r="1.6"/><circle cy="581" r="1.6"/><circle cy="592" r="1.6"/><circle cy="674" r="1.6"/><circle cy="622" r="1.6"/><circle cy="581" r="1.6"/><circle cy="609" r="1.6"/><circle cy="603" r="1.6"/><circle cy="577" r="1.5"/><circle cy="585" r="1.5"/><circle cy="667" r="1.5"/><circle cy="614" r="1.5"/><circle cy="681" r="1.5"/></g><g transform="translate(1241.4 0)"><circle cy="589" r="16.0"/><circle cy="697" r="16.0"/><circle cy="697" r="16.0"/><circle cy="640" r="15.7"/><circle cy="648" r="15.7"/><circle cy="653" r="15.6"/><circle cy="655" r="15.6"/><circle cy="658" r="15.4"/><circle cy="682" r="15.4"/><circle cy="684" r="15.4"/><circle cy="680" r="15.3"/><circle cy="632" r="15.2"/><circle cy="678" r="15.0"/><circle cy="695" r="15.0"/><circle cy="672" r="15.0"/><circle cy="646" r="14.9"/><circle cy="630" r="14.5"/><circle cy="641" r="14.5"/><circle cy="646" r="14.5"/><circle cy="628" r="14.1"/><circle cy="677" r="14.1"/><circle cy="552" r="14.0"/><circle cy="692" r="14.0"/><circle cy="676" r="13.8"/><circle cy="673" r="13.6"/><circle cy="682" r="13.6"/><circle cy="664" r="13.6"/><circle cy="668" r="13.5"/><circle cy="674" r="13.4"/><circle cy="675" r="13.4"/><circle cy="664" r="13.2"/><circle cy="637" r="13.1"/><circle cy="684" r="13.1"/><circle cy="626" r="13.1"/><circle cy="553" r="13.0"/><circle cy="663" r="12.8"/><circle cy="630" r="12.8"/><circle cy="620" r="12.7"/><circle cy="643" r="12.5"/><circle cy="619" r="12.5"/><circle cy="626" r="12.4"/><circle cy="687" r="12.4"/><circle cy="632" r="12.2"/><circle cy="662" r="12.2"/><circle cy="686" r="12.2"/><circle cy="657" r="12.2"/><circle cy="679" r="12.1"/><circle cy="644" r="12.1"/><circle cy="615" r="12.1"/><circle cy="689" r="12.0"/><circle cy="651" r="12.0"/><circle cy="680" r="11.9"/><circle cy="628" r="11.7"/><circle cy="623" r="11.3"/><circle cy="618" r="11.3"/><circle cy="648" r="11.2"/><circle cy="613" r="11.2"/><circle cy="664" r="11.0"/><circle cy="686" r="10.0"/><circle cy="603" r="9.5"/><circle cy="654" r="9.5"/><circle cy="663" r="9.4"/><circle cy="678" r="9.3"/><circle cy="624" r="9.3"/><circle cy="617" r="9.3"/><circle cy="614" r="9.3"/><circle cy="607" r="9.2"/><circle cy="621" r="9.2"/><circle cy="636" r="9.2"/><circle cy="633" r="9.2"/><circle cy="640" r="9.1"/><circle cy="665" r="9.1"/><circle cy="599" r="9.1"/><circle cy="608" r="9.0"/><circle cy="637" r="9.0"/><circle cy="627" r="9.0"/><circle cy="623" r="8.9"/><circle cy="657" r="8.9"/><circle cy="623" r="8.9"/><circle cy="620" r="8.9"/><circle cy="657" r="8.8"/><circle cy="619" r="8.7"/><circle cy="616" r="8.7"/><circle cy="594" r="8.7"/><circle cy="654" r="8.6"/><circle cy="608" r="8.6"/><circle cy="629" r="8.5"/><circle cy="610" r="8.4"/><circle cy="600" r="8.3"/><circle cy="595" r="8.2"/><circle cy="638" r="8.2"/><circle cy="612" r="8.1"/><circle cy="683" r="8.0"/><circle cy="667" r="8.0"/><circle cy="678" r="7.9"/><circle cy="644" r="7.9"/><circle cy="685" r="7.9"/><circle cy="593" r="7.9"/><circle cy="594" r="7.9"/><circle cy="673" r="7.8"/><circle cy="634" r="7.8"/><circle cy="683" r="7.8"/><circle cy="608" r="7.8"/><circle cy="612" r="7.7"/><circle cy="673" r="7.7"/><circle cy="684" r="7.7"/><circle cy="672" r="7.6"/><circle cy="682" r="7.6"/><circle cy="656" r="7.6"/><circle cy="655" r="7.6"/><circle cy="594" r="7.6"/><circle cy="621" r="7.5"/><circle cy="644" r="7.5"/><circle cy="597" r="7.5"/><circle cy="649" r="7.5"/><circle cy="675" r="7.4"/><circle cy="611" r="7.3"/><circle cy="676" r="7.3"/><circle cy="666" r="7.3"/><circle cy="606" r="7.2"/><circle cy="659" r="7.2"/><circle cy="682" r="7.2"/><circle cy="630" r="7.2"/><circle cy="650" r="7.2"/><circle cy="631" r="7.2"/><circle cy="651" r="7.2"/><circle cy="647" r="7.2"/><circle cy="653" r="7.1"/><circle cy="608" r="7.0"/><circle cy="523" r="7.0"/><circle cy="577" r="7.0"/><circle cy="668" r="7.0"/><circle cy="639" r="6.9"/><circle cy="657" r="6.9"/><circle cy="686" r="6.8"/><circle cy="608" r="6.8"/><circle cy="611" r="6.8"/><circle cy="637" r="6.7"/><circle cy="653" r="6.7"/><circle cy="627" r="6.7"/><circle cy="644" r="6.7"/><circle cy="593" r="6.6"/><circle cy="645" r="6.6"/><circle cy="615" r="6.5"/><circle cy="636" r="6.5"/><circle cy="603" r="6.5"/><circle cy="613" r="6.5"/><circle cy="683" r="6.5"/><circle cy="673" r="6.5"/><circle cy="617" r="6.4"/><circle cy="678" r="6.4"/><circle cy="603" r="6.3"/><circle cy="655" r="6.3"/><circle cy="610" r="6.3"/><circle cy="657" r="6.2"/><circle cy="665" r="6.1"/><circle cy="684" r="6.1"/><circle cy="617" r="6.1"/><circle cy="668" r="6.1"/><circle cy="605" r="6.1"/><circle cy="425" r="6.0"/><circle cy="568" r="6.0"/><circle cy="598" r="6.0"/><circle cy="671" r="5.9"/><circle cy="613" r="5.9"/><circle cy="610" r="5.9"/><circle cy="599" r="5.9"/><circle cy="595" r="5.9"/><circle cy="685" r="5.8"/><circle cy="594" r="5.8"/><circle cy="625" r="5.8"/><circle cy="620" r="5.8"/><circle cy="611" r="5.7"/><circle cy="684" r="5.7"/><circle cy="681" r="5.7"/><circle cy="596" r="5.7"/><circle cy="631" r="5.6"/><circle cy="657" r="5.6"/><circle cy="647" r="5.5"/><circle cy="678" r="5.5"/><circle cy="606" r="5.4"/><circle cy="600" r="5.4"/><circle cy="669" r="5.4"/><circle cy="688" r="5.3"/><circle cy="675" r="5.3"/><circle cy="636" r="5.3"/><circle cy="624" r="5.3"/><circle cy="618" r="5.3"/><circle cy="670" r="5.2"/><circle cy="643" r="5.2"/><circle cy="607" r="5.1"/><circle cy="639" r="5.1"/><circle cy="628" r="5.0"/><circle cy="655" r="5.0"/><circle cy="632" r="5.0"/><circle cy="539" r="5.0"/><circle cy="681" r="5.0"/><circle cy="633" r="4.9"/><circle cy="639" r="4.9"/><circle cy="609" r="4.9"/><circle cy="599" r="4.8"/><circle cy="668" r="4.8"/><circle cy="610" r="4.8"/><circle cy="683" r="4.7"/><circle cy="626" r="4.7"/><circle cy="626" r="4.7"/><circle cy="603" r="4.7"/><circle cy="624" r="4.6"/><circle cy="664" r="4.6"/><circle cy="604" r="4.6"/><circle cy="649" r="4.6"/><circle cy="634" r="4.5"/><circle cy="673" r="4.5"/><circle cy="655" r="4.5"/><circle cy="661" r="4.5"/><circle cy="591" r="4.5"/><circle cy="664" r="4.5"/><circle cy="687" r="4.5"/><circle cy="602" r="4.5"/><circle cy="607" r="4.5"/><circle cy="604" r="4.5"/><circle cy="672" r="4.5"/><circle cy="657" r="4.4"/><circle cy="688" r="4.4"/><circle cy="629" r="4.4"/><circle cy="665" r="4.4"/><circle cy="682" r="4.4"/><circle cy="661" r="4.4"/><circle cy="644" r="4.4"/><circle cy="610" r="4.4"/><circle cy="617" r="4.4"/><circle cy="638" r="4.4"/><circle cy="590" r="4.4"/><circle cy="610" r="4.4"/><circle cy="644" r="4.4"/><circle cy="623" r="4.3"/><circle cy="693" r="4.3"/><circle cy="690" r="4.3"/><circle cy="618" r="4.3"/><circle cy="638" r="4.3"/><circle cy="680" r="4.3"/><circle cy="603" r="4.3"/><circle cy="671" r="4.3"/><circle cy="606" r="4.3"/><circle cy="632" r="4.3"/><circle cy="685" r="4.3"/><circle cy="592" r="4.3"/><circle cy="657" r="4.3"/><circle cy="660" r="4.3"/><circle cy="657" r="4.3"/><circle cy="602" r="4.3"/><circle cy="647" r="4.3"/><circle cy="670" r="4.2"/><circle cy="620" r="4.2"/><circle cy="683" r="4.2"/><circle cy="622" r="4.2"/><circle cy="668" r="4.2"/><circle cy="653" r="4.2"/><circle cy="669" r="4.2"/><circle cy="686" r="4.2"/><circle cy="686" r="4.2"/><circle cy="639" r="4.2"/><circle cy="663" r="4.2"/><circle cy="685" r="4.2"/><circle cy="667" r="4.2"/><circle cy="609" r="4.1"/><circle cy="632" r="4.1"/><circle cy="620" r="4.1"/><circle cy="666" r="4.1"/><circle cy="639" r="4.1"/><circle cy="593" r="4.1"/><circle cy="684" r="4.1"/><circle cy="606" r="4.1"/><circle cy="656" r="4.1"/><circle cy="593" r="4.1"/><circle cy="604" r="4.1"/><circle cy="612" r="4.1"/><circle cy="693" r="4.1"/><circle cy="655" r="4.1"/><circle cy="598" r="4.1"/><circle cy="603" r="4.1"/><circle cy="627" r="4.0"/><circle cy="689" r="4.0"/><circle cy="674" r="4.0"/><circle cy="691" r="4.0"/><circle cy="615" r="4.0"/><circle cy="693" r="4.0"/><circle cy="677" r="4.0"/><circle cy="689" r="4.0"/><circle cy="607" r="4.0"/><circle cy="666" r="4.0"/><circle cy="686" r="4.0"/><circle cy="564" r="4.0"/><circle cy="609" r="4.0"/><circle cy="663" r="4.0"/><circle cy="589" r="4.0"/><circle cy="564" r="4.0"/><circle cy="675" r="3.9"/><circle cy="597" r="3.9"/><circle cy="686" r="3.9"/><circle cy="653" r="3.9"/><circle cy="649" r="3.9"/><circle cy="648" r="3.9"/><circle cy="671" r="3.9"/><circle cy="570" r="3.9"/><circle cy="600" r="3.9"/><circle cy="596" r="3.9"/><circle cy="628" r="3.9"/><circle cy="621" r="3.8"/><circle cy="596" r="3.8"/><circle cy="658" r="3.8"/><circle cy="553" r="3.8"/><circle cy="645" r="3.8"/><circle cy="665" r="3.8"/><circle cy="669" r="3.8"/><circle cy="618" r="3.8"/><circle cy="673" r="3.8"/><circle cy="603" r="3.8"/><circle cy="594" r="3.8"/><circle cy="564" r="3.8"/><circle cy="640" r="3.8"/><circle cy="604" r="3.7"/><circle cy="647" r="3.7"/><circle cy="679" r="3.7"/><circle cy="654" r="3.7"/><circle cy="649" r="3.7"/><circle cy="684" r="3.7"/><circle cy="642" r="3.7"/><circle cy="671" r="3.7"/><circle cy="641" r="3.7"/><circle cy="604" r="3.7"/><circle cy="637" r="3.7"/><circle cy="590" r="3.6"/><circle cy="687" r="3.6"/><circle cy="650" r="3.6"/><circle cy="636" r="3.6"/><circle cy="669" r="3.6"/><circle cy="636" r="3.6"/><circle cy="587" r="3.6"/><circle cy="626" r="3.6"/><circle cy="608" r="3.6"/><circle cy="597" r="3.6"/><circle cy="618" r="3.6"/><circle cy="593" r="3.5"/><circle cy="614" r="3.5"/><circle cy="691" r="3.5"/><circle cy="636" r="3.5"/><circle cy="602" r="3.5"/><circle cy="660" r="3.5"/><circle cy="604" r="3.5"/><circle cy="657" r="3.5"/><circle cy="629" r="3.5"/><circle cy="694" r="3.5"/><circle cy="644" r="3.5"/><circle cy="600" r="3.5"/><circle cy="624" r="3.5"/><circle cy="622" r="3.4"/><circle cy="654" r="3.4"/><circle cy="600" r="3.4"/><circle cy="608" r="3.4"/><circle cy="667" r="3.4"/><circle cy="601" r="3.4"/><circle cy="614" r="3.4"/><circle cy="606" r="3.4"/><circle cy="681" r="3.4"/><circle cy="599" r="3.4"/><circle cy="594" r="3.4"/><circle cy="596" r="3.4"/><circle cy="624" r="3.3"/><circle cy="657" r="3.3"/><circle cy="606" r="3.3"/><circle cy="612" r="3.3"/><circle cy="627" r="3.3"/><circle cy="661" r="3.3"/><circle cy="685" r="3.3"/><circle cy="596" r="3.3"/><circle cy="687" r="3.3"/><circle cy="610" r="3.3"/><circle cy="579" r="3.3"/><circle cy="612" r="3.3"/><circle cy="650" r="3.3"/><circle cy="627" r="3.3"/><circle cy="613" r="3.2"/><circle cy="694" r="3.2"/><circle cy="680" r="3.2"/><circle cy="614" r="3.2"/><circle cy="625" r="3.2"/><circle cy="674" r="3.2"/><circle cy="688" r="3.2"/><circle cy="669" r="3.2"/><circle cy="694" r="3.2"/><circle cy="655" r="3.2"/><circle cy="658" r="3.2"/><circle cy="610" r="3.2"/><circle cy="610" r="3.2"/><circle cy="648" r="3.2"/><circle cy="638" r="3.2"/><circle cy="555" r="3.2"/><circle cy="693" r="3.2"/><circle cy="598" r="3.1"/><circle cy="587" r="3.1"/><circle cy="683" r="3.1"/><circle cy="606" r="3.1"/><circle cy="694" r="3.1"/><circle cy="682" r="3.1"/><circle cy="643" r="3.1"/><circle cy="670" r="3.1"/><circle cy="632" r="3.1"/><circle cy="675" r="3.1"/><circle cy="618" r="3.1"/><circle cy="599" r="3.1"/><circle cy="655" r="3.1"/><circle cy="602" r="3.1"/><circle cy="644" r="3.1"/><circle cy="617" r="3.1"/><circle cy="663" r="3.1"/><circle cy="652" r="3.1"/><circle cy="596" r="3.1"/><circle cy="600" r="3.1"/><circle cy="654" r="3.1"/><circle cy="667" r="3.1"/><circle cy="632" r="3.1"/><circle cy="623" r="3.1"/><circle cy="593" r="3.0"/><circle cy="667" r="3.0"/><circle cy="684" r="3.0"/><circle cy="602" r="3.0"/><circle cy="606" r="3.0"/><circle cy="549" r="3.0"/><circle cy="640" r="3.0"/><circle cy="616" r="3.0"/><circle cy="643" r="3.0"/><circle cy="591" r="3.0"/><circle cy="621" r="2.9"/><circle cy="585" r="2.9"/><circle cy="684" r="2.9"/><circle cy="612" r="2.9"/><circle cy="645" r="2.9"/><circle cy="643" r="2.9"/><circle cy="688" r="2.9"/><circle cy="632" r="2.9"/><circle cy="624" r="2.9"/><circle cy="679" r="2.9"/><circle cy="663" r="2.9"/><circle cy="661" r="2.9"/><circle cy="626" r="2.8"/><circle cy="588" r="2.8"/><circle cy="633" r="2.8"/><circle cy="675" r="2.8"/><circle cy="690" r="2.8"/><circle cy="633" r="2.8"/><circle cy="607" r="2.8"/><circle cy="664" r="2.8"/><circle cy="603" r="2.8"/><circle cy="648" r="2.8"/><circle cy="607" r="2.8"/><circle cy="634" r="2.8"/><circle cy="620" r="2.8"/><circle cy="667" r="2.7"/><circle cy="629" r="2.7"/><circle cy="642" r="2.7"/><circle cy="678" r="2.7"/><circle cy="643" r="2.7"/><circle cy="593" r="2.7"/><circle cy="666" r="2.7"/><circle cy="617" r="2.6"/><circle cy="615" r="2.6"/><circle cy="598" r="2.6"/><circle cy="628" r="2.6"/><circle cy="646" r="2.6"/><circle cy="610" r="2.6"/><circle cy="597" r="2.6"/><circle cy="670" r="2.6"/><circle cy="637" r="2.6"/><circle cy="657" r="2.6"/><circle cy="588" r="2.5"/><circle cy="657" r="2.5"/><circle cy="664" r="2.5"/><circle cy="612" r="2.5"/><circle cy="598" r="2.5"/><circle cy="674" r="2.5"/><circle cy="557" r="2.5"/><circle cy="613" r="2.5"/><circle cy="604" r="2.5"/><circle cy="674" r="2.5"/><circle cy="638" r="2.5"/><circle cy="649" r="2.5"/><circle cy="544" r="2.5"/><circle cy="695" r="2.5"/><circle cy="606" r="2.5"/><circle cy="599" r="2.5"/><circle cy="643" r="2.5"/><circle cy="561" r="2.5"/><circle cy="676" r="2.5"/><circle cy="659" r="2.4"/><circle cy="645" r="2.4"/><circle cy="692" r="2.4"/><circle cy="596" r="2.4"/><circle cy="597" r="2.4"/><circle cy="593" r="2.4"/><circle cy="627" r="2.4"/><circle cy="643" r="2.4"/><circle cy="591" r="2.4"/><circle cy="644" r="2.4"/><circle cy="680" r="2.4"/><circle cy="591" r="2.4"/><circle cy="692" r="2.4"/><circle cy="600" r="2.4"/><circle cy="636" r="2.4"/><circle cy="638" r="2.3"/><circle cy="689" r="2.3"/><circle cy="635" r="2.3"/><circle cy="663" r="2.3"/><circle cy="610" r="2.3"/><circle cy="666" r="2.3"/><circle cy="599" r="2.3"/><circle cy="695" r="2.3"/><circle cy="683" r="2.2"/><circle cy="587" r="2.2"/><circle cy="668" r="2.2"/><circle cy="654" r="2.2"/><circle cy="633" r="2.2"/><circle cy="696" r="2.2"/><circle cy="695" r="2.2"/><circle cy="637" r="2.2"/><circle cy="683" r="2.2"/><circle cy="613" r="2.2"/><circle cy="640" r="2.2"/><circle cy="682" r="2.2"/><circle cy="664" r="2.1"/><circle cy="646" r="2.1"/><circle cy="672" r="2.1"/><circle cy="599" r="2.1"/><circle cy="619" r="2.1"/><circle cy="662" r="2.1"/><circle cy="593" r="2.1"/><circle cy="695" r="2.1"/><circle cy="657" r="2.1"/><circle cy="607" r="2.1"/><circle cy="649" r="2.1"/><circle cy="643" r="2.1"/><circle cy="594" r="2.1"/><circle cy="627" r="2.1"/><circle cy="667" r="2.1"/><circle cy="628" r="2.0"/><circle cy="685" r="2.0"/><circle cy="549" r="2.0"/><circle cy="636" r="2.0"/><circle cy="552" r="2.0"/><circle cy="434" r="2.0"/><circle cy="593" r="2.0"/><circle cy="614" r="2.0"/><circle cy="593" r="2.0"/><circle cy="688" r="2.0"/><circle cy="607" r="2.0"/><circle cy="664" r="2.0"/><circle cy="667" r="1.9"/><circle cy="590" r="1.9"/><circle cy="657" r="1.9"/><circle cy="568" r="1.9"/><circle cy="654" r="1.9"/><circle cy="626" r="1.9"/><circle cy="575" r="1.9"/><circle cy="591" r="1.9"/><circle cy="550" r="1.9"/><circle cy="652" r="1.9"/><circle cy="614" r="1.8"/><circle cy="637" r="1.8"/><circle cy="650" r="1.8"/><circle cy="600" r="1.8"/><circle cy="606" r="1.8"/><circle cy="623" r="1.8"/><circle cy="617" r="1.8"/><circle cy="608" r="1.8"/><circle cy="592" r="1.8"/><circle cy="670" r="1.8"/><circle cy="682" r="1.8"/><circle cy="601" r="1.8"/><circle cy="685" r="1.8"/><circle cy="682" r="1.8"/><circle cy="602" r="1.8"/><circle cy="618" r="1.7"/><circle cy="590" r="1.7"/><circle cy="658" r="1.7"/><circle cy="668" r="1.7"/><circle cy="653" r="1.7"/><circle cy="680" r="1.7"/><circle cy="658" r="1.7"/><circle cy="663" r="1.7"/><circle cy="589" r="1.7"/><circle cy="632" r="1.7"/><circle cy="669" r="1.7"/><circle cy="603" r="1.7"/><circle cy="660" r="1.7"/><circle cy="630" r="1.6"/><circle cy="693" r="1.6"/><circle cy="693" r="1.6"/><circle cy="663" r="1.6"/><circle cy="599" r="1.6"/><circle cy="692" r="1.6"/><circle cy="641" r="1.6"/><circle cy="663" r="1.6"/><circle cy="662" r="1.6"/><circle cy="653" r="1.6"/><circle cy="586" r="1.5"/><circle cy="676" r="1.5"/><circle cy="544" r="1.5"/><circle cy="601" r="1.5"/><circle cy="608" r="1.5"/><circle cy="633" r="1.5"/><circle cy="645" r="1.5"/><circle cy="625" r="1.5"/><circle cy="649" r="1.5"/><circle cy="640" r="1.5"/><circle cy="547" r="1.5"/></g></g><line x1="149.8" x2="225.1" y1="110.9" y2="110.9" stroke="#e3874e" stroke-width="1.8"/><line x1="149.8" x2="225.1" y1="443.5" y2="443.5" stroke="#e3874e" stroke-width="1.8"/><line x1="225.1" x2="300.4" y1="142.6" y2="142.6" stroke="#e3874e" stroke-width="1.8"/><line x1="225.1" x2="300.4" y1="504" y2="504" stroke="#e3874e" stroke-width="1.8"/><line x1="300.4" x2="375.6" y1="196.3" y2="196.3" stroke="#e3874e" stroke-width="1.8"/><line x1="300.4" x2="375.6" y1="546.2" y2="546.2" stroke="#e3874e" stroke-width="1.8"/><line x1="375.6" x2="450.9" y1="284.4" y2="284.4" stroke="#e3874e" stroke-width="1.8"/><line x1="375.6" x2="450.9" y1="577.2" y2="577.2" stroke="#e3874e" stroke-width="1.8"/><line x1="450.9" x2="526.2" y1="296.8" y2="296.8" stroke="#e3874e" stroke-width="1.8"/><line x1="450.9" x2="526.2" y1="599.3" y2="599.3" stroke="#e3874e" stroke-width="1.8"/><line x1="526.2" x2="601.5" y1="387.3" y2="387.3" stroke="#e3874e" stroke-width="1.8"/><line x1="526.2" x2="601.5" y1="616.6" y2="616.6" stroke="#e3874e" stroke-width="1.8"/><line x1="601.5" x2="676.8" y1="450.6" y2="450.6" stroke="#e3874e" stroke-width="1.8"/><line x1="601.5" x2="676.8" y1="630.5" y2="630.5" stroke="#e3874e" stroke-width="1.8"/><line x1="676.8" x2="752.0" y1="477.3" y2="477.3" stroke="#e3874e" stroke-width="1.8"/><line x1="676.8" x2="752.0" y1="645.9" y2="645.9" stroke="#e3874e" stroke-width="1.8"/><line x1="752.0" x2="827.3" y1="479" y2="479" stroke="#e3874e" stroke-width="1.8"/><line x1="752.0" x2="827.3" y1="648" y2="648" stroke="#e3874e" stroke-width="1.8"/><line x1="827.3" x2="902.6" y1="524.6" y2="524.6" stroke="#e3874e" stroke-width="1.8"/><line x1="827.3" x2="902.6" y1="655.2" y2="655.2" stroke="#e3874e" stroke-width="1.8"/><line x1="902.6" x2="977.9" y1="525" y2="525" stroke="#e3874e" stroke-width="1.8"/><line x1="902.6" x2="977.9" y1="668" y2="668" stroke="#e3874e" stroke-width="1.8"/><line x1="977.9" x2="1053.2" y1="562.2" y2="562.2" stroke="#e3874e" stroke-width="1.8"/><line x1="977.9" x2="1053.2" y1="668.8" y2="668.8" stroke="#e3874e" stroke-width="1.8"/><line x1="1053.2" x2="1128.4" y1="578.3" y2="578.3" stroke="#e3874e" stroke-width="1.8"/><line x1="1053.2" x2="1128.4" y1="672.4" y2="672.4" stroke="#e3874e" stroke-width="1.8"/><line x1="1128.4" x2="1203.7" y1="596.2" y2="596.2" stroke="#e3874e" stroke-width="1.8"/><line x1="1128.4" x2="1203.7" y1="676.9" y2="676.9" stroke="#e3874e" stroke-width="1.8"/><line x1="1203.7" x2="1279.0" y1="603.3" y2="603.3" stroke="#e3874e" stroke-width="1.8"/><line x1="1203.7" x2="1279.0" y1="680" y2="680" stroke="#e3874e" stroke-width="1.8"/><rect x="157.4" y="313.6" width="60" height="30.4" rx="15" fill="#fff" fill-opacity="0.6" filter="url(#blur)"/><line x1="156.1" x2="218.7" y1="352" y2="352" stroke="#f6ebd3" stroke-width="5.4"/><line x1="156.9" x2="217.9" y1="352" y2="352" stroke="#231f20" stroke-width="3.7"/><text transform="translate(187.4 336.8) scale(0.91 1)" text-anchor="middle" font-size="22" font-weight="bold" fill="#231f20">5 283</text><rect x="232.7" y="356.6" width="60" height="30.4" rx="15" fill="#fff" fill-opacity="0.6" filter="url(#blur)"/><line x1="231.4" x2="294.0" y1="395" y2="395" stroke="#f6ebd3" stroke-width="5.4"/><line x1="232.2" x2="293.2" y1="395" y2="395" stroke="#231f20" stroke-width="3.7"/><text transform="translate(262.7 379.8) scale(0.91 1)" text-anchor="middle" font-size="22" font-weight="bold" fill="#231f20">4 659</text><rect x="308.0" y="433.6" width="60" height="30.4" rx="15" fill="#fff" fill-opacity="0.6" filter="url(#blur)"/><line x1="306.7" x2="369.3" y1="472" y2="472" stroke="#f6ebd3" stroke-width="5.4"/><line x1="307.5" x2="368.5" y1="472" y2="472" stroke="#231f20" stroke-width="3.7"/><text transform="translate(338.0 456.8) scale(0.91 1)" text-anchor="middle" font-size="22" font-weight="bold" fill="#231f20">3 537</text><rect x="383.3" y="462.4" width="60" height="30.4" rx="15" fill="#fff" fill-opacity="0.6" filter="url(#blur)"/><line x1="382.0" x2="444.6" y1="500.8" y2="500.8" stroke="#f6ebd3" stroke-width="5.4"/><line x1="382.8" x2="443.8" y1="500.8" y2="500.8" stroke="#231f20" stroke-width="3.7"/><text transform="translate(413.3 485.6) scale(0.91 1)" text-anchor="middle" font-size="22" font-weight="bold" fill="#231f20">3 107</text><rect x="458.6" y="480.1" width="60" height="30.4" rx="15" fill="#fff" fill-opacity="0.6" filter="url(#blur)"/><line x1="457.3" x2="519.9" y1="518.5" y2="518.5" stroke="#f6ebd3" stroke-width="5.4"/><line x1="458.1" x2="519.1" y1="518.5" y2="518.5" stroke="#231f20" stroke-width="3.7"/><text transform="translate(488.6 503.3) scale(0.91 1)" text-anchor="middle" font-size="22" font-weight="bold" fill="#231f20">2 849</text><rect x="533.8" y="529.4" width="60" height="30.4" rx="15" fill="#fff" fill-opacity="0.6" filter="url(#blur)"/><line x1="532.5" x2="595.1" y1="567.8" y2="567.8" stroke="#f6ebd3" stroke-width="5.4"/><line x1="533.3" x2="594.3" y1="567.8" y2="567.8" stroke="#231f20" stroke-width="3.7"/><text transform="translate(563.8 552.6) scale(0.91 1)" text-anchor="middle" font-size="22" font-weight="bold" fill="#231f20">2 140</text><rect x="609.1" y="541.6" width="60" height="30.4" rx="15" fill="#fff" fill-opacity="0.6" filter="url(#blur)"/><line x1="607.8" x2="670.4" y1="580" y2="580" stroke="#f6ebd3" stroke-width="5.4"/><line x1="608.6" x2="669.6" y1="580" y2="580" stroke="#231f20" stroke-width="3.7"/><text transform="translate(639.1 564.8) scale(0.91 1)" text-anchor="middle" font-size="22" font-weight="bold" fill="#231f20">1 958</text><rect x="684.4" y="560.6" width="60" height="30.4" rx="15" fill="#fff" fill-opacity="0.6" filter="url(#blur)"/><line x1="683.1" x2="745.7" y1="599" y2="599" stroke="#f6ebd3" stroke-width="5.4"/><line x1="683.9" x2="744.9" y1="599" y2="599" stroke="#231f20" stroke-width="3.7"/><text transform="translate(714.4 583.8) scale(0.91 1)" text-anchor="middle" font-size="22" font-weight="bold" fill="#231f20">1 683</text><rect x="759.7" y="577.4" width="60" height="30.4" rx="15" fill="#fff" fill-opacity="0.6" filter="url(#blur)"/><line x1="758.4" x2="821.0" y1="615.8" y2="615.8" stroke="#f6ebd3" stroke-width="5.4"/><line x1="759.2" x2="820.2" y1="615.8" y2="615.8" stroke="#231f20" stroke-width="3.7"/><text transform="translate(789.7 600.6) scale(0.91 1)" text-anchor="middle" font-size="22" font-weight="bold" fill="#231f20">1 438</text><rect x="835.0" y="594.1" width="60" height="30.4" rx="15" fill="#fff" fill-opacity="0.6" filter="url(#blur)"/><line x1="833.7" x2="896.3" y1="632.5" y2="632.5" stroke="#f6ebd3" stroke-width="5.4"/><line x1="834.5" x2="895.5" y1="632.5" y2="632.5" stroke="#231f20" stroke-width="3.7"/><text transform="translate(865.0 617.3) scale(0.91 1)" text-anchor="middle" font-size="22" font-weight="bold" fill="#231f20">1 188</text><rect x="910.2" y="604.3" width="60" height="30.4" rx="15" fill="#fff" fill-opacity="0.6" filter="url(#blur)"/><line x1="908.9" x2="971.5" y1="642.7" y2="642.7" stroke="#f6ebd3" stroke-width="5.4"/><line x1="909.7" x2="970.7" y1="642.7" y2="642.7" stroke="#231f20" stroke-width="3.7"/><text transform="translate(940.2 627.5) scale(0.91 1)" text-anchor="middle" font-size="22" font-weight="bold" fill="#231f20">1 044</text><rect x="985.5" y="609.7" width="60" height="30.4" rx="15" fill="#fff" fill-opacity="0.6" filter="url(#blur)"/><line x1="984.2" x2="1046.8" y1="648.1" y2="648.1" stroke="#f6ebd3" stroke-width="5.4"/><line x1="985.0" x2="1046.0" y1="648.1" y2="648.1" stroke="#231f20" stroke-width="3.7"/><text transform="translate(1015.5 632.9) scale(0.91 1)" text-anchor="middle" font-size="22" font-weight="bold" fill="#231f20">973</text><rect x="1060.8" y="612.5" width="60" height="30.4" rx="15" fill="#fff" fill-opacity="0.6" filter="url(#blur)"/><line x1="1059.5" x2="1122.1" y1="650.9" y2="650.9" stroke="#f6ebd3" stroke-width="5.4"/><line x1="1060.3" x2="1121.3" y1="650.9" y2="650.9" stroke="#231f20" stroke-width="3.7"/><text transform="translate(1090.8 635.7) scale(0.91 1)" text-anchor="middle" font-size="22" font-weight="bold" fill="#231f20">930</text><rect x="1136.1" y="622.6" width="60" height="30.4" rx="15" fill="#fff" fill-opacity="0.6" filter="url(#blur)"/><line x1="1134.8" x2="1197.4" y1="661" y2="661" stroke="#f6ebd3" stroke-width="5.4"/><line x1="1135.6" x2="1196.6" y1="661" y2="661" stroke="#231f20" stroke-width="3.7"/><text transform="translate(1166.1 645.8) scale(0.91 1)" text-anchor="middle" font-size="22" font-weight="bold" fill="#231f20">776</text><rect x="1211.4" y="628.6" width="60" height="30.4" rx="15" fill="#fff" fill-opacity="0.6" filter="url(#blur)"/><line x1="1210.1" x2="1272.7" y1="667" y2="667" stroke="#f6ebd3" stroke-width="5.4"/><line x1="1210.9" x2="1271.9" y1="667" y2="667" stroke="#231f20" stroke-width="3.7"/><text transform="translate(1241.4 651.8) scale(0.91 1)" text-anchor="middle" font-size="22" font-weight="bold" fill="#231f20">691</text><line x1="149.8" x2="1279.2" y1="717.3" y2="717.3" stroke="#231f20" stroke-width="2.8"/><line x1="149.8" x2="149.8" y1="716" y2="725.7" stroke="#231f20" stroke-width="3"/><line x1="225.1" x2="225.1" y1="716" y2="725.7" stroke="#231f20" stroke-width="3"/><line x1="300.4" x2="300.4" y1="716" y2="725.7" stroke="#231f20" stroke-width="3"/><line x1="375.6" x2="375.6" y1="716" y2="725.7" stroke="#231f20" stroke-width="3"/><line x1="450.9" x2="450.9" y1="716" y2="725.7" stroke="#231f20" stroke-width="3"/><line x1="526.2" x2="526.2" y1="716" y2="725.7" stroke="#231f20" stroke-width="3"/><line x1="601.5" x2="601.5" y1="716" y2="725.7" stroke="#231f20" stroke-width="3"/><line x1="676.8" x2="676.8" y1="716" y2="725.7" stroke="#231f20" stroke-width="3"/><line x1="752.0" x2="752.0" y1="716" y2="725.7" stroke="#231f20" stroke-width="3"/><line x1="827.3" x2="827.3" y1="716" y2="725.7" stroke="#231f20" stroke-width="3"/><line x1="902.6" x2="902.6" y1="716" y2="725.7" stroke="#231f20" stroke-width="3"/><line x1="977.9" x2="977.9" y1="716" y2="725.7" stroke="#231f20" stroke-width="3"/><line x1="1053.2" x2="1053.2" y1="716" y2="725.7" stroke="#231f20" stroke-width="3"/><line x1="1128.4" x2="1128.4" y1="716" y2="725.7" stroke="#231f20" stroke-width="3"/><line x1="1203.7" x2="1203.7" y1="716" y2="725.7" stroke="#231f20" stroke-width="3"/><line x1="1279.0" x2="1279.0" y1="716" y2="725.7" stroke="#231f20" stroke-width="3"/><text transform="translate(187.4 746.3) scale(0.945 1)" text-anchor="middle" font-size="22" fill="#231f20">2010</text><text transform="translate(262.7 746.3) scale(0.945 1)" text-anchor="middle" font-size="22" fill="#231f20">2011</text><text transform="translate(338.0 746.3) scale(0.945 1)" text-anchor="middle" font-size="22" fill="#231f20">2012</text><text transform="translate(413.3 746.3) scale(0.945 1)" text-anchor="middle" font-size="22" fill="#231f20">2013</text><text transform="translate(488.6 746.3) scale(0.945 1)" text-anchor="middle" font-size="22" fill="#231f20">2014</text><text transform="translate(563.8 746.3) scale(0.945 1)" text-anchor="middle" font-size="22" fill="#231f20">2015</text><text transform="translate(639.1 746.3) scale(0.945 1)" text-anchor="middle" font-size="22" fill="#231f20">2016</text><text transform="translate(714.4 746.3) scale(0.945 1)" text-anchor="middle" font-size="22" fill="#231f20">2017</text><text transform="translate(789.7 746.3) scale(0.945 1)" text-anchor="middle" font-size="22" fill="#231f20">2018</text><text transform="translate(865.0 746.3) scale(0.945 1)" text-anchor="middle" font-size="22" fill="#231f20">2019</text><text transform="translate(940.2 746.3) scale(0.945 1)" text-anchor="middle" font-size="22" fill="#231f20">2020</text><text transform="translate(1015.5 746.3) scale(0.945 1)" text-anchor="middle" font-size="22" fill="#231f20">2021</text><text transform="translate(1090.8 746.3) scale(0.945 1)" text-anchor="middle" font-size="22" fill="#231f20">2022</text><text transform="translate(1166.1 746.3) scale(0.945 1)" text-anchor="middle" font-size="22" fill="#231f20">2023</text><text transform="translate(1241.4 746.3) scale(0.945 1)" text-anchor="middle" font-size="22" fill="#231f20">2024</text><text transform="translate(139.4 724.9) scale(0.935 1)" text-anchor="end" font-size="21.8" fill="#231f20">0</text><text transform="translate(139.4 656.3) scale(0.935 1)" text-anchor="end" font-size="21.8" fill="#231f20">1 000</text><text transform="translate(139.4 587.7) scale(0.935 1)" text-anchor="end" font-size="21.8" fill="#231f20">2 000</text><text transform="translate(139.4 519.0) scale(0.935 1)" text-anchor="end" font-size="21.8" fill="#231f20">3 000</text><text transform="translate(139.4 450.4) scale(0.935 1)" text-anchor="end" font-size="21.8" fill="#231f20">4 000</text><text transform="translate(139.4 381.8) scale(0.935 1)" text-anchor="end" font-size="21.8" fill="#231f20">5 000</text><text transform="translate(139.4 313.2) scale(0.935 1)" text-anchor="end" font-size="21.8" fill="#231f20">6 000</text><text transform="translate(139.4 244.6) scale(0.935 1)" text-anchor="end" font-size="21.8" fill="#231f20">7 000</text><text transform="translate(139.4 175.9) scale(0.935 1)" text-anchor="end" font-size="21.8" fill="#231f20">8 000</text><text transform="translate(139.4 107.3) scale(0.935 1)" text-anchor="end" font-size="21.8" fill="#231f20">9 000</text><text transform="translate(71.7 408.3) rotate(-90)" text-anchor="middle" font-size="20.7" fill="#58595b">2024 USD/kW</text><text x="383.8" y="212.8" font-size="18" fill="#231f20">95<tspan font-size="11" dy="-7">th</tspan><tspan dy="7"> percentile</tspan></text><text x="188.4" y="550" font-size="18" fill="#231f20">5<tspan font-size="11" dy="-7">th</tspan><tspan dy="7"> percentile</tspan></text><line x1="148.6" x2="182.7" y1="788.2" y2="788.2" stroke="#231f20" stroke-width="2.8"/><text x="192.6" y="794.8" font-size="18" fill="#231f20">weighted average</text><text x="481.3" y="794.8" font-size="18" fill="#231f20">Capacity (MW)</text><circle cx="628.5" cy="788.3" r="2.6" fill="#c9cacc" stroke="#fff" stroke-width="1"/><text x="644.7" y="794.8" font-size="18" fill="#231f20">1</text><circle cx="688.3" cy="788.3" r="8.8" fill="#c9cacc" stroke="#fff" stroke-width="1"/><text x="710" y="794.8" font-size="18" fill="#231f20">100</text><circle cx="777.2" cy="788.3" r="12.3" fill="#c9cacc" stroke="#fff" stroke-width="1"/><text x="802.1" y="794.8" font-size="18" fill="#231f20">200</text><circle cx="873.7" cy="788.3" r="15.6" fill="#c9cacc" stroke="#fff" stroke-width="1"/><text x="903.1" y="794.8" font-size="18" fill="#231f20">≥ 300</text></svg>
<div class="t" id="notes"><b>Notes:</b> kW = kilowatt; MW = megawatt; USD = United States dollar.</div>
<div id="sep"></div>
<div class="t" id="foot"><sup>27</sup>TIC data in this report are expressed as per kW of direct current (DC) for solar PV only.</div>
</body></html>
